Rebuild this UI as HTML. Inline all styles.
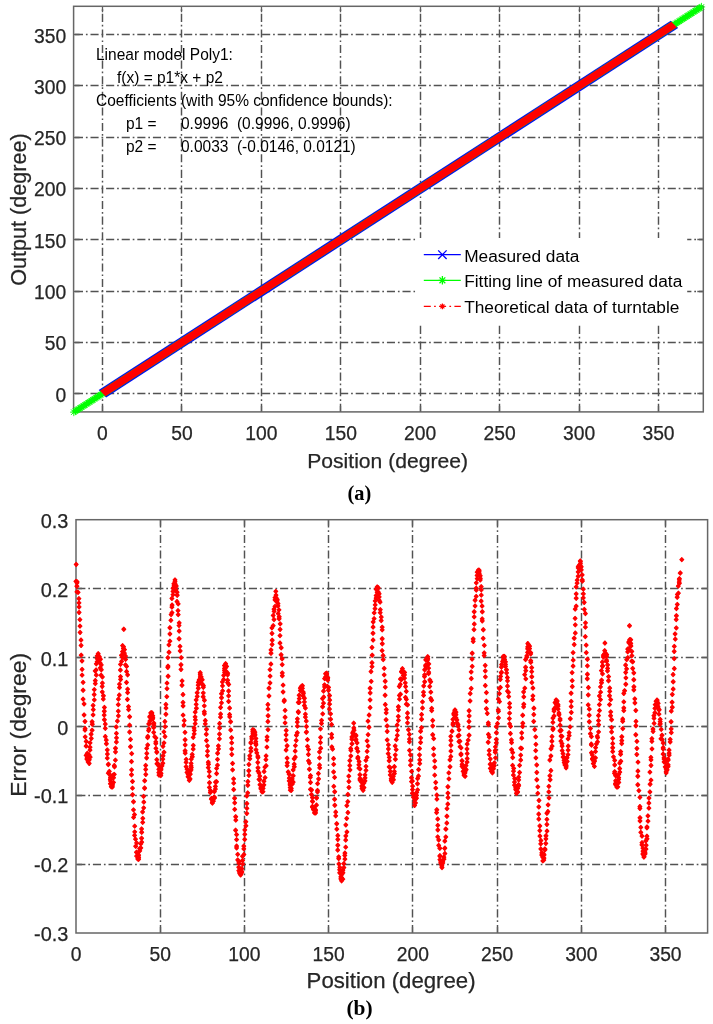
<!DOCTYPE html>
<html><head><meta charset="utf-8"><title>Figure</title>
<style>
html,body{margin:0;padding:0;background:#fff;}
body{width:713px;height:1024px;position:relative;overflow:hidden;font-family:"Liberation Sans",sans-serif;}
svg text{font-family:"Liberation Sans",sans-serif;}
svg text.cap{font-family:"Liberation Serif","DejaVu Serif",serif;}
</style></head><body>
<svg width="713" height="1024" viewBox="0 0 713 1024" style="display:block;position:absolute;left:0;top:0">
<rect width="713" height="1024" fill="#fff"/>
<g stroke="#525252" stroke-width="1.45" stroke-dasharray="8.1 2.9 1.7 2.9" fill="none">
<path d="M102.50 411.9 V6.3"/>
<path d="M181.50 411.9 V6.3"/>
<path d="M261.50 411.9 V6.3"/>
<path d="M340.50 411.9 V6.3"/>
<path d="M420.50 411.9 V6.3"/>
<path d="M499.50 411.9 V6.3"/>
<path d="M579.50 411.9 V6.3"/>
<path d="M658.50 411.9 V6.3"/>
<path d="M74.89999999999999 393.50 H703.3"/>
<path d="M74.89999999999999 342.50 H703.3"/>
<path d="M74.89999999999999 291.50 H703.3"/>
<path d="M74.89999999999999 239.50 H703.3"/>
<path d="M74.89999999999999 188.50 H703.3"/>
<path d="M74.89999999999999 137.50 H703.3"/>
<path d="M74.89999999999999 85.50 H703.3"/>
<path d="M74.89999999999999 34.50 H703.3"/>
</g>
<path d="M102.5 411.9v-6M102.5 6.3v6M73.6 393.5h6M703.3 393.5h-6M181.5 411.9v-6M181.5 6.3v6M73.6 342.5h6M703.3 342.5h-6M261.5 411.9v-6M261.5 6.3v6M73.6 291.5h6M703.3 291.5h-6M340.5 411.9v-6M340.5 6.3v6M73.6 239.5h6M703.3 239.5h-6M420.5 411.9v-6M420.5 6.3v6M73.6 188.5h6M703.3 188.5h-6M499.5 411.9v-6M499.5 6.3v6M73.6 137.5h6M703.3 137.5h-6M579.5 411.9v-6M579.5 6.3v6M73.6 85.5h6M703.3 85.5h-6M658.5 411.9v-6M658.5 6.3v6M73.6 34.5h6M703.3 34.5h-6" stroke="#5c5c5c" stroke-width="1.3" fill="none"/>
<rect x="73.6" y="6.3" width="629.6999999999999" height="405.59999999999997" fill="none" stroke="#666666" stroke-width="1.5"/>
<polygon points="98.70,390.00 106.10,397.40 678.14,28.04 670.74,20.64" fill="#0000ff"/>
<polygon points="99.35,390.65 105.45,396.75 677.49,27.39 671.39,21.29" fill="#00d000" opacity="0.45"/>
<polygon points="75.2,414.3 75.9,413.8 76.7,413.2 77.5,412.7 78.3,412.2 79.1,411.7 79.9,411.2 80.7,410.7 81.5,410.2 82.3,409.7 83.1,409.1 83.9,408.6 84.7,408.1 85.5,407.6 86.3,407.1 87.1,406.6 87.9,406.1 88.7,405.5 89.5,405.0 90.2,404.5 91.0,404.0 91.8,403.5 92.6,403.0 93.4,402.5 94.2,402.0 95.0,401.4 95.8,400.9 96.6,400.4 97.4,399.9 98.2,399.4 99.0,398.9 99.8,398.4 100.6,397.9 101.4,397.3 102.2,396.8 103.0,396.3 103.8,395.8 104.6,395.3 105.3,394.8 106.1,394.3 106.9,393.7 107.7,393.2 108.5,392.7 109.3,392.2 110.1,391.7 110.9,391.2 111.7,390.7 112.5,390.2 113.3,389.6 114.1,389.1 114.9,388.6 115.7,388.1 116.5,387.6 117.3,387.1 118.1,386.6 118.9,386.1 119.6,385.5 120.4,385.0 121.2,384.5 122.0,384.0 122.8,383.5 123.6,383.0 124.4,382.5 125.2,381.9 126.0,381.4 126.8,380.9 127.6,380.4 128.4,379.9 129.2,379.4 130.0,378.9 130.8,378.4 131.6,377.8 132.4,377.3 133.2,376.8 133.9,376.3 134.7,375.8 135.5,375.3 136.3,374.8 137.1,374.3 137.9,373.7 138.7,373.2 139.5,372.7 140.3,372.2 141.1,371.7 141.9,371.2 142.7,370.7 143.5,370.2 144.3,369.6 145.1,369.1 145.9,368.6 146.7,368.1 147.5,367.6 148.2,367.1 149.0,366.6 149.8,366.0 150.6,365.5 151.4,365.0 152.2,364.5 153.0,364.0 153.8,363.5 154.6,363.0 155.4,362.5 156.2,361.9 157.0,361.4 157.8,360.9 158.6,360.4 159.4,359.9 160.2,359.4 161.0,358.9 161.8,358.4 162.5,357.8 163.3,357.3 164.1,356.8 164.9,356.3 165.7,355.8 166.5,355.3 167.3,354.8 168.1,354.2 168.9,353.7 169.7,353.2 170.5,352.7 171.3,352.2 172.1,351.7 172.9,351.2 173.7,350.7 174.5,350.1 175.3,349.6 176.1,349.1 176.9,348.6 177.6,348.1 178.4,347.6 179.2,347.1 180.0,346.6 180.8,346.0 181.6,345.5 182.4,345.0 183.2,344.5 184.0,344.0 184.8,343.5 185.6,343.0 186.4,342.4 187.2,341.9 188.0,341.4 188.8,340.9 189.6,340.4 190.4,339.9 191.2,339.4 191.9,338.9 192.7,338.3 193.5,337.8 194.3,337.3 195.1,336.8 195.9,336.3 196.7,335.8 197.5,335.3 198.3,334.8 199.1,334.2 199.9,333.7 200.7,333.2 201.5,332.7 202.3,332.2 203.1,331.7 203.9,331.2 204.7,330.6 205.5,330.1 206.2,329.6 207.0,329.1 207.8,328.6 208.6,328.1 209.4,327.6 210.2,327.1 211.0,326.5 211.8,326.0 212.6,325.5 213.4,325.0 214.2,324.5 215.0,324.0 215.8,323.5 216.6,323.0 217.4,322.4 218.2,321.9 219.0,321.4 219.8,320.9 220.5,320.4 221.3,319.9 222.1,319.4 222.9,318.9 223.7,318.3 224.5,317.8 225.3,317.3 226.1,316.8 226.9,316.3 227.7,315.8 228.5,315.3 229.3,314.7 230.1,314.2 230.9,313.7 231.7,313.2 232.5,312.7 233.3,312.2 234.1,311.7 234.8,311.2 235.6,310.6 236.4,310.1 237.2,309.6 238.0,309.1 238.8,308.6 239.6,308.1 240.4,307.6 241.2,307.1 242.0,306.5 242.8,306.0 243.6,305.5 244.4,305.0 245.2,304.5 246.0,304.0 246.8,303.5 247.6,302.9 248.4,302.4 249.1,301.9 249.9,301.4 250.7,300.9 251.5,300.4 252.3,299.9 253.1,299.4 253.9,298.8 254.7,298.3 255.5,297.8 256.3,297.3 257.1,296.8 257.9,296.3 258.7,295.8 259.5,295.3 260.3,294.7 261.1,294.2 261.9,293.7 262.7,293.2 263.5,292.7 264.2,292.2 265.0,291.7 265.8,291.1 266.6,290.6 267.4,290.1 268.2,289.6 269.0,289.1 269.8,288.6 270.6,288.1 271.4,287.6 272.2,287.0 273.0,286.5 273.8,286.0 274.6,285.5 275.4,285.0 276.2,284.5 277.0,284.0 277.8,283.5 278.5,282.9 279.3,282.4 280.1,281.9 280.9,281.4 281.7,280.9 282.5,280.4 283.3,279.9 284.1,279.3 284.9,278.8 285.7,278.3 286.5,277.8 287.3,277.3 288.1,276.8 288.9,276.3 289.7,275.8 290.5,275.2 291.3,274.7 292.1,274.2 292.8,273.7 293.6,273.2 294.4,272.7 295.2,272.2 296.0,271.7 296.8,271.1 297.6,270.6 298.4,270.1 299.2,269.6 300.0,269.1 300.8,268.6 301.6,268.1 302.4,267.6 303.2,267.0 304.0,266.5 304.8,266.0 305.6,265.5 306.4,265.0 307.1,264.5 307.9,264.0 308.7,263.4 309.5,262.9 310.3,262.4 311.1,261.9 311.9,261.4 312.7,260.9 313.5,260.4 314.3,259.9 315.1,259.3 315.9,258.8 316.7,258.3 317.5,257.8 318.3,257.3 319.1,256.8 319.9,256.3 320.7,255.8 321.4,255.2 322.2,254.7 323.0,254.2 323.8,253.7 324.6,253.2 325.4,252.7 326.2,252.2 327.0,251.6 327.8,251.1 328.6,250.6 329.4,250.1 330.2,249.6 331.0,249.1 331.8,248.6 332.6,248.1 333.4,247.5 334.2,247.0 335.0,246.5 335.8,246.0 336.5,245.5 337.3,245.0 338.1,244.5 338.9,244.0 339.7,243.4 340.5,242.9 341.3,242.4 342.1,241.9 342.9,241.4 343.7,240.9 344.5,240.4 345.3,239.8 346.1,239.3 346.9,238.8 347.7,238.3 348.5,237.8 349.3,237.3 350.1,236.8 350.8,236.3 351.6,235.7 352.4,235.2 353.2,234.7 354.0,234.2 354.8,233.7 355.6,233.2 356.4,232.7 357.2,232.2 358.0,231.6 358.8,231.1 359.6,230.6 360.4,230.1 361.2,229.6 362.0,229.1 362.8,228.6 363.6,228.0 364.4,227.5 365.1,227.0 365.9,226.5 366.7,226.0 367.5,225.5 368.3,225.0 369.1,224.5 369.9,223.9 370.7,223.4 371.5,222.9 372.3,222.4 373.1,221.9 373.9,221.4 374.7,220.9 375.5,220.4 376.3,219.8 377.1,219.3 377.9,218.8 378.7,218.3 379.4,217.8 380.2,217.3 381.0,216.8 381.8,216.3 382.6,215.7 383.4,215.2 384.2,214.7 385.0,214.2 385.8,213.7 386.6,213.2 387.4,212.7 388.2,212.1 389.0,211.6 389.8,211.1 390.6,210.6 391.4,210.1 392.2,209.6 393.0,209.1 393.7,208.6 394.5,208.0 395.3,207.5 396.1,207.0 396.9,206.5 397.7,206.0 398.5,205.5 399.3,205.0 400.1,204.5 400.9,203.9 401.7,203.4 402.5,202.9 403.3,202.4 404.1,201.9 404.9,201.4 405.7,200.9 406.5,200.3 407.3,199.8 408.0,199.3 408.8,198.8 409.6,198.3 410.4,197.8 411.2,197.3 412.0,196.8 412.8,196.2 413.6,195.7 414.4,195.2 415.2,194.7 416.0,194.2 416.8,193.7 417.6,193.2 418.4,192.7 419.2,192.1 420.0,191.6 420.8,191.1 421.6,190.6 422.4,190.1 423.1,189.6 423.9,189.1 424.7,188.5 425.5,188.0 426.3,187.5 427.1,187.0 427.9,186.5 428.7,186.0 429.5,185.5 430.3,185.0 431.1,184.4 431.9,183.9 432.7,183.4 433.5,182.9 434.3,182.4 435.1,181.9 435.9,181.4 436.7,180.9 437.4,180.3 438.2,179.8 439.0,179.3 439.8,178.8 440.6,178.3 441.4,177.8 442.2,177.3 443.0,176.7 443.8,176.2 444.6,175.7 445.4,175.2 446.2,174.7 447.0,174.2 447.8,173.7 448.6,173.2 449.4,172.6 450.2,172.1 451.0,171.6 451.7,171.1 452.5,170.6 453.3,170.1 454.1,169.6 454.9,169.1 455.7,168.5 456.5,168.0 457.3,167.5 458.1,167.0 458.9,166.5 459.7,166.0 460.5,165.5 461.3,165.0 462.1,164.4 462.9,163.9 463.7,163.4 464.5,162.9 465.3,162.4 466.0,161.9 466.8,161.4 467.6,160.8 468.4,160.3 469.2,159.8 470.0,159.3 470.8,158.8 471.6,158.3 472.4,157.8 473.2,157.3 474.0,156.7 474.8,156.2 475.6,155.7 476.4,155.2 477.2,154.7 478.0,154.2 478.8,153.7 479.6,153.2 480.3,152.6 481.1,152.1 481.9,151.6 482.7,151.1 483.5,150.6 484.3,150.1 485.1,149.6 485.9,149.0 486.7,148.5 487.5,148.0 488.3,147.5 489.1,147.0 489.9,146.5 490.7,146.0 491.5,145.5 492.3,144.9 493.1,144.4 493.9,143.9 494.7,143.4 495.4,142.9 496.2,142.4 497.0,141.9 497.8,141.4 498.6,140.8 499.4,140.3 500.2,139.8 501.0,139.3 501.8,138.8 502.6,138.3 503.4,137.8 504.2,137.2 505.0,136.7 505.8,136.2 506.6,135.7 507.4,135.2 508.2,134.7 509.0,134.2 509.7,133.7 510.5,133.1 511.3,132.6 512.1,132.1 512.9,131.6 513.7,131.1 514.5,130.6 515.3,130.1 516.1,129.6 516.9,129.0 517.7,128.5 518.5,128.0 519.3,127.5 520.1,127.0 520.9,126.5 521.7,126.0 522.5,125.4 523.3,124.9 524.0,124.4 524.8,123.9 525.6,123.4 526.4,122.9 527.2,122.4 528.0,121.9 528.8,121.3 529.6,120.8 530.4,120.3 531.2,119.8 532.0,119.3 532.8,118.8 533.6,118.3 534.4,117.8 535.2,117.2 536.0,116.7 536.8,116.2 537.6,115.7 538.3,115.2 539.1,114.7 539.9,114.2 540.7,113.7 541.5,113.1 542.3,112.6 543.1,112.1 543.9,111.6 544.7,111.1 545.5,110.6 546.3,110.1 547.1,109.5 547.9,109.0 548.7,108.5 549.5,108.0 550.3,107.5 551.1,107.0 551.9,106.5 552.6,106.0 553.4,105.4 554.2,104.9 555.0,104.4 555.8,103.9 556.6,103.4 557.4,102.9 558.2,102.4 559.0,101.9 559.8,101.3 560.6,100.8 561.4,100.3 562.2,99.8 563.0,99.3 563.8,98.8 564.6,98.3 565.4,97.7 566.2,97.2 566.9,96.7 567.7,96.2 568.5,95.7 569.3,95.2 570.1,94.7 570.9,94.2 571.7,93.6 572.5,93.1 573.3,92.6 574.1,92.1 574.9,91.6 575.7,91.1 576.5,90.6 577.3,90.1 578.1,89.5 578.9,89.0 579.7,88.5 580.5,88.0 581.3,87.5 582.0,87.0 582.8,86.5 583.6,85.9 584.4,85.4 585.2,84.9 586.0,84.4 586.8,83.9 587.6,83.4 588.4,82.9 589.2,82.4 590.0,81.8 590.8,81.3 591.6,80.8 592.4,80.3 593.2,79.8 594.0,79.3 594.8,78.8 595.6,78.3 596.3,77.7 597.1,77.2 597.9,76.7 598.7,76.2 599.5,75.7 600.3,75.2 601.1,74.7 601.9,74.1 602.7,73.6 603.5,73.1 604.3,72.6 605.1,72.1 605.9,71.6 606.7,71.1 607.5,70.6 608.3,70.0 609.1,69.5 609.9,69.0 610.6,68.5 611.4,68.0 612.2,67.5 613.0,67.0 613.8,66.5 614.6,65.9 615.4,65.4 616.2,64.9 617.0,64.4 617.8,63.9 618.6,63.4 619.4,62.9 620.2,62.4 621.0,61.8 621.8,61.3 622.6,60.8 623.4,60.3 624.2,59.8 624.9,59.3 625.7,58.8 626.5,58.2 627.3,57.7 628.1,57.2 628.9,56.7 629.7,56.2 630.5,55.7 631.3,55.2 632.1,54.7 632.9,54.1 633.7,53.6 634.5,53.1 635.3,52.6 636.1,52.1 636.9,51.6 637.7,51.1 638.5,50.6 639.2,50.0 640.0,49.5 640.8,49.0 641.6,48.5 642.4,48.0 643.2,47.5 644.0,47.0 644.8,46.4 645.6,45.9 646.4,45.4 647.2,44.9 648.0,44.4 648.8,43.9 649.6,43.4 650.4,42.9 651.2,42.3 652.0,41.8 652.8,41.3 653.6,40.8 654.3,40.3 655.1,39.8 655.9,39.3 656.7,38.8 657.5,38.2 658.3,37.7 659.1,37.2 659.9,36.7 660.7,36.2 661.5,35.7 662.3,35.2 663.1,34.6 663.9,34.1 664.7,33.6 665.5,33.1 666.3,32.6 667.1,32.1 667.9,31.6 668.6,31.1 669.4,30.5 670.2,30.0 671.0,29.5 671.8,29.0 672.6,28.5 673.4,28.0 674.2,27.5 675.0,27.0 675.8,26.4 676.6,25.9 677.4,25.4 678.2,24.9 679.0,24.4 679.8,23.9 680.6,23.4 681.4,22.8 682.2,22.3 682.9,21.8 683.7,21.3 684.5,20.8 685.3,20.3 686.1,19.8 686.9,19.3 687.7,18.7 688.5,18.2 689.3,17.7 690.1,17.2 690.9,16.7 691.7,16.2 692.5,15.7 693.3,15.2 694.1,14.6 694.9,14.1 695.7,13.6 696.5,13.1 697.2,12.6 698.0,12.1 698.8,11.6 699.6,11.1 700.4,10.5 701.2,10.0 702.0,9.5 702.8,9.0 700.1,4.8 699.3,5.3 698.5,5.8 697.7,6.3 696.9,6.8 696.1,7.4 695.3,7.9 694.5,8.4 693.7,8.9 692.9,9.4 692.2,9.9 691.4,10.4 690.6,11.0 689.8,11.5 689.0,12.0 688.2,12.5 687.4,13.0 686.6,13.5 685.8,14.0 685.0,14.5 684.2,15.1 683.4,15.6 682.6,16.1 681.8,16.6 681.0,17.1 680.2,17.6 679.4,18.1 678.6,18.6 677.9,19.2 677.1,19.7 676.3,20.2 675.5,20.7 674.7,21.2 673.9,21.7 673.1,22.2 672.3,22.8 671.5,23.3 670.7,23.8 669.9,24.3 669.1,24.8 668.3,25.3 667.5,25.8 666.7,26.3 665.9,26.9 665.1,27.4 664.3,27.9 663.5,28.4 662.8,28.9 662.0,29.4 661.2,29.9 660.4,30.4 659.6,31.0 658.8,31.5 658.0,32.0 657.2,32.5 656.4,33.0 655.6,33.5 654.8,34.0 654.0,34.6 653.2,35.1 652.4,35.6 651.6,36.1 650.8,36.6 650.0,37.1 649.2,37.6 648.5,38.1 647.7,38.7 646.9,39.2 646.1,39.7 645.3,40.2 644.5,40.7 643.7,41.2 642.9,41.7 642.1,42.2 641.3,42.8 640.5,43.3 639.7,43.8 638.9,44.3 638.1,44.8 637.3,45.3 636.5,45.8 635.7,46.4 634.9,46.9 634.2,47.4 633.4,47.9 632.6,48.4 631.8,48.9 631.0,49.4 630.2,49.9 629.4,50.5 628.6,51.0 627.8,51.5 627.0,52.0 626.2,52.5 625.4,53.0 624.6,53.5 623.8,54.0 623.0,54.6 622.2,55.1 621.4,55.6 620.6,56.1 619.9,56.6 619.1,57.1 618.3,57.6 617.5,58.1 616.7,58.7 615.9,59.2 615.1,59.7 614.3,60.2 613.5,60.7 612.7,61.2 611.9,61.7 611.1,62.3 610.3,62.8 609.5,63.3 608.7,63.8 607.9,64.3 607.1,64.8 606.3,65.3 605.6,65.8 604.8,66.4 604.0,66.9 603.2,67.4 602.4,67.9 601.6,68.4 600.8,68.9 600.0,69.4 599.2,69.9 598.4,70.5 597.6,71.0 596.8,71.5 596.0,72.0 595.2,72.5 594.4,73.0 593.6,73.5 592.8,74.1 592.0,74.6 591.3,75.1 590.5,75.6 589.7,76.1 588.9,76.6 588.1,77.1 587.3,77.6 586.5,78.2 585.7,78.7 584.9,79.2 584.1,79.7 583.3,80.2 582.5,80.7 581.7,81.2 580.9,81.7 580.1,82.3 579.3,82.8 578.5,83.3 577.7,83.8 576.9,84.3 576.2,84.8 575.4,85.3 574.6,85.9 573.8,86.4 573.0,86.9 572.2,87.4 571.4,87.9 570.6,88.4 569.8,88.9 569.0,89.4 568.2,90.0 567.4,90.5 566.6,91.0 565.8,91.5 565.0,92.0 564.2,92.5 563.4,93.0 562.6,93.5 561.9,94.1 561.1,94.6 560.3,95.1 559.5,95.6 558.7,96.1 557.9,96.6 557.1,97.1 556.3,97.7 555.5,98.2 554.7,98.7 553.9,99.2 553.1,99.7 552.3,100.2 551.5,100.7 550.7,101.2 549.9,101.8 549.1,102.3 548.3,102.8 547.6,103.3 546.8,103.8 546.0,104.3 545.2,104.8 544.4,105.3 543.6,105.9 542.8,106.4 542.0,106.9 541.2,107.4 540.4,107.9 539.6,108.4 538.8,108.9 538.0,109.4 537.2,110.0 536.4,110.5 535.6,111.0 534.8,111.5 534.0,112.0 533.3,112.5 532.5,113.0 531.7,113.6 530.9,114.1 530.1,114.6 529.3,115.1 528.5,115.6 527.7,116.1 526.9,116.6 526.1,117.1 525.3,117.7 524.5,118.2 523.7,118.7 522.9,119.2 522.1,119.7 521.3,120.2 520.5,120.7 519.7,121.2 519.0,121.8 518.2,122.3 517.4,122.8 516.6,123.3 515.8,123.8 515.0,124.3 514.2,124.8 513.4,125.4 512.6,125.9 511.8,126.4 511.0,126.9 510.2,127.4 509.4,127.9 508.6,128.4 507.8,128.9 507.0,129.5 506.2,130.0 505.4,130.5 504.6,131.0 503.9,131.5 503.1,132.0 502.3,132.5 501.5,133.0 500.7,133.6 499.9,134.1 499.1,134.6 498.3,135.1 497.5,135.6 496.7,136.1 495.9,136.6 495.1,137.2 494.3,137.7 493.5,138.2 492.7,138.7 491.9,139.2 491.1,139.7 490.3,140.2 489.6,140.7 488.8,141.3 488.0,141.8 487.2,142.3 486.4,142.8 485.6,143.3 484.8,143.8 484.0,144.3 483.2,144.8 482.4,145.4 481.6,145.9 480.8,146.4 480.0,146.9 479.2,147.4 478.4,147.9 477.6,148.4 476.8,149.0 476.0,149.5 475.3,150.0 474.5,150.5 473.7,151.0 472.9,151.5 472.1,152.0 471.3,152.5 470.5,153.1 469.7,153.6 468.9,154.1 468.1,154.6 467.3,155.1 466.5,155.6 465.7,156.1 464.9,156.6 464.1,157.2 463.3,157.7 462.5,158.2 461.7,158.7 461.0,159.2 460.2,159.7 459.4,160.2 458.6,160.7 457.8,161.3 457.0,161.8 456.2,162.3 455.4,162.8 454.6,163.3 453.8,163.8 453.0,164.3 452.2,164.9 451.4,165.4 450.6,165.9 449.8,166.4 449.0,166.9 448.2,167.4 447.4,167.9 446.7,168.4 445.9,169.0 445.1,169.5 444.3,170.0 443.5,170.5 442.7,171.0 441.9,171.5 441.1,172.0 440.3,172.5 439.5,173.1 438.7,173.6 437.9,174.1 437.1,174.6 436.3,175.1 435.5,175.6 434.7,176.1 433.9,176.7 433.1,177.2 432.4,177.7 431.6,178.2 430.8,178.7 430.0,179.2 429.2,179.7 428.4,180.2 427.6,180.8 426.8,181.3 426.0,181.8 425.2,182.3 424.4,182.8 423.6,183.3 422.8,183.8 422.0,184.3 421.2,184.9 420.4,185.4 419.6,185.9 418.8,186.4 418.0,186.9 417.3,187.4 416.5,187.9 415.7,188.5 414.9,189.0 414.1,189.5 413.3,190.0 412.5,190.5 411.7,191.0 410.9,191.5 410.1,192.0 409.3,192.6 408.5,193.1 407.7,193.6 406.9,194.1 406.1,194.6 405.3,195.1 404.5,195.6 403.7,196.1 403.0,196.7 402.2,197.2 401.4,197.7 400.6,198.2 399.8,198.7 399.0,199.2 398.2,199.7 397.4,200.3 396.6,200.8 395.8,201.3 395.0,201.8 394.2,202.3 393.4,202.8 392.6,203.3 391.8,203.8 391.0,204.4 390.2,204.9 389.4,205.4 388.7,205.9 387.9,206.4 387.1,206.9 386.3,207.4 385.5,207.9 384.7,208.5 383.9,209.0 383.1,209.5 382.3,210.0 381.5,210.5 380.7,211.0 379.9,211.5 379.1,212.0 378.3,212.6 377.5,213.1 376.7,213.6 375.9,214.1 375.1,214.6 374.4,215.1 373.6,215.6 372.8,216.2 372.0,216.7 371.2,217.2 370.4,217.7 369.6,218.2 368.8,218.7 368.0,219.2 367.2,219.7 366.4,220.3 365.6,220.8 364.8,221.3 364.0,221.8 363.2,222.3 362.4,222.8 361.6,223.3 360.8,223.8 360.1,224.4 359.3,224.9 358.5,225.4 357.7,225.9 356.9,226.4 356.1,226.9 355.3,227.4 354.5,228.0 353.7,228.5 352.9,229.0 352.1,229.5 351.3,230.0 350.5,230.5 349.7,231.0 348.9,231.5 348.1,232.1 347.3,232.6 346.5,233.1 345.7,233.6 345.0,234.1 344.2,234.6 343.4,235.1 342.6,235.6 341.8,236.2 341.0,236.7 340.2,237.2 339.4,237.7 338.6,238.2 337.8,238.7 337.0,239.2 336.2,239.8 335.4,240.3 334.6,240.8 333.8,241.3 333.0,241.8 332.2,242.3 331.4,242.8 330.7,243.3 329.9,243.9 329.1,244.4 328.3,244.9 327.5,245.4 326.7,245.9 325.9,246.4 325.1,246.9 324.3,247.4 323.5,248.0 322.7,248.5 321.9,249.0 321.1,249.5 320.3,250.0 319.5,250.5 318.7,251.0 317.9,251.6 317.1,252.1 316.4,252.6 315.6,253.1 314.8,253.6 314.0,254.1 313.2,254.6 312.4,255.1 311.6,255.7 310.8,256.2 310.0,256.7 309.2,257.2 308.4,257.7 307.6,258.2 306.8,258.7 306.0,259.2 305.2,259.8 304.4,260.3 303.6,260.8 302.8,261.3 302.1,261.8 301.3,262.3 300.5,262.8 299.7,263.3 298.9,263.9 298.1,264.4 297.3,264.9 296.5,265.4 295.7,265.9 294.9,266.4 294.1,266.9 293.3,267.5 292.5,268.0 291.7,268.5 290.9,269.0 290.1,269.5 289.3,270.0 288.5,270.5 287.8,271.0 287.0,271.6 286.2,272.1 285.4,272.6 284.6,273.1 283.8,273.6 283.0,274.1 282.2,274.6 281.4,275.1 280.6,275.7 279.8,276.2 279.0,276.7 278.2,277.2 277.4,277.7 276.6,278.2 275.8,278.7 275.0,279.3 274.2,279.8 273.5,280.3 272.7,280.8 271.9,281.3 271.1,281.8 270.3,282.3 269.5,282.8 268.7,283.4 267.9,283.9 267.1,284.4 266.3,284.9 265.5,285.4 264.7,285.9 263.9,286.4 263.1,286.9 262.3,287.5 261.5,288.0 260.7,288.5 259.9,289.0 259.1,289.5 258.4,290.0 257.6,290.5 256.8,291.1 256.0,291.6 255.2,292.1 254.4,292.6 253.6,293.1 252.8,293.6 252.0,294.1 251.2,294.6 250.4,295.2 249.6,295.7 248.8,296.2 248.0,296.7 247.2,297.2 246.4,297.7 245.6,298.2 244.8,298.7 244.1,299.3 243.3,299.8 242.5,300.3 241.7,300.8 240.9,301.3 240.1,301.8 239.3,302.3 238.5,302.9 237.7,303.4 236.9,303.9 236.1,304.4 235.3,304.9 234.5,305.4 233.7,305.9 232.9,306.4 232.1,307.0 231.3,307.5 230.5,308.0 229.8,308.5 229.0,309.0 228.2,309.5 227.4,310.0 226.6,310.5 225.8,311.1 225.0,311.6 224.2,312.1 223.4,312.6 222.6,313.1 221.8,313.6 221.0,314.1 220.2,314.6 219.4,315.2 218.6,315.7 217.8,316.2 217.0,316.7 216.2,317.2 215.5,317.7 214.7,318.2 213.9,318.8 213.1,319.3 212.3,319.8 211.5,320.3 210.7,320.8 209.9,321.3 209.1,321.8 208.3,322.3 207.5,322.9 206.7,323.4 205.9,323.9 205.1,324.4 204.3,324.9 203.5,325.4 202.7,325.9 201.9,326.4 201.2,327.0 200.4,327.5 199.6,328.0 198.8,328.5 198.0,329.0 197.2,329.5 196.4,330.0 195.6,330.6 194.8,331.1 194.0,331.6 193.2,332.1 192.4,332.6 191.6,333.1 190.8,333.6 190.0,334.1 189.2,334.7 188.4,335.2 187.6,335.7 186.8,336.2 186.1,336.7 185.3,337.2 184.5,337.7 183.7,338.2 182.9,338.8 182.1,339.3 181.3,339.8 180.5,340.3 179.7,340.8 178.9,341.3 178.1,341.8 177.3,342.4 176.5,342.9 175.7,343.4 174.9,343.9 174.1,344.4 173.3,344.9 172.5,345.4 171.8,345.9 171.0,346.5 170.2,347.0 169.4,347.5 168.6,348.0 167.8,348.5 167.0,349.0 166.2,349.5 165.4,350.0 164.6,350.6 163.8,351.1 163.0,351.6 162.2,352.1 161.4,352.6 160.6,353.1 159.8,353.6 159.0,354.2 158.2,354.7 157.5,355.2 156.7,355.7 155.9,356.2 155.1,356.7 154.3,357.2 153.5,357.7 152.7,358.3 151.9,358.8 151.1,359.3 150.3,359.8 149.5,360.3 148.7,360.8 147.9,361.3 147.1,361.8 146.3,362.4 145.5,362.9 144.7,363.4 143.9,363.9 143.2,364.4 142.4,364.9 141.6,365.4 140.8,365.9 140.0,366.5 139.2,367.0 138.4,367.5 137.6,368.0 136.8,368.5 136.0,369.0 135.2,369.5 134.4,370.1 133.6,370.6 132.8,371.1 132.0,371.6 131.2,372.1 130.4,372.6 129.6,373.1 128.9,373.6 128.1,374.2 127.3,374.7 126.5,375.2 125.7,375.7 124.9,376.2 124.1,376.7 123.3,377.2 122.5,377.7 121.7,378.3 120.9,378.8 120.1,379.3 119.3,379.8 118.5,380.3 117.7,380.8 116.9,381.3 116.1,381.9 115.3,382.4 114.6,382.9 113.8,383.4 113.0,383.9 112.2,384.4 111.4,384.9 110.6,385.4 109.8,386.0 109.0,386.5 108.2,387.0 107.4,387.5 106.6,388.0 105.8,388.5 105.0,389.0 104.2,389.5 103.4,390.1 102.6,390.6 101.8,391.1 101.0,391.6 100.2,392.1 99.5,392.6 98.7,393.1 97.9,393.7 97.1,394.2 96.3,394.7 95.5,395.2 94.7,395.7 93.9,396.2 93.1,396.7 92.3,397.2 91.5,397.8 90.7,398.3 89.9,398.8 89.1,399.3 88.3,399.8 87.5,400.3 86.7,400.8 85.9,401.3 85.2,401.9 84.4,402.4 83.6,402.9 82.8,403.4 82.0,403.9 81.2,404.4 80.4,404.9 79.6,405.5 78.8,406.0 78.0,406.5 77.2,407.0 76.4,407.5 75.6,408.0 74.8,408.5 74.0,409.0 73.2,409.6 72.4,410.1" fill="#00ff00"/>
<path d="M71.05 409.42l5.5 5.5M71.05 414.92l5.5-5.5M70.10 412.17h7.4M73.80 408.17v8M72.64 408.39l5.5 5.5M72.64 413.89l5.5-5.5M71.69 411.14h7.4M75.39 407.14v8M74.23 407.37l5.5 5.5M74.23 412.87l5.5-5.5M73.28 410.12h7.4M76.98 406.12v8M75.81 406.34l5.5 5.5M75.81 411.84l5.5-5.5M74.86 409.09h7.4M78.56 405.09v8M77.40 405.31l5.5 5.5M77.40 410.81l5.5-5.5M76.45 408.06h7.4M80.15 404.06v8M78.99 404.29l5.5 5.5M78.99 409.79l5.5-5.5M78.04 407.04h7.4M81.74 403.04v8M80.58 403.26l5.5 5.5M80.58 408.76l5.5-5.5M79.63 406.01h7.4M83.33 402.01v8M82.17 402.24l5.5 5.5M82.17 407.74l5.5-5.5M81.22 404.99h7.4M84.92 400.99v8M83.76 401.21l5.5 5.5M83.76 406.71l5.5-5.5M82.81 403.96h7.4M86.51 399.96v8M85.35 400.18l5.5 5.5M85.35 405.68l5.5-5.5M84.40 402.93h7.4M88.10 398.93v8M86.94 399.16l5.5 5.5M86.94 404.66l5.5-5.5M85.99 401.91h7.4M89.69 397.91v8M88.53 398.13l5.5 5.5M88.53 403.63l5.5-5.5M87.58 400.88h7.4M91.28 396.88v8M90.12 397.11l5.5 5.5M90.12 402.61l5.5-5.5M89.17 399.86h7.4M92.87 395.86v8M91.71 396.08l5.5 5.5M91.71 401.58l5.5-5.5M90.76 398.83h7.4M94.46 394.83v8M93.29 395.05l5.5 5.5M93.29 400.55l5.5-5.5M92.34 397.80h7.4M96.04 393.80v8M94.88 394.03l5.5 5.5M94.88 399.53l5.5-5.5M93.93 396.78h7.4M97.63 392.78v8M96.47 393.00l5.5 5.5M96.47 398.50l5.5-5.5M95.52 395.75h7.4M99.22 391.75v8M98.06 391.98l5.5 5.5M98.06 397.48l5.5-5.5M97.11 394.73h7.4M100.81 390.73v8M99.65 390.95l5.5 5.5M99.65 396.45l5.5-5.5M98.70 393.70h7.4M102.40 389.70v8M101.24 389.92l5.5 5.5M101.24 395.42l5.5-5.5M100.29 392.67h7.4M103.99 388.67v8M102.83 388.90l5.5 5.5M102.83 394.40l5.5-5.5M101.88 391.65h7.4M105.58 387.65v8M104.42 387.87l5.5 5.5M104.42 393.37l5.5-5.5M103.47 390.62h7.4M107.17 386.62v8M106.01 386.85l5.5 5.5M106.01 392.35l5.5-5.5M105.06 389.60h7.4M108.76 385.60v8M107.59 385.82l5.5 5.5M107.59 391.32l5.5-5.5M106.64 388.57h7.4M110.34 384.57v8M109.18 384.79l5.5 5.5M109.18 390.29l5.5-5.5M108.23 387.54h7.4M111.93 383.54v8M110.77 383.77l5.5 5.5M110.77 389.27l5.5-5.5M109.82 386.52h7.4M113.52 382.52v8M112.36 382.74l5.5 5.5M112.36 388.24l5.5-5.5M111.41 385.49h7.4M115.11 381.49v8M113.95 381.72l5.5 5.5M113.95 387.22l5.5-5.5M113.00 384.47h7.4M116.70 380.47v8M115.54 380.69l5.5 5.5M115.54 386.19l5.5-5.5M114.59 383.44h7.4M118.29 379.44v8M117.13 379.66l5.5 5.5M117.13 385.16l5.5-5.5M116.18 382.41h7.4M119.88 378.41v8M118.72 378.64l5.5 5.5M118.72 384.14l5.5-5.5M117.77 381.39h7.4M121.47 377.39v8M120.31 377.61l5.5 5.5M120.31 383.11l5.5-5.5M119.36 380.36h7.4M123.06 376.36v8M121.90 376.59l5.5 5.5M121.90 382.09l5.5-5.5M120.95 379.34h7.4M124.65 375.34v8M123.49 375.56l5.5 5.5M123.49 381.06l5.5-5.5M122.54 378.31h7.4M126.24 374.31v8M125.07 374.53l5.5 5.5M125.07 380.03l5.5-5.5M124.12 377.28h7.4M127.82 373.28v8M126.66 373.51l5.5 5.5M126.66 379.01l5.5-5.5M125.71 376.26h7.4M129.41 372.26v8M128.25 372.48l5.5 5.5M128.25 377.98l5.5-5.5M127.30 375.23h7.4M131.00 371.23v8M129.84 371.46l5.5 5.5M129.84 376.96l5.5-5.5M128.89 374.21h7.4M132.59 370.21v8M131.43 370.43l5.5 5.5M131.43 375.93l5.5-5.5M130.48 373.18h7.4M134.18 369.18v8M133.02 369.40l5.5 5.5M133.02 374.90l5.5-5.5M132.07 372.15h7.4M135.77 368.15v8M134.61 368.38l5.5 5.5M134.61 373.88l5.5-5.5M133.66 371.13h7.4M137.36 367.13v8M136.20 367.35l5.5 5.5M136.20 372.85l5.5-5.5M135.25 370.10h7.4M138.95 366.10v8M137.79 366.33l5.5 5.5M137.79 371.83l5.5-5.5M136.84 369.08h7.4M140.54 365.08v8M139.38 365.30l5.5 5.5M139.38 370.80l5.5-5.5M138.43 368.05h7.4M142.12 364.05v8M140.96 364.27l5.5 5.5M140.96 369.77l5.5-5.5M140.01 367.02h7.4M143.71 363.02v8M142.55 363.25l5.5 5.5M142.55 368.75l5.5-5.5M141.60 366.00h7.4M145.30 362.00v8M144.14 362.22l5.5 5.5M144.14 367.72l5.5-5.5M143.19 364.97h7.4M146.89 360.97v8M145.73 361.20l5.5 5.5M145.73 366.70l5.5-5.5M144.78 363.95h7.4M148.48 359.95v8M147.32 360.17l5.5 5.5M147.32 365.67l5.5-5.5M146.37 362.92h7.4M150.07 358.92v8M148.91 359.14l5.5 5.5M148.91 364.64l5.5-5.5M147.96 361.89h7.4M151.66 357.89v8M150.50 358.12l5.5 5.5M150.50 363.62l5.5-5.5M149.55 360.87h7.4M153.25 356.87v8M152.09 357.09l5.5 5.5M152.09 362.59l5.5-5.5M151.14 359.84h7.4M154.84 355.84v8M153.68 356.07l5.5 5.5M153.68 361.57l5.5-5.5M152.73 358.82h7.4M156.43 354.82v8M155.27 355.04l5.5 5.5M155.27 360.54l5.5-5.5M154.32 357.79h7.4M158.02 353.79v8M156.85 354.01l5.5 5.5M156.85 359.51l5.5-5.5M155.90 356.76h7.4M159.60 352.76v8M158.44 352.99l5.5 5.5M158.44 358.49l5.5-5.5M157.49 355.74h7.4M161.19 351.74v8M160.03 351.96l5.5 5.5M160.03 357.46l5.5-5.5M159.08 354.71h7.4M162.78 350.71v8M161.62 350.94l5.5 5.5M161.62 356.44l5.5-5.5M160.67 353.69h7.4M164.37 349.69v8M163.21 349.91l5.5 5.5M163.21 355.41l5.5-5.5M162.26 352.66h7.4M165.96 348.66v8M164.80 348.88l5.5 5.5M164.80 354.38l5.5-5.5M163.85 351.63h7.4M167.55 347.63v8M166.39 347.86l5.5 5.5M166.39 353.36l5.5-5.5M165.44 350.61h7.4M169.14 346.61v8M167.98 346.83l5.5 5.5M167.98 352.33l5.5-5.5M167.03 349.58h7.4M170.73 345.58v8M169.57 345.81l5.5 5.5M169.57 351.31l5.5-5.5M168.62 348.56h7.4M172.32 344.56v8M171.16 344.78l5.5 5.5M171.16 350.28l5.5-5.5M170.21 347.53h7.4M173.91 343.53v8M172.74 343.75l5.5 5.5M172.74 349.25l5.5-5.5M171.79 346.50h7.4M175.49 342.50v8M174.33 342.73l5.5 5.5M174.33 348.23l5.5-5.5M173.38 345.48h7.4M177.08 341.48v8M175.92 341.70l5.5 5.5M175.92 347.20l5.5-5.5M174.97 344.45h7.4M178.67 340.45v8M177.51 340.68l5.5 5.5M177.51 346.18l5.5-5.5M176.56 343.43h7.4M180.26 339.43v8M179.10 339.65l5.5 5.5M179.10 345.15l5.5-5.5M178.15 342.40h7.4M181.85 338.40v8M180.69 338.62l5.5 5.5M180.69 344.12l5.5-5.5M179.74 341.37h7.4M183.44 337.37v8M182.28 337.60l5.5 5.5M182.28 343.10l5.5-5.5M181.33 340.35h7.4M185.03 336.35v8M183.87 336.57l5.5 5.5M183.87 342.07l5.5-5.5M182.92 339.32h7.4M186.62 335.32v8M185.46 335.55l5.5 5.5M185.46 341.05l5.5-5.5M184.51 338.30h7.4M188.21 334.30v8M187.05 334.52l5.5 5.5M187.05 340.02l5.5-5.5M186.10 337.27h7.4M189.80 333.27v8M188.63 333.49l5.5 5.5M188.63 338.99l5.5-5.5M187.68 336.24h7.4M191.38 332.24v8M190.22 332.47l5.5 5.5M190.22 337.97l5.5-5.5M189.27 335.22h7.4M192.97 331.22v8M191.81 331.44l5.5 5.5M191.81 336.94l5.5-5.5M190.86 334.19h7.4M194.56 330.19v8M193.40 330.42l5.5 5.5M193.40 335.92l5.5-5.5M192.45 333.17h7.4M196.15 329.17v8M194.99 329.39l5.5 5.5M194.99 334.89l5.5-5.5M194.04 332.14h7.4M197.74 328.14v8M196.58 328.36l5.5 5.5M196.58 333.86l5.5-5.5M195.63 331.11h7.4M199.33 327.11v8M198.17 327.34l5.5 5.5M198.17 332.84l5.5-5.5M197.22 330.09h7.4M200.92 326.09v8M199.76 326.31l5.5 5.5M199.76 331.81l5.5-5.5M198.81 329.06h7.4M202.51 325.06v8M201.35 325.29l5.5 5.5M201.35 330.79l5.5-5.5M200.40 328.04h7.4M204.10 324.04v8M202.94 324.26l5.5 5.5M202.94 329.76l5.5-5.5M201.99 327.01h7.4M205.69 323.01v8M204.52 323.23l5.5 5.5M204.52 328.73l5.5-5.5M203.57 325.98h7.4M207.27 321.98v8M206.11 322.21l5.5 5.5M206.11 327.71l5.5-5.5M205.16 324.96h7.4M208.86 320.96v8M207.70 321.18l5.5 5.5M207.70 326.68l5.5-5.5M206.75 323.93h7.4M210.45 319.93v8M209.29 320.16l5.5 5.5M209.29 325.66l5.5-5.5M208.34 322.91h7.4M212.04 318.91v8M210.88 319.13l5.5 5.5M210.88 324.63l5.5-5.5M209.93 321.88h7.4M213.63 317.88v8M212.47 318.10l5.5 5.5M212.47 323.60l5.5-5.5M211.52 320.85h7.4M215.22 316.85v8M214.06 317.08l5.5 5.5M214.06 322.58l5.5-5.5M213.11 319.83h7.4M216.81 315.83v8M215.65 316.05l5.5 5.5M215.65 321.55l5.5-5.5M214.70 318.80h7.4M218.40 314.80v8M217.24 315.03l5.5 5.5M217.24 320.53l5.5-5.5M216.29 317.78h7.4M219.99 313.78v8M218.82 314.00l5.5 5.5M218.82 319.50l5.5-5.5M217.88 316.75h7.4M221.57 312.75v8M220.41 312.97l5.5 5.5M220.41 318.47l5.5-5.5M219.46 315.72h7.4M223.16 311.72v8M222.00 311.95l5.5 5.5M222.00 317.45l5.5-5.5M221.05 314.70h7.4M224.75 310.70v8M223.59 310.92l5.5 5.5M223.59 316.42l5.5-5.5M222.64 313.67h7.4M226.34 309.67v8M225.18 309.90l5.5 5.5M225.18 315.40l5.5-5.5M224.23 312.65h7.4M227.93 308.65v8M226.77 308.87l5.5 5.5M226.77 314.37l5.5-5.5M225.82 311.62h7.4M229.52 307.62v8M228.36 307.84l5.5 5.5M228.36 313.34l5.5-5.5M227.41 310.59h7.4M231.11 306.59v8M229.95 306.82l5.5 5.5M229.95 312.32l5.5-5.5M229.00 309.57h7.4M232.70 305.57v8M231.54 305.79l5.5 5.5M231.54 311.29l5.5-5.5M230.59 308.54h7.4M234.29 304.54v8M233.13 304.77l5.5 5.5M233.13 310.27l5.5-5.5M232.18 307.52h7.4M235.88 303.52v8M234.72 303.74l5.5 5.5M234.72 309.24l5.5-5.5M233.77 306.49h7.4M237.47 302.49v8M236.30 302.71l5.5 5.5M236.30 308.21l5.5-5.5M235.35 305.46h7.4M239.05 301.46v8M237.89 301.69l5.5 5.5M237.89 307.19l5.5-5.5M236.94 304.44h7.4M240.64 300.44v8M239.48 300.66l5.5 5.5M239.48 306.16l5.5-5.5M238.53 303.41h7.4M242.23 299.41v8M241.07 299.64l5.5 5.5M241.07 305.14l5.5-5.5M240.12 302.39h7.4M243.82 298.39v8M242.66 298.61l5.5 5.5M242.66 304.11l5.5-5.5M241.71 301.36h7.4M245.41 297.36v8M244.25 297.58l5.5 5.5M244.25 303.08l5.5-5.5M243.30 300.33h7.4M247.00 296.33v8M245.84 296.56l5.5 5.5M245.84 302.06l5.5-5.5M244.89 299.31h7.4M248.59 295.31v8M247.43 295.53l5.5 5.5M247.43 301.03l5.5-5.5M246.48 298.28h7.4M250.18 294.28v8M249.02 294.51l5.5 5.5M249.02 300.01l5.5-5.5M248.07 297.26h7.4M251.77 293.26v8M250.60 293.48l5.5 5.5M250.60 298.98l5.5-5.5M249.66 296.23h7.4M253.35 292.23v8M252.19 292.45l5.5 5.5M252.19 297.95l5.5-5.5M251.24 295.20h7.4M254.94 291.20v8M253.78 291.43l5.5 5.5M253.78 296.93l5.5-5.5M252.83 294.18h7.4M256.53 290.18v8M255.37 290.40l5.5 5.5M255.37 295.90l5.5-5.5M254.42 293.15h7.4M258.12 289.15v8M256.96 289.38l5.5 5.5M256.96 294.88l5.5-5.5M256.01 292.13h7.4M259.71 288.13v8M258.55 288.35l5.5 5.5M258.55 293.85l5.5-5.5M257.60 291.10h7.4M261.30 287.10v8M260.14 287.32l5.5 5.5M260.14 292.82l5.5-5.5M259.19 290.07h7.4M262.89 286.07v8M261.73 286.30l5.5 5.5M261.73 291.80l5.5-5.5M260.78 289.05h7.4M264.48 285.05v8M263.32 285.27l5.5 5.5M263.32 290.77l5.5-5.5M262.37 288.02h7.4M266.07 284.02v8M264.91 284.25l5.5 5.5M264.91 289.75l5.5-5.5M263.96 287.00h7.4M267.66 283.00v8M266.50 283.22l5.5 5.5M266.50 288.72l5.5-5.5M265.55 285.97h7.4M269.25 281.97v8M268.08 282.19l5.5 5.5M268.08 287.69l5.5-5.5M267.13 284.94h7.4M270.83 280.94v8M269.67 281.17l5.5 5.5M269.67 286.67l5.5-5.5M268.72 283.92h7.4M272.42 279.92v8M271.26 280.14l5.5 5.5M271.26 285.64l5.5-5.5M270.31 282.89h7.4M274.01 278.89v8M272.85 279.12l5.5 5.5M272.85 284.62l5.5-5.5M271.90 281.87h7.4M275.60 277.87v8M274.44 278.09l5.5 5.5M274.44 283.59l5.5-5.5M273.49 280.84h7.4M277.19 276.84v8M276.03 277.06l5.5 5.5M276.03 282.56l5.5-5.5M275.08 279.81h7.4M278.78 275.81v8M277.62 276.04l5.5 5.5M277.62 281.54l5.5-5.5M276.67 278.79h7.4M280.37 274.79v8M279.21 275.01l5.5 5.5M279.21 280.51l5.5-5.5M278.26 277.76h7.4M281.96 273.76v8M280.80 273.99l5.5 5.5M280.80 279.49l5.5-5.5M279.85 276.74h7.4M283.55 272.74v8M282.38 272.96l5.5 5.5M282.38 278.46l5.5-5.5M281.44 275.71h7.4M285.13 271.71v8M283.97 271.93l5.5 5.5M283.97 277.43l5.5-5.5M283.02 274.68h7.4M286.72 270.68v8M285.56 270.91l5.5 5.5M285.56 276.41l5.5-5.5M284.61 273.66h7.4M288.31 269.66v8M287.15 269.88l5.5 5.5M287.15 275.38l5.5-5.5M286.20 272.63h7.4M289.90 268.63v8M288.74 268.86l5.5 5.5M288.74 274.36l5.5-5.5M287.79 271.61h7.4M291.49 267.61v8M290.33 267.83l5.5 5.5M290.33 273.33l5.5-5.5M289.38 270.58h7.4M293.08 266.58v8M291.92 266.80l5.5 5.5M291.92 272.30l5.5-5.5M290.97 269.55h7.4M294.67 265.55v8M293.51 265.78l5.5 5.5M293.51 271.28l5.5-5.5M292.56 268.53h7.4M296.26 264.53v8M295.10 264.75l5.5 5.5M295.10 270.25l5.5-5.5M294.15 267.50h7.4M297.85 263.50v8M296.69 263.73l5.5 5.5M296.69 269.23l5.5-5.5M295.74 266.48h7.4M299.44 262.48v8M298.27 262.70l5.5 5.5M298.27 268.20l5.5-5.5M297.32 265.45h7.4M301.02 261.45v8M299.86 261.67l5.5 5.5M299.86 267.17l5.5-5.5M298.91 264.42h7.4M302.61 260.42v8M301.45 260.65l5.5 5.5M301.45 266.15l5.5-5.5M300.50 263.40h7.4M304.20 259.40v8M303.04 259.62l5.5 5.5M303.04 265.12l5.5-5.5M302.09 262.37h7.4M305.79 258.37v8M304.63 258.60l5.5 5.5M304.63 264.10l5.5-5.5M303.68 261.35h7.4M307.38 257.35v8M306.22 257.57l5.5 5.5M306.22 263.07l5.5-5.5M305.27 260.32h7.4M308.97 256.32v8M307.81 256.54l5.5 5.5M307.81 262.04l5.5-5.5M306.86 259.29h7.4M310.56 255.29v8M309.40 255.52l5.5 5.5M309.40 261.02l5.5-5.5M308.45 258.27h7.4M312.15 254.27v8M310.99 254.49l5.5 5.5M310.99 259.99l5.5-5.5M310.04 257.24h7.4M313.74 253.24v8M312.58 253.47l5.5 5.5M312.58 258.97l5.5-5.5M311.63 256.22h7.4M315.33 252.22v8M314.16 252.44l5.5 5.5M314.16 257.94l5.5-5.5M313.21 255.19h7.4M316.91 251.19v8M315.75 251.41l5.5 5.5M315.75 256.91l5.5-5.5M314.80 254.16h7.4M318.50 250.16v8M317.34 250.39l5.5 5.5M317.34 255.89l5.5-5.5M316.39 253.14h7.4M320.09 249.14v8M318.93 249.36l5.5 5.5M318.93 254.86l5.5-5.5M317.98 252.11h7.4M321.68 248.11v8M320.52 248.34l5.5 5.5M320.52 253.84l5.5-5.5M319.57 251.09h7.4M323.27 247.09v8M322.11 247.31l5.5 5.5M322.11 252.81l5.5-5.5M321.16 250.06h7.4M324.86 246.06v8M323.70 246.28l5.5 5.5M323.70 251.78l5.5-5.5M322.75 249.03h7.4M326.45 245.03v8M325.29 245.26l5.5 5.5M325.29 250.76l5.5-5.5M324.34 248.01h7.4M328.04 244.01v8M326.88 244.23l5.5 5.5M326.88 249.73l5.5-5.5M325.93 246.98h7.4M329.63 242.98v8M328.47 243.21l5.5 5.5M328.47 248.71l5.5-5.5M327.52 245.96h7.4M331.22 241.96v8M330.06 242.18l5.5 5.5M330.06 247.68l5.5-5.5M329.11 244.93h7.4M332.81 240.93v8M331.64 241.15l5.5 5.5M331.64 246.65l5.5-5.5M330.69 243.90h7.4M334.39 239.90v8M333.23 240.13l5.5 5.5M333.23 245.63l5.5-5.5M332.28 242.88h7.4M335.98 238.88v8M334.82 239.10l5.5 5.5M334.82 244.60l5.5-5.5M333.87 241.85h7.4M337.57 237.85v8M336.41 238.08l5.5 5.5M336.41 243.58l5.5-5.5M335.46 240.83h7.4M339.16 236.83v8M338.00 237.05l5.5 5.5M338.00 242.55l5.5-5.5M337.05 239.80h7.4M340.75 235.80v8M339.59 236.02l5.5 5.5M339.59 241.52l5.5-5.5M338.64 238.77h7.4M342.34 234.77v8M341.18 235.00l5.5 5.5M341.18 240.50l5.5-5.5M340.23 237.75h7.4M343.93 233.75v8M342.77 233.97l5.5 5.5M342.77 239.47l5.5-5.5M341.82 236.72h7.4M345.52 232.72v8M344.36 232.95l5.5 5.5M344.36 238.45l5.5-5.5M343.41 235.70h7.4M347.11 231.70v8M345.94 231.92l5.5 5.5M345.94 237.42l5.5-5.5M345.00 234.67h7.4M348.69 230.67v8M347.53 230.89l5.5 5.5M347.53 236.39l5.5-5.5M346.58 233.64h7.4M350.28 229.64v8M349.12 229.87l5.5 5.5M349.12 235.37l5.5-5.5M348.17 232.62h7.4M351.87 228.62v8M350.71 228.84l5.5 5.5M350.71 234.34l5.5-5.5M349.76 231.59h7.4M353.46 227.59v8M352.30 227.82l5.5 5.5M352.30 233.32l5.5-5.5M351.35 230.57h7.4M355.05 226.57v8M353.89 226.79l5.5 5.5M353.89 232.29l5.5-5.5M352.94 229.54h7.4M356.64 225.54v8M355.48 225.76l5.5 5.5M355.48 231.26l5.5-5.5M354.53 228.51h7.4M358.23 224.51v8M357.07 224.74l5.5 5.5M357.07 230.24l5.5-5.5M356.12 227.49h7.4M359.82 223.49v8M358.66 223.71l5.5 5.5M358.66 229.21l5.5-5.5M357.71 226.46h7.4M361.41 222.46v8M360.25 222.69l5.5 5.5M360.25 228.19l5.5-5.5M359.30 225.44h7.4M363.00 221.44v8M361.84 221.66l5.5 5.5M361.84 227.16l5.5-5.5M360.89 224.41h7.4M364.59 220.41v8M363.42 220.63l5.5 5.5M363.42 226.13l5.5-5.5M362.47 223.38h7.4M366.17 219.38v8M365.01 219.61l5.5 5.5M365.01 225.11l5.5-5.5M364.06 222.36h7.4M367.76 218.36v8M366.60 218.58l5.5 5.5M366.60 224.08l5.5-5.5M365.65 221.33h7.4M369.35 217.33v8M368.19 217.56l5.5 5.5M368.19 223.06l5.5-5.5M367.24 220.31h7.4M370.94 216.31v8M369.78 216.53l5.5 5.5M369.78 222.03l5.5-5.5M368.83 219.28h7.4M372.53 215.28v8M371.37 215.50l5.5 5.5M371.37 221.00l5.5-5.5M370.42 218.25h7.4M374.12 214.25v8M372.96 214.48l5.5 5.5M372.96 219.98l5.5-5.5M372.01 217.23h7.4M375.71 213.23v8M374.55 213.45l5.5 5.5M374.55 218.95l5.5-5.5M373.60 216.20h7.4M377.30 212.20v8M376.14 212.43l5.5 5.5M376.14 217.93l5.5-5.5M375.19 215.18h7.4M378.89 211.18v8M377.73 211.40l5.5 5.5M377.73 216.90l5.5-5.5M376.78 214.15h7.4M380.48 210.15v8M379.31 210.37l5.5 5.5M379.31 215.87l5.5-5.5M378.36 213.12h7.4M382.06 209.12v8M380.90 209.35l5.5 5.5M380.90 214.85l5.5-5.5M379.95 212.10h7.4M383.65 208.10v8M382.49 208.32l5.5 5.5M382.49 213.82l5.5-5.5M381.54 211.07h7.4M385.24 207.07v8M384.08 207.30l5.5 5.5M384.08 212.80l5.5-5.5M383.13 210.05h7.4M386.83 206.05v8M385.67 206.27l5.5 5.5M385.67 211.77l5.5-5.5M384.72 209.02h7.4M388.42 205.02v8M387.26 205.24l5.5 5.5M387.26 210.74l5.5-5.5M386.31 207.99h7.4M390.01 203.99v8M388.85 204.22l5.5 5.5M388.85 209.72l5.5-5.5M387.90 206.97h7.4M391.60 202.97v8M390.44 203.19l5.5 5.5M390.44 208.69l5.5-5.5M389.49 205.94h7.4M393.19 201.94v8M392.03 202.17l5.5 5.5M392.03 207.67l5.5-5.5M391.08 204.92h7.4M394.78 200.92v8M393.62 201.14l5.5 5.5M393.62 206.64l5.5-5.5M392.67 203.89h7.4M396.37 199.89v8M395.20 200.11l5.5 5.5M395.20 205.61l5.5-5.5M394.25 202.86h7.4M397.95 198.86v8M396.79 199.09l5.5 5.5M396.79 204.59l5.5-5.5M395.84 201.84h7.4M399.54 197.84v8M398.38 198.06l5.5 5.5M398.38 203.56l5.5-5.5M397.43 200.81h7.4M401.13 196.81v8M399.97 197.04l5.5 5.5M399.97 202.54l5.5-5.5M399.02 199.79h7.4M402.72 195.79v8M401.56 196.01l5.5 5.5M401.56 201.51l5.5-5.5M400.61 198.76h7.4M404.31 194.76v8M403.15 194.98l5.5 5.5M403.15 200.48l5.5-5.5M402.20 197.73h7.4M405.90 193.73v8M404.74 193.96l5.5 5.5M404.74 199.46l5.5-5.5M403.79 196.71h7.4M407.49 192.71v8M406.33 192.93l5.5 5.5M406.33 198.43l5.5-5.5M405.38 195.68h7.4M409.08 191.68v8M407.92 191.91l5.5 5.5M407.92 197.41l5.5-5.5M406.97 194.66h7.4M410.67 190.66v8M409.50 190.88l5.5 5.5M409.50 196.38l5.5-5.5M408.56 193.63h7.4M412.25 189.63v8M411.09 189.85l5.5 5.5M411.09 195.35l5.5-5.5M410.14 192.60h7.4M413.84 188.60v8M412.68 188.83l5.5 5.5M412.68 194.33l5.5-5.5M411.73 191.58h7.4M415.43 187.58v8M414.27 187.80l5.5 5.5M414.27 193.30l5.5-5.5M413.32 190.55h7.4M417.02 186.55v8M415.86 186.78l5.5 5.5M415.86 192.28l5.5-5.5M414.91 189.53h7.4M418.61 185.53v8M417.45 185.75l5.5 5.5M417.45 191.25l5.5-5.5M416.50 188.50h7.4M420.20 184.50v8M419.04 184.72l5.5 5.5M419.04 190.22l5.5-5.5M418.09 187.47h7.4M421.79 183.47v8M420.63 183.70l5.5 5.5M420.63 189.20l5.5-5.5M419.68 186.45h7.4M423.38 182.45v8M422.22 182.67l5.5 5.5M422.22 188.17l5.5-5.5M421.27 185.42h7.4M424.97 181.42v8M423.81 181.65l5.5 5.5M423.81 187.15l5.5-5.5M422.86 184.40h7.4M426.56 180.40v8M425.39 180.62l5.5 5.5M425.39 186.12l5.5-5.5M424.44 183.37h7.4M428.14 179.37v8M426.98 179.59l5.5 5.5M426.98 185.09l5.5-5.5M426.03 182.34h7.4M429.73 178.34v8M428.57 178.57l5.5 5.5M428.57 184.07l5.5-5.5M427.62 181.32h7.4M431.32 177.32v8M430.16 177.54l5.5 5.5M430.16 183.04l5.5-5.5M429.21 180.29h7.4M432.91 176.29v8M431.75 176.52l5.5 5.5M431.75 182.02l5.5-5.5M430.80 179.27h7.4M434.50 175.27v8M433.34 175.49l5.5 5.5M433.34 180.99l5.5-5.5M432.39 178.24h7.4M436.09 174.24v8M434.93 174.46l5.5 5.5M434.93 179.96l5.5-5.5M433.98 177.21h7.4M437.68 173.21v8M436.52 173.44l5.5 5.5M436.52 178.94l5.5-5.5M435.57 176.19h7.4M439.27 172.19v8M438.11 172.41l5.5 5.5M438.11 177.91l5.5-5.5M437.16 175.16h7.4M440.86 171.16v8M439.70 171.39l5.5 5.5M439.70 176.89l5.5-5.5M438.75 174.14h7.4M442.45 170.14v8M441.28 170.36l5.5 5.5M441.28 175.86l5.5-5.5M440.33 173.11h7.4M444.03 169.11v8M442.87 169.33l5.5 5.5M442.87 174.83l5.5-5.5M441.92 172.08h7.4M445.62 168.08v8M444.46 168.31l5.5 5.5M444.46 173.81l5.5-5.5M443.51 171.06h7.4M447.21 167.06v8M446.05 167.28l5.5 5.5M446.05 172.78l5.5-5.5M445.10 170.03h7.4M448.80 166.03v8M447.64 166.26l5.5 5.5M447.64 171.76l5.5-5.5M446.69 169.01h7.4M450.39 165.01v8M449.23 165.23l5.5 5.5M449.23 170.73l5.5-5.5M448.28 167.98h7.4M451.98 163.98v8M450.82 164.20l5.5 5.5M450.82 169.70l5.5-5.5M449.87 166.95h7.4M453.57 162.95v8M452.41 163.18l5.5 5.5M452.41 168.68l5.5-5.5M451.46 165.93h7.4M455.16 161.93v8M454.00 162.15l5.5 5.5M454.00 167.65l5.5-5.5M453.05 164.90h7.4M456.75 160.90v8M455.59 161.13l5.5 5.5M455.59 166.63l5.5-5.5M454.64 163.88h7.4M458.34 159.88v8M457.17 160.10l5.5 5.5M457.17 165.60l5.5-5.5M456.22 162.85h7.4M459.92 158.85v8M458.76 159.07l5.5 5.5M458.76 164.57l5.5-5.5M457.81 161.82h7.4M461.51 157.82v8M460.35 158.05l5.5 5.5M460.35 163.55l5.5-5.5M459.40 160.80h7.4M463.10 156.80v8M461.94 157.02l5.5 5.5M461.94 162.52l5.5-5.5M460.99 159.77h7.4M464.69 155.77v8M463.53 156.00l5.5 5.5M463.53 161.50l5.5-5.5M462.58 158.75h7.4M466.28 154.75v8M465.12 154.97l5.5 5.5M465.12 160.47l5.5-5.5M464.17 157.72h7.4M467.87 153.72v8M466.71 153.94l5.5 5.5M466.71 159.44l5.5-5.5M465.76 156.69h7.4M469.46 152.69v8M468.30 152.92l5.5 5.5M468.30 158.42l5.5-5.5M467.35 155.67h7.4M471.05 151.67v8M469.89 151.89l5.5 5.5M469.89 157.39l5.5-5.5M468.94 154.64h7.4M472.64 150.64v8M471.48 150.87l5.5 5.5M471.48 156.37l5.5-5.5M470.53 153.62h7.4M474.23 149.62v8M473.07 149.84l5.5 5.5M473.07 155.34l5.5-5.5M472.12 152.59h7.4M475.82 148.59v8M474.65 148.81l5.5 5.5M474.65 154.31l5.5-5.5M473.70 151.56h7.4M477.40 147.56v8M476.24 147.79l5.5 5.5M476.24 153.29l5.5-5.5M475.29 150.54h7.4M478.99 146.54v8M477.83 146.76l5.5 5.5M477.83 152.26l5.5-5.5M476.88 149.51h7.4M480.58 145.51v8M479.42 145.74l5.5 5.5M479.42 151.24l5.5-5.5M478.47 148.49h7.4M482.17 144.49v8M481.01 144.71l5.5 5.5M481.01 150.21l5.5-5.5M480.06 147.46h7.4M483.76 143.46v8M482.60 143.68l5.5 5.5M482.60 149.18l5.5-5.5M481.65 146.43h7.4M485.35 142.43v8M484.19 142.66l5.5 5.5M484.19 148.16l5.5-5.5M483.24 145.41h7.4M486.94 141.41v8M485.78 141.63l5.5 5.5M485.78 147.13l5.5-5.5M484.83 144.38h7.4M488.53 140.38v8M487.37 140.61l5.5 5.5M487.37 146.11l5.5-5.5M486.42 143.36h7.4M490.12 139.36v8M488.96 139.58l5.5 5.5M488.96 145.08l5.5-5.5M488.01 142.33h7.4M491.71 138.33v8M490.54 138.55l5.5 5.5M490.54 144.05l5.5-5.5M489.59 141.30h7.4M493.29 137.30v8M492.13 137.53l5.5 5.5M492.13 143.03l5.5-5.5M491.18 140.28h7.4M494.88 136.28v8M493.72 136.50l5.5 5.5M493.72 142.00l5.5-5.5M492.77 139.25h7.4M496.47 135.25v8M495.31 135.48l5.5 5.5M495.31 140.98l5.5-5.5M494.36 138.23h7.4M498.06 134.23v8M496.90 134.45l5.5 5.5M496.90 139.95l5.5-5.5M495.95 137.20h7.4M499.65 133.20v8M498.49 133.42l5.5 5.5M498.49 138.92l5.5-5.5M497.54 136.17h7.4M501.24 132.17v8M500.08 132.40l5.5 5.5M500.08 137.90l5.5-5.5M499.13 135.15h7.4M502.83 131.15v8M501.67 131.37l5.5 5.5M501.67 136.87l5.5-5.5M500.72 134.12h7.4M504.42 130.12v8M503.26 130.35l5.5 5.5M503.26 135.85l5.5-5.5M502.31 133.10h7.4M506.01 129.10v8M504.85 129.32l5.5 5.5M504.85 134.82l5.5-5.5M503.90 132.07h7.4M507.60 128.07v8M506.43 128.29l5.5 5.5M506.43 133.79l5.5-5.5M505.48 131.04h7.4M509.18 127.04v8M508.02 127.27l5.5 5.5M508.02 132.77l5.5-5.5M507.07 130.02h7.4M510.77 126.02v8M509.61 126.24l5.5 5.5M509.61 131.74l5.5-5.5M508.66 128.99h7.4M512.36 124.99v8M511.20 125.22l5.5 5.5M511.20 130.72l5.5-5.5M510.25 127.97h7.4M513.95 123.97v8M512.79 124.19l5.5 5.5M512.79 129.69l5.5-5.5M511.84 126.94h7.4M515.54 122.94v8M514.38 123.16l5.5 5.5M514.38 128.66l5.5-5.5M513.43 125.91h7.4M517.13 121.91v8M515.97 122.14l5.5 5.5M515.97 127.64l5.5-5.5M515.02 124.89h7.4M518.72 120.89v8M517.56 121.11l5.5 5.5M517.56 126.61l5.5-5.5M516.61 123.86h7.4M520.31 119.86v8M519.15 120.09l5.5 5.5M519.15 125.59l5.5-5.5M518.20 122.84h7.4M521.90 118.84v8M520.74 119.06l5.5 5.5M520.74 124.56l5.5-5.5M519.78 121.81h7.4M523.49 117.81v8M522.32 118.03l5.5 5.5M522.32 123.53l5.5-5.5M521.37 120.78h7.4M525.07 116.78v8M523.91 117.01l5.5 5.5M523.91 122.51l5.5-5.5M522.96 119.76h7.4M526.66 115.76v8M525.50 115.98l5.5 5.5M525.50 121.48l5.5-5.5M524.55 118.73h7.4M528.25 114.73v8M527.09 114.96l5.5 5.5M527.09 120.46l5.5-5.5M526.14 117.71h7.4M529.84 113.71v8M528.68 113.93l5.5 5.5M528.68 119.43l5.5-5.5M527.73 116.68h7.4M531.43 112.68v8M530.27 112.90l5.5 5.5M530.27 118.40l5.5-5.5M529.32 115.65h7.4M533.02 111.65v8M531.86 111.88l5.5 5.5M531.86 117.38l5.5-5.5M530.91 114.63h7.4M534.61 110.63v8M533.45 110.85l5.5 5.5M533.45 116.35l5.5-5.5M532.50 113.60h7.4M536.20 109.60v8M535.04 109.83l5.5 5.5M535.04 115.33l5.5-5.5M534.09 112.58h7.4M537.79 108.58v8M536.62 108.80l5.5 5.5M536.62 114.30l5.5-5.5M535.67 111.55h7.4M539.38 107.55v8M538.21 107.77l5.5 5.5M538.21 113.27l5.5-5.5M537.26 110.52h7.4M540.96 106.52v8M539.80 106.75l5.5 5.5M539.80 112.25l5.5-5.5M538.85 109.50h7.4M542.55 105.50v8M541.39 105.72l5.5 5.5M541.39 111.22l5.5-5.5M540.44 108.47h7.4M544.14 104.47v8M542.98 104.70l5.5 5.5M542.98 110.20l5.5-5.5M542.03 107.45h7.4M545.73 103.45v8M544.57 103.67l5.5 5.5M544.57 109.17l5.5-5.5M543.62 106.42h7.4M547.32 102.42v8M546.16 102.64l5.5 5.5M546.16 108.14l5.5-5.5M545.21 105.39h7.4M548.91 101.39v8M547.75 101.62l5.5 5.5M547.75 107.12l5.5-5.5M546.80 104.37h7.4M550.50 100.37v8M549.34 100.59l5.5 5.5M549.34 106.09l5.5-5.5M548.39 103.34h7.4M552.09 99.34v8M550.93 99.57l5.5 5.5M550.93 105.07l5.5-5.5M549.98 102.32h7.4M553.68 98.32v8M552.51 98.54l5.5 5.5M552.51 104.04l5.5-5.5M551.56 101.29h7.4M555.26 97.29v8M554.10 97.51l5.5 5.5M554.10 103.01l5.5-5.5M553.15 100.26h7.4M556.85 96.26v8M555.69 96.49l5.5 5.5M555.69 101.99l5.5-5.5M554.74 99.24h7.4M558.44 95.24v8M557.28 95.46l5.5 5.5M557.28 100.96l5.5-5.5M556.33 98.21h7.4M560.03 94.21v8M558.87 94.44l5.5 5.5M558.87 99.94l5.5-5.5M557.92 97.19h7.4M561.62 93.19v8M560.46 93.41l5.5 5.5M560.46 98.91l5.5-5.5M559.51 96.16h7.4M563.21 92.16v8M562.05 92.38l5.5 5.5M562.05 97.88l5.5-5.5M561.10 95.13h7.4M564.80 91.13v8M563.64 91.36l5.5 5.5M563.64 96.86l5.5-5.5M562.69 94.11h7.4M566.39 90.11v8M565.23 90.33l5.5 5.5M565.23 95.83l5.5-5.5M564.28 93.08h7.4M567.98 89.08v8M566.82 89.31l5.5 5.5M566.82 94.81l5.5-5.5M565.87 92.06h7.4M569.57 88.06v8M568.40 88.28l5.5 5.5M568.40 93.78l5.5-5.5M567.45 91.03h7.4M571.15 87.03v8M569.99 87.25l5.5 5.5M569.99 92.75l5.5-5.5M569.04 90.00h7.4M572.74 86.00v8M571.58 86.23l5.5 5.5M571.58 91.73l5.5-5.5M570.63 88.98h7.4M574.33 84.98v8M573.17 85.20l5.5 5.5M573.17 90.70l5.5-5.5M572.22 87.95h7.4M575.92 83.95v8M574.76 84.18l5.5 5.5M574.76 89.68l5.5-5.5M573.81 86.93h7.4M577.51 82.93v8M576.35 83.15l5.5 5.5M576.35 88.65l5.5-5.5M575.40 85.90h7.4M579.10 81.90v8M577.94 82.12l5.5 5.5M577.94 87.62l5.5-5.5M576.99 84.87h7.4M580.69 80.87v8M579.53 81.10l5.5 5.5M579.53 86.60l5.5-5.5M578.58 83.85h7.4M582.28 79.85v8M581.12 80.07l5.5 5.5M581.12 85.57l5.5-5.5M580.17 82.82h7.4M583.87 78.82v8M582.71 79.05l5.5 5.5M582.71 84.55l5.5-5.5M581.76 81.80h7.4M585.46 77.80v8M584.29 78.02l5.5 5.5M584.29 83.52l5.5-5.5M583.34 80.77h7.4M587.04 76.77v8M585.88 76.99l5.5 5.5M585.88 82.49l5.5-5.5M584.93 79.74h7.4M588.63 75.74v8M587.47 75.97l5.5 5.5M587.47 81.47l5.5-5.5M586.52 78.72h7.4M590.22 74.72v8M589.06 74.94l5.5 5.5M589.06 80.44l5.5-5.5M588.11 77.69h7.4M591.81 73.69v8M590.65 73.92l5.5 5.5M590.65 79.42l5.5-5.5M589.70 76.67h7.4M593.40 72.67v8M592.24 72.89l5.5 5.5M592.24 78.39l5.5-5.5M591.29 75.64h7.4M594.99 71.64v8M593.83 71.86l5.5 5.5M593.83 77.36l5.5-5.5M592.88 74.61h7.4M596.58 70.61v8M595.42 70.84l5.5 5.5M595.42 76.34l5.5-5.5M594.47 73.59h7.4M598.17 69.59v8M597.01 69.81l5.5 5.5M597.01 75.31l5.5-5.5M596.06 72.56h7.4M599.76 68.56v8M598.60 68.79l5.5 5.5M598.60 74.29l5.5-5.5M597.65 71.54h7.4M601.35 67.54v8M600.18 67.76l5.5 5.5M600.18 73.26l5.5-5.5M599.23 70.51h7.4M602.93 66.51v8M601.77 66.73l5.5 5.5M601.77 72.23l5.5-5.5M600.82 69.48h7.4M604.52 65.48v8M603.36 65.71l5.5 5.5M603.36 71.21l5.5-5.5M602.41 68.46h7.4M606.11 64.46v8M604.95 64.68l5.5 5.5M604.95 70.18l5.5-5.5M604.00 67.43h7.4M607.70 63.43v8M606.54 63.66l5.5 5.5M606.54 69.16l5.5-5.5M605.59 66.41h7.4M609.29 62.41v8M608.13 62.63l5.5 5.5M608.13 68.13l5.5-5.5M607.18 65.38h7.4M610.88 61.38v8M609.72 61.60l5.5 5.5M609.72 67.10l5.5-5.5M608.77 64.35h7.4M612.47 60.35v8M611.31 60.58l5.5 5.5M611.31 66.08l5.5-5.5M610.36 63.33h7.4M614.06 59.33v8M612.90 59.55l5.5 5.5M612.90 65.05l5.5-5.5M611.95 62.30h7.4M615.65 58.30v8M614.49 58.53l5.5 5.5M614.49 64.03l5.5-5.5M613.54 61.28h7.4M617.24 57.28v8M616.07 57.50l5.5 5.5M616.07 63.00l5.5-5.5M615.12 60.25h7.4M618.82 56.25v8M617.66 56.47l5.5 5.5M617.66 61.97l5.5-5.5M616.71 59.22h7.4M620.41 55.22v8M619.25 55.45l5.5 5.5M619.25 60.95l5.5-5.5M618.30 58.20h7.4M622.00 54.20v8M620.84 54.42l5.5 5.5M620.84 59.92l5.5-5.5M619.89 57.17h7.4M623.59 53.17v8M622.43 53.40l5.5 5.5M622.43 58.90l5.5-5.5M621.48 56.15h7.4M625.18 52.15v8M624.02 52.37l5.5 5.5M624.02 57.87l5.5-5.5M623.07 55.12h7.4M626.77 51.12v8M625.61 51.34l5.5 5.5M625.61 56.84l5.5-5.5M624.66 54.09h7.4M628.36 50.09v8M627.20 50.32l5.5 5.5M627.20 55.82l5.5-5.5M626.25 53.07h7.4M629.95 49.07v8M628.79 49.29l5.5 5.5M628.79 54.79l5.5-5.5M627.84 52.04h7.4M631.54 48.04v8M630.38 48.27l5.5 5.5M630.38 53.77l5.5-5.5M629.43 51.02h7.4M633.13 47.02v8M631.96 47.24l5.5 5.5M631.96 52.74l5.5-5.5M631.01 49.99h7.4M634.71 45.99v8M633.55 46.21l5.5 5.5M633.55 51.71l5.5-5.5M632.60 48.96h7.4M636.30 44.96v8M635.14 45.19l5.5 5.5M635.14 50.69l5.5-5.5M634.19 47.94h7.4M637.89 43.94v8M636.73 44.16l5.5 5.5M636.73 49.66l5.5-5.5M635.78 46.91h7.4M639.48 42.91v8M638.32 43.14l5.5 5.5M638.32 48.64l5.5-5.5M637.37 45.89h7.4M641.07 41.89v8M639.91 42.11l5.5 5.5M639.91 47.61l5.5-5.5M638.96 44.86h7.4M642.66 40.86v8M641.50 41.08l5.5 5.5M641.50 46.58l5.5-5.5M640.55 43.83h7.4M644.25 39.83v8M643.09 40.06l5.5 5.5M643.09 45.56l5.5-5.5M642.14 42.81h7.4M645.84 38.81v8M644.68 39.03l5.5 5.5M644.68 44.53l5.5-5.5M643.73 41.78h7.4M647.43 37.78v8M646.27 38.01l5.5 5.5M646.27 43.51l5.5-5.5M645.32 40.76h7.4M649.02 36.76v8M647.86 36.98l5.5 5.5M647.86 42.48l5.5-5.5M646.90 39.73h7.4M650.61 35.73v8M649.44 35.95l5.5 5.5M649.44 41.45l5.5-5.5M648.49 38.70h7.4M652.19 34.70v8M651.03 34.93l5.5 5.5M651.03 40.43l5.5-5.5M650.08 37.68h7.4M653.78 33.68v8M652.62 33.90l5.5 5.5M652.62 39.40l5.5-5.5M651.67 36.65h7.4M655.37 32.65v8M654.21 32.88l5.5 5.5M654.21 38.38l5.5-5.5M653.26 35.63h7.4M656.96 31.63v8M655.80 31.85l5.5 5.5M655.80 37.35l5.5-5.5M654.85 34.60h7.4M658.55 30.60v8M657.39 30.82l5.5 5.5M657.39 36.32l5.5-5.5M656.44 33.57h7.4M660.14 29.57v8M658.98 29.80l5.5 5.5M658.98 35.30l5.5-5.5M658.03 32.55h7.4M661.73 28.55v8M660.57 28.77l5.5 5.5M660.57 34.27l5.5-5.5M659.62 31.52h7.4M663.32 27.52v8M662.16 27.75l5.5 5.5M662.16 33.25l5.5-5.5M661.21 30.50h7.4M664.91 26.50v8M663.75 26.72l5.5 5.5M663.75 32.22l5.5-5.5M662.79 29.47h7.4M666.50 25.47v8M665.33 25.69l5.5 5.5M665.33 31.19l5.5-5.5M664.38 28.44h7.4M668.08 24.44v8M666.92 24.67l5.5 5.5M666.92 30.17l5.5-5.5M665.97 27.42h7.4M669.67 23.42v8M668.51 23.64l5.5 5.5M668.51 29.14l5.5-5.5M667.56 26.39h7.4M671.26 22.39v8M670.10 22.62l5.5 5.5M670.10 28.12l5.5-5.5M669.15 25.37h7.4M672.85 21.37v8M671.69 21.59l5.5 5.5M671.69 27.09l5.5-5.5M670.74 24.34h7.4M674.44 20.34v8M673.28 20.56l5.5 5.5M673.28 26.06l5.5-5.5M672.33 23.31h7.4M676.03 19.31v8M674.87 19.54l5.5 5.5M674.87 25.04l5.5-5.5M673.92 22.29h7.4M677.62 18.29v8M676.46 18.51l5.5 5.5M676.46 24.01l5.5-5.5M675.51 21.26h7.4M679.21 17.26v8M678.05 17.49l5.5 5.5M678.05 22.99l5.5-5.5M677.10 20.24h7.4M680.80 16.24v8M679.63 16.46l5.5 5.5M679.63 21.96l5.5-5.5M678.68 19.21h7.4M682.38 15.21v8M681.22 15.43l5.5 5.5M681.22 20.93l5.5-5.5M680.27 18.18h7.4M683.97 14.18v8M682.81 14.41l5.5 5.5M682.81 19.91l5.5-5.5M681.86 17.16h7.4M685.56 13.16v8M684.40 13.38l5.5 5.5M684.40 18.88l5.5-5.5M683.45 16.13h7.4M687.15 12.13v8M685.99 12.36l5.5 5.5M685.99 17.86l5.5-5.5M685.04 15.11h7.4M688.74 11.11v8M687.58 11.33l5.5 5.5M687.58 16.83l5.5-5.5M686.63 14.08h7.4M690.33 10.08v8M689.17 10.30l5.5 5.5M689.17 15.80l5.5-5.5M688.22 13.05h7.4M691.92 9.05v8M690.76 9.28l5.5 5.5M690.76 14.78l5.5-5.5M689.81 12.03h7.4M693.51 8.03v8M692.35 8.25l5.5 5.5M692.35 13.75l5.5-5.5M691.40 11.00h7.4M695.10 7.00v8M693.94 7.23l5.5 5.5M693.94 12.73l5.5-5.5M692.99 9.98h7.4M696.69 5.98v8M695.52 6.20l5.5 5.5M695.52 11.70l5.5-5.5M694.57 8.95h7.4M698.27 4.95v8M697.11 5.17l5.5 5.5M697.11 10.67l5.5-5.5M696.16 7.92h7.4M699.86 3.92v8M698.70 4.15l5.5 5.5M698.70 9.65l5.5-5.5M697.75 6.90h7.4M701.45 2.90v8" stroke="#00ff00" stroke-width="0.9" fill="none"/>
<polygon points="100.02,390.79 105.42,396.19 676.82,27.25 671.42,21.85" fill="#ff0000"/>
<rect x="415.2" y="238" width="272" height="86" fill="#fff"/>
<path d="M423.8 254.7 H460.8" stroke="#0000ff" stroke-width="1.2"/>
<path d="M438.2 250.39999999999998 l8.4 8.6 M438.2 259.0 l8.4 -8.6" stroke="#0000ff" stroke-width="1.3" fill="none"/>
<text x="464.2" y="261.5" font-size="17.3" fill="#000">Measured data</text>
<path d="M423.8 280.3 H460.8" stroke="#00ff00" stroke-width="1.2"/>
<path d="M439.5 277.40000000000003 l5.8 5.8 M439.5 283.2 l5.8 -5.8 M438.59999999999997 280.3 h7.6 M442.4 276.1 v8.4" stroke="#00ff00" stroke-width="1.3" fill="none"/>
<text x="464.2" y="287.1" font-size="17.3" fill="#000">Fitting line of measured data</text>
<path d="M423.8 306.4 H460.8" stroke="#ff0000" stroke-width="1.2" stroke-dasharray="7 3.3 1.7 3.3"/>
<path d="M440.4 304.4 l4 4 M440.4 308.4 l4 -4 M439.59999999999997 306.4 h5.6 M442.4 303.59999999999997 v5.6" stroke="#ff0000" stroke-width="1.2" fill="none"/>
<text x="464.2" y="313.2" font-size="17.3" fill="#000">Theoretical data of turntable</text>
<text transform="translate(96,60.1) scale(1,1.04)" font-size="15.5" fill="#000" xml:space="preserve">Linear model Poly1:</text>
<text transform="translate(117,82.6) scale(1,1.04)" font-size="15.5" fill="#000" xml:space="preserve">f(x) = p1*x + p2</text>
<text transform="translate(96,105.6) scale(1,1.04)" font-size="15.5" fill="#000" xml:space="preserve">Coefficients (with 95% confidence bounds):</text>
<text transform="translate(126,128.6) scale(1,1.04)" font-size="15.5" fill="#000" xml:space="preserve">p1 =</text>
<text transform="translate(181,128.6) scale(1,1.04)" font-size="15.5" fill="#000" xml:space="preserve">0.9996  (0.9996, 0.9996)</text>
<text transform="translate(126,151.6) scale(1,1.04)" font-size="15.5" fill="#000" xml:space="preserve">p2 =</text>
<text transform="translate(181,151.6) scale(1,1.04)" font-size="15.5" fill="#000" xml:space="preserve">0.0033  (-0.0146, 0.0121)</text>
<text x="102.4" y="439.8" font-size="19.3" text-anchor="middle" fill="#262626" stroke="#262626" stroke-width="0.25">0</text>
<text x="66.2" y="401.6" font-size="19.3" text-anchor="end" fill="#262626" stroke="#262626" stroke-width="0.25">0</text>
<text x="181.9" y="439.8" font-size="19.3" text-anchor="middle" fill="#262626" stroke="#262626" stroke-width="0.25">50</text>
<text x="66.2" y="350.3" font-size="19.3" text-anchor="end" fill="#262626" stroke="#262626" stroke-width="0.25">50</text>
<text x="261.3" y="439.8" font-size="19.3" text-anchor="middle" fill="#262626" stroke="#262626" stroke-width="0.25">100</text>
<text x="66.2" y="299.0" font-size="19.3" text-anchor="end" fill="#262626" stroke="#262626" stroke-width="0.25">100</text>
<text x="340.8" y="439.8" font-size="19.3" text-anchor="middle" fill="#262626" stroke="#262626" stroke-width="0.25">150</text>
<text x="66.2" y="247.7" font-size="19.3" text-anchor="end" fill="#262626" stroke="#262626" stroke-width="0.25">150</text>
<text x="420.2" y="439.8" font-size="19.3" text-anchor="middle" fill="#262626" stroke="#262626" stroke-width="0.25">200</text>
<text x="66.2" y="196.4" font-size="19.3" text-anchor="end" fill="#262626" stroke="#262626" stroke-width="0.25">200</text>
<text x="499.6" y="439.8" font-size="19.3" text-anchor="middle" fill="#262626" stroke="#262626" stroke-width="0.25">250</text>
<text x="66.2" y="145.1" font-size="19.3" text-anchor="end" fill="#262626" stroke="#262626" stroke-width="0.25">250</text>
<text x="579.1" y="439.8" font-size="19.3" text-anchor="middle" fill="#262626" stroke="#262626" stroke-width="0.25">300</text>
<text x="66.2" y="93.8" font-size="19.3" text-anchor="end" fill="#262626" stroke="#262626" stroke-width="0.25">300</text>
<text x="658.5" y="439.8" font-size="19.3" text-anchor="middle" fill="#262626" stroke="#262626" stroke-width="0.25">350</text>
<text x="66.2" y="42.5" font-size="19.3" text-anchor="end" fill="#262626" stroke="#262626" stroke-width="0.25">350</text>
<text x="387.6" y="467.8" font-size="21.1" text-anchor="middle" fill="#262626" stroke="#262626" stroke-width="0.25">Position (degree)</text>
<text transform="translate(26.2,209.6) rotate(-90)" font-size="21.6" text-anchor="middle" fill="#262626" stroke="#262626" stroke-width="0.25">Output (degree)</text>
<text x="359.4" y="499.6" textLength="23.8" lengthAdjust="spacingAndGlyphs" font-size="20.5" font-weight="bold" class="cap" text-anchor="middle" fill="#000">(a)</text>
<g stroke="#525252" stroke-width="1.45" stroke-dasharray="8.1 2.9 1.7 2.9" fill="none">
<path d="M160.50 933.0 V519.7"/>
<path d="M244.50 933.0 V519.7"/>
<path d="M328.50 933.0 V519.7"/>
<path d="M412.50 933.0 V519.7"/>
<path d="M497.50 933.0 V519.7"/>
<path d="M581.50 933.0 V519.7"/>
<path d="M665.50 933.0 V519.7"/>
<path d="M77.3 864.50 H707.6"/>
<path d="M77.3 795.50 H707.6"/>
<path d="M77.3 726.50 H707.6"/>
<path d="M77.3 657.50 H707.6"/>
<path d="M77.3 588.50 H707.6"/>
</g>
<path d="M160.5 933.0v-6M160.5 519.7v6M244.5 933.0v-6M244.5 519.7v6M328.5 933.0v-6M328.5 519.7v6M412.5 933.0v-6M412.5 519.7v6M497.5 933.0v-6M497.5 519.7v6M581.5 933.0v-6M581.5 519.7v6M665.5 933.0v-6M665.5 519.7v6M76.0 864.5h6M707.6 864.5h-6M76.0 795.5h6M707.6 795.5h-6M76.0 726.5h6M707.6 726.5h-6M76.0 657.5h6M707.6 657.5h-6M76.0 588.5h6M707.6 588.5h-6" stroke="#5c5c5c" stroke-width="1.3" fill="none"/>
<rect x="76.0" y="519.7" width="631.6" height="413.3" fill="none" stroke="#666666" stroke-width="1.5"/>
<path d="M75.9 579.3l1.9 2.05-1.9 2.05-1.9-2.05zM77.0 579.7l1.9 2.05-1.9 2.05-1.9-2.05zM77.0 580.8l1.9 2.05-1.9 2.05-1.9-2.05zM76.9 584.2l1.9 2.05-1.9 2.05-1.9-2.05zM76.9 589.8l1.9 2.05-1.9 2.05-1.9-2.05zM78.1 590.3l1.9 2.05-1.9 2.05-1.9-2.05zM78.9 596.6l1.9 2.05-1.9 2.05-1.9-2.05zM79.0 600.8l1.9 2.05-1.9 2.05-1.9-2.05zM79.1 604.9l1.9 2.05-1.9 2.05-1.9-2.05zM79.1 610.4l1.9 2.05-1.9 2.05-1.9-2.05zM79.9 617.6l1.9 2.05-1.9 2.05-1.9-2.05zM80.0 624.1l1.9 2.05-1.9 2.05-1.9-2.05zM80.1 630.4l1.9 2.05-1.9 2.05-1.9-2.05zM81.0 638.0l1.9 2.05-1.9 2.05-1.9-2.05zM81.1 643.4l1.9 2.05-1.9 2.05-1.9-2.05zM81.2 653.1l1.9 2.05-1.9 2.05-1.9-2.05zM82.0 658.9l1.9 2.05-1.9 2.05-1.9-2.05zM82.1 667.3l1.9 2.05-1.9 2.05-1.9-2.05zM82.1 673.1l1.9 2.05-1.9 2.05-1.9-2.05zM83.1 680.3l1.9 2.05-1.9 2.05-1.9-2.05zM83.1 688.2l1.9 2.05-1.9 2.05-1.9-2.05zM83.1 697.1l1.9 2.05-1.9 2.05-1.9-2.05zM84.1 701.9l1.9 2.05-1.9 2.05-1.9-2.05zM84.1 712.9l1.9 2.05-1.9 2.05-1.9-2.05zM85.0 719.4l1.9 2.05-1.9 2.05-1.9-2.05zM85.1 726.5l1.9 2.05-1.9 2.05-1.9-2.05zM85.0 728.0l1.9 2.05-1.9 2.05-1.9-2.05zM85.2 734.8l1.9 2.05-1.9 2.05-1.9-2.05zM86.2 739.4l1.9 2.05-1.9 2.05-1.9-2.05zM86.1 744.0l1.9 2.05-1.9 2.05-1.9-2.05zM87.2 751.3l1.9 2.05-1.9 2.05-1.9-2.05zM86.1 753.3l1.9 2.05-1.9 2.05-1.9-2.05zM87.0 757.2l1.9 2.05-1.9 2.05-1.9-2.05zM87.0 756.0l1.9 2.05-1.9 2.05-1.9-2.05zM88.1 759.8l1.9 2.05-1.9 2.05-1.9-2.05zM88.1 759.9l1.9 2.05-1.9 2.05-1.9-2.05zM89.2 761.4l1.9 2.05-1.9 2.05-1.9-2.05zM89.2 757.8l1.9 2.05-1.9 2.05-1.9-2.05zM89.2 757.3l1.9 2.05-1.9 2.05-1.9-2.05zM90.2 755.1l1.9 2.05-1.9 2.05-1.9-2.05zM89.2 753.0l1.9 2.05-1.9 2.05-1.9-2.05zM90.0 748.1l1.9 2.05-1.9 2.05-1.9-2.05zM90.0 745.2l1.9 2.05-1.9 2.05-1.9-2.05zM90.1 740.8l1.9 2.05-1.9 2.05-1.9-2.05zM91.3 736.4l1.9 2.05-1.9 2.05-1.9-2.05zM91.1 732.2l1.9 2.05-1.9 2.05-1.9-2.05zM92.1 728.2l1.9 2.05-1.9 2.05-1.9-2.05zM92.3 722.2l1.9 2.05-1.9 2.05-1.9-2.05zM92.1 719.7l1.9 2.05-1.9 2.05-1.9-2.05zM93.1 712.8l1.9 2.05-1.9 2.05-1.9-2.05zM93.3 707.6l1.9 2.05-1.9 2.05-1.9-2.05zM93.1 703.4l1.9 2.05-1.9 2.05-1.9-2.05zM94.3 697.8l1.9 2.05-1.9 2.05-1.9-2.05zM94.2 692.5l1.9 2.05-1.9 2.05-1.9-2.05zM94.3 687.6l1.9 2.05-1.9 2.05-1.9-2.05zM95.3 681.5l1.9 2.05-1.9 2.05-1.9-2.05zM95.3 678.5l1.9 2.05-1.9 2.05-1.9-2.05zM96.3 673.0l1.9 2.05-1.9 2.05-1.9-2.05zM95.2 668.9l1.9 2.05-1.9 2.05-1.9-2.05zM96.1 667.9l1.9 2.05-1.9 2.05-1.9-2.05zM96.3 661.8l1.9 2.05-1.9 2.05-1.9-2.05zM97.2 659.6l1.9 2.05-1.9 2.05-1.9-2.05zM97.2 653.9l1.9 2.05-1.9 2.05-1.9-2.05zM97.1 656.6l1.9 2.05-1.9 2.05-1.9-2.05zM98.3 653.3l1.9 2.05-1.9 2.05-1.9-2.05zM98.2 651.6l1.9 2.05-1.9 2.05-1.9-2.05zM98.3 653.6l1.9 2.05-1.9 2.05-1.9-2.05zM99.3 655.2l1.9 2.05-1.9 2.05-1.9-2.05zM99.3 654.7l1.9 2.05-1.9 2.05-1.9-2.05zM99.3 657.8l1.9 2.05-1.9 2.05-1.9-2.05zM100.4 657.2l1.9 2.05-1.9 2.05-1.9-2.05zM100.2 661.0l1.9 2.05-1.9 2.05-1.9-2.05zM101.3 662.9l1.9 2.05-1.9 2.05-1.9-2.05zM100.3 665.8l1.9 2.05-1.9 2.05-1.9-2.05zM101.3 667.7l1.9 2.05-1.9 2.05-1.9-2.05zM101.1 673.2l1.9 2.05-1.9 2.05-1.9-2.05zM102.4 674.9l1.9 2.05-1.9 2.05-1.9-2.05zM102.4 681.0l1.9 2.05-1.9 2.05-1.9-2.05zM102.2 684.4l1.9 2.05-1.9 2.05-1.9-2.05zM102.3 689.9l1.9 2.05-1.9 2.05-1.9-2.05zM103.4 693.7l1.9 2.05-1.9 2.05-1.9-2.05zM103.3 697.0l1.9 2.05-1.9 2.05-1.9-2.05zM104.4 705.4l1.9 2.05-1.9 2.05-1.9-2.05zM104.3 709.2l1.9 2.05-1.9 2.05-1.9-2.05zM104.2 713.0l1.9 2.05-1.9 2.05-1.9-2.05zM104.4 717.7l1.9 2.05-1.9 2.05-1.9-2.05zM105.3 722.0l1.9 2.05-1.9 2.05-1.9-2.05zM105.3 726.3l1.9 2.05-1.9 2.05-1.9-2.05zM105.3 734.5l1.9 2.05-1.9 2.05-1.9-2.05zM106.3 738.0l1.9 2.05-1.9 2.05-1.9-2.05zM106.4 741.7l1.9 2.05-1.9 2.05-1.9-2.05zM107.3 747.9l1.9 2.05-1.9 2.05-1.9-2.05zM107.4 752.0l1.9 2.05-1.9 2.05-1.9-2.05zM107.3 756.1l1.9 2.05-1.9 2.05-1.9-2.05zM108.4 762.1l1.9 2.05-1.9 2.05-1.9-2.05zM108.3 762.6l1.9 2.05-1.9 2.05-1.9-2.05zM109.3 769.4l1.9 2.05-1.9 2.05-1.9-2.05zM108.3 771.1l1.9 2.05-1.9 2.05-1.9-2.05zM109.4 772.2l1.9 2.05-1.9 2.05-1.9-2.05zM110.5 775.4l1.9 2.05-1.9 2.05-1.9-2.05zM110.3 777.2l1.9 2.05-1.9 2.05-1.9-2.05zM110.5 778.9l1.9 2.05-1.9 2.05-1.9-2.05zM110.4 781.7l1.9 2.05-1.9 2.05-1.9-2.05zM111.5 780.8l1.9 2.05-1.9 2.05-1.9-2.05zM111.3 784.3l1.9 2.05-1.9 2.05-1.9-2.05zM111.3 784.8l1.9 2.05-1.9 2.05-1.9-2.05zM112.4 784.9l1.9 2.05-1.9 2.05-1.9-2.05zM112.3 783.7l1.9 2.05-1.9 2.05-1.9-2.05zM112.5 782.6l1.9 2.05-1.9 2.05-1.9-2.05zM113.5 780.3l1.9 2.05-1.9 2.05-1.9-2.05zM113.5 775.7l1.9 2.05-1.9 2.05-1.9-2.05zM113.3 772.8l1.9 2.05-1.9 2.05-1.9-2.05zM114.3 772.3l1.9 2.05-1.9 2.05-1.9-2.05zM114.5 764.7l1.9 2.05-1.9 2.05-1.9-2.05zM114.3 763.5l1.9 2.05-1.9 2.05-1.9-2.05zM115.4 758.1l1.9 2.05-1.9 2.05-1.9-2.05zM115.5 749.9l1.9 2.05-1.9 2.05-1.9-2.05zM115.5 746.2l1.9 2.05-1.9 2.05-1.9-2.05zM116.4 740.0l1.9 2.05-1.9 2.05-1.9-2.05zM116.5 735.8l1.9 2.05-1.9 2.05-1.9-2.05zM116.4 731.3l1.9 2.05-1.9 2.05-1.9-2.05zM116.3 724.9l1.9 2.05-1.9 2.05-1.9-2.05zM117.4 719.0l1.9 2.05-1.9 2.05-1.9-2.05zM118.4 713.8l1.9 2.05-1.9 2.05-1.9-2.05zM118.3 709.1l1.9 2.05-1.9 2.05-1.9-2.05zM118.3 702.6l1.9 2.05-1.9 2.05-1.9-2.05zM118.4 697.1l1.9 2.05-1.9 2.05-1.9-2.05zM119.3 693.0l1.9 2.05-1.9 2.05-1.9-2.05zM119.5 685.5l1.9 2.05-1.9 2.05-1.9-2.05zM119.5 682.1l1.9 2.05-1.9 2.05-1.9-2.05zM120.6 677.4l1.9 2.05-1.9 2.05-1.9-2.05zM120.5 674.6l1.9 2.05-1.9 2.05-1.9-2.05zM120.4 668.0l1.9 2.05-1.9 2.05-1.9-2.05zM120.5 662.3l1.9 2.05-1.9 2.05-1.9-2.05zM121.6 659.3l1.9 2.05-1.9 2.05-1.9-2.05zM122.5 655.2l1.9 2.05-1.9 2.05-1.9-2.05zM121.5 653.2l1.9 2.05-1.9 2.05-1.9-2.05zM122.5 649.6l1.9 2.05-1.9 2.05-1.9-2.05zM123.5 648.7l1.9 2.05-1.9 2.05-1.9-2.05zM122.6 643.6l1.9 2.05-1.9 2.05-1.9-2.05zM123.5 646.0l1.9 2.05-1.9 2.05-1.9-2.05zM123.5 644.6l1.9 2.05-1.9 2.05-1.9-2.05zM123.4 646.6l1.9 2.05-1.9 2.05-1.9-2.05zM124.5 647.6l1.9 2.05-1.9 2.05-1.9-2.05zM124.4 651.1l1.9 2.05-1.9 2.05-1.9-2.05zM125.5 654.0l1.9 2.05-1.9 2.05-1.9-2.05zM125.6 657.3l1.9 2.05-1.9 2.05-1.9-2.05zM125.5 662.8l1.9 2.05-1.9 2.05-1.9-2.05zM126.6 664.3l1.9 2.05-1.9 2.05-1.9-2.05zM126.6 669.5l1.9 2.05-1.9 2.05-1.9-2.05zM127.6 672.8l1.9 2.05-1.9 2.05-1.9-2.05zM126.5 680.4l1.9 2.05-1.9 2.05-1.9-2.05zM127.6 687.1l1.9 2.05-1.9 2.05-1.9-2.05zM127.6 690.6l1.9 2.05-1.9 2.05-1.9-2.05zM127.4 697.4l1.9 2.05-1.9 2.05-1.9-2.05zM128.5 704.6l1.9 2.05-1.9 2.05-1.9-2.05zM128.6 707.6l1.9 2.05-1.9 2.05-1.9-2.05zM129.6 714.7l1.9 2.05-1.9 2.05-1.9-2.05zM129.6 723.1l1.9 2.05-1.9 2.05-1.9-2.05zM129.6 730.0l1.9 2.05-1.9 2.05-1.9-2.05zM130.5 737.4l1.9 2.05-1.9 2.05-1.9-2.05zM130.5 744.7l1.9 2.05-1.9 2.05-1.9-2.05zM131.7 751.6l1.9 2.05-1.9 2.05-1.9-2.05zM131.5 759.5l1.9 2.05-1.9 2.05-1.9-2.05zM131.6 767.8l1.9 2.05-1.9 2.05-1.9-2.05zM131.5 772.7l1.9 2.05-1.9 2.05-1.9-2.05zM132.5 779.4l1.9 2.05-1.9 2.05-1.9-2.05zM132.5 786.1l1.9 2.05-1.9 2.05-1.9-2.05zM132.6 792.7l1.9 2.05-1.9 2.05-1.9-2.05zM133.5 799.7l1.9 2.05-1.9 2.05-1.9-2.05zM133.5 807.8l1.9 2.05-1.9 2.05-1.9-2.05zM134.5 812.6l1.9 2.05-1.9 2.05-1.9-2.05zM133.6 815.3l1.9 2.05-1.9 2.05-1.9-2.05zM134.7 824.1l1.9 2.05-1.9 2.05-1.9-2.05zM134.7 829.8l1.9 2.05-1.9 2.05-1.9-2.05zM134.6 833.3l1.9 2.05-1.9 2.05-1.9-2.05zM135.5 837.1l1.9 2.05-1.9 2.05-1.9-2.05zM136.6 840.9l1.9 2.05-1.9 2.05-1.9-2.05zM135.7 844.2l1.9 2.05-1.9 2.05-1.9-2.05zM136.5 850.2l1.9 2.05-1.9 2.05-1.9-2.05zM136.6 850.3l1.9 2.05-1.9 2.05-1.9-2.05zM136.6 854.0l1.9 2.05-1.9 2.05-1.9-2.05zM137.7 856.9l1.9 2.05-1.9 2.05-1.9-2.05zM138.6 855.2l1.9 2.05-1.9 2.05-1.9-2.05zM138.6 855.8l1.9 2.05-1.9 2.05-1.9-2.05zM138.6 857.2l1.9 2.05-1.9 2.05-1.9-2.05zM138.6 853.2l1.9 2.05-1.9 2.05-1.9-2.05zM138.5 852.9l1.9 2.05-1.9 2.05-1.9-2.05zM139.8 848.8l1.9 2.05-1.9 2.05-1.9-2.05zM139.6 846.6l1.9 2.05-1.9 2.05-1.9-2.05zM140.8 845.9l1.9 2.05-1.9 2.05-1.9-2.05zM140.8 841.8l1.9 2.05-1.9 2.05-1.9-2.05zM141.7 840.0l1.9 2.05-1.9 2.05-1.9-2.05zM141.6 836.2l1.9 2.05-1.9 2.05-1.9-2.05zM141.7 830.2l1.9 2.05-1.9 2.05-1.9-2.05zM141.6 826.9l1.9 2.05-1.9 2.05-1.9-2.05zM142.7 820.3l1.9 2.05-1.9 2.05-1.9-2.05zM142.8 816.3l1.9 2.05-1.9 2.05-1.9-2.05zM142.6 809.9l1.9 2.05-1.9 2.05-1.9-2.05zM143.7 805.8l1.9 2.05-1.9 2.05-1.9-2.05zM143.8 800.0l1.9 2.05-1.9 2.05-1.9-2.05zM143.6 794.3l1.9 2.05-1.9 2.05-1.9-2.05zM144.6 785.9l1.9 2.05-1.9 2.05-1.9-2.05zM144.6 786.2l1.9 2.05-1.9 2.05-1.9-2.05zM144.7 778.7l1.9 2.05-1.9 2.05-1.9-2.05zM145.8 772.4l1.9 2.05-1.9 2.05-1.9-2.05zM145.7 767.4l1.9 2.05-1.9 2.05-1.9-2.05zM145.7 763.4l1.9 2.05-1.9 2.05-1.9-2.05zM146.6 755.9l1.9 2.05-1.9 2.05-1.9-2.05zM146.8 751.4l1.9 2.05-1.9 2.05-1.9-2.05zM146.7 746.3l1.9 2.05-1.9 2.05-1.9-2.05zM147.7 742.9l1.9 2.05-1.9 2.05-1.9-2.05zM147.6 735.5l1.9 2.05-1.9 2.05-1.9-2.05zM147.8 734.3l1.9 2.05-1.9 2.05-1.9-2.05zM148.6 728.5l1.9 2.05-1.9 2.05-1.9-2.05zM148.9 726.9l1.9 2.05-1.9 2.05-1.9-2.05zM149.7 721.6l1.9 2.05-1.9 2.05-1.9-2.05zM148.7 721.9l1.9 2.05-1.9 2.05-1.9-2.05zM149.8 719.0l1.9 2.05-1.9 2.05-1.9-2.05zM149.8 715.1l1.9 2.05-1.9 2.05-1.9-2.05zM149.8 714.4l1.9 2.05-1.9 2.05-1.9-2.05zM150.9 711.0l1.9 2.05-1.9 2.05-1.9-2.05zM150.7 710.9l1.9 2.05-1.9 2.05-1.9-2.05zM151.8 711.0l1.9 2.05-1.9 2.05-1.9-2.05zM151.8 710.6l1.9 2.05-1.9 2.05-1.9-2.05zM151.7 711.8l1.9 2.05-1.9 2.05-1.9-2.05zM152.8 713.8l1.9 2.05-1.9 2.05-1.9-2.05zM152.8 715.6l1.9 2.05-1.9 2.05-1.9-2.05zM152.7 716.7l1.9 2.05-1.9 2.05-1.9-2.05zM153.9 721.1l1.9 2.05-1.9 2.05-1.9-2.05zM153.9 723.0l1.9 2.05-1.9 2.05-1.9-2.05zM153.7 725.6l1.9 2.05-1.9 2.05-1.9-2.05zM153.7 730.3l1.9 2.05-1.9 2.05-1.9-2.05zM154.8 734.7l1.9 2.05-1.9 2.05-1.9-2.05zM155.9 735.9l1.9 2.05-1.9 2.05-1.9-2.05zM155.8 739.8l1.9 2.05-1.9 2.05-1.9-2.05zM155.8 741.5l1.9 2.05-1.9 2.05-1.9-2.05zM155.9 746.3l1.9 2.05-1.9 2.05-1.9-2.05zM156.8 750.3l1.9 2.05-1.9 2.05-1.9-2.05zM156.8 749.9l1.9 2.05-1.9 2.05-1.9-2.05zM156.8 757.6l1.9 2.05-1.9 2.05-1.9-2.05zM157.0 761.7l1.9 2.05-1.9 2.05-1.9-2.05zM157.8 761.6l1.9 2.05-1.9 2.05-1.9-2.05zM159.0 764.2l1.9 2.05-1.9 2.05-1.9-2.05zM158.8 767.3l1.9 2.05-1.9 2.05-1.9-2.05zM159.0 773.1l1.9 2.05-1.9 2.05-1.9-2.05zM158.8 770.5l1.9 2.05-1.9 2.05-1.9-2.05zM159.8 772.2l1.9 2.05-1.9 2.05-1.9-2.05zM159.8 772.8l1.9 2.05-1.9 2.05-1.9-2.05zM160.8 773.5l1.9 2.05-1.9 2.05-1.9-2.05zM161.0 771.6l1.9 2.05-1.9 2.05-1.9-2.05zM160.9 771.1l1.9 2.05-1.9 2.05-1.9-2.05zM161.0 767.7l1.9 2.05-1.9 2.05-1.9-2.05zM160.9 766.3l1.9 2.05-1.9 2.05-1.9-2.05zM162.0 763.8l1.9 2.05-1.9 2.05-1.9-2.05zM162.8 761.2l1.9 2.05-1.9 2.05-1.9-2.05zM162.8 757.1l1.9 2.05-1.9 2.05-1.9-2.05zM163.0 753.7l1.9 2.05-1.9 2.05-1.9-2.05zM164.0 750.2l1.9 2.05-1.9 2.05-1.9-2.05zM163.0 744.3l1.9 2.05-1.9 2.05-1.9-2.05zM164.0 740.8l1.9 2.05-1.9 2.05-1.9-2.05zM165.0 734.5l1.9 2.05-1.9 2.05-1.9-2.05zM163.9 729.8l1.9 2.05-1.9 2.05-1.9-2.05zM165.1 724.6l1.9 2.05-1.9 2.05-1.9-2.05zM164.9 719.5l1.9 2.05-1.9 2.05-1.9-2.05zM165.9 712.2l1.9 2.05-1.9 2.05-1.9-2.05zM166.0 706.0l1.9 2.05-1.9 2.05-1.9-2.05zM165.9 702.4l1.9 2.05-1.9 2.05-1.9-2.05zM166.8 694.6l1.9 2.05-1.9 2.05-1.9-2.05zM167.0 686.6l1.9 2.05-1.9 2.05-1.9-2.05zM167.0 681.1l1.9 2.05-1.9 2.05-1.9-2.05zM168.1 674.2l1.9 2.05-1.9 2.05-1.9-2.05zM167.8 665.4l1.9 2.05-1.9 2.05-1.9-2.05zM168.0 664.1l1.9 2.05-1.9 2.05-1.9-2.05zM167.9 655.6l1.9 2.05-1.9 2.05-1.9-2.05zM169.0 650.2l1.9 2.05-1.9 2.05-1.9-2.05zM168.9 642.8l1.9 2.05-1.9 2.05-1.9-2.05zM169.9 639.1l1.9 2.05-1.9 2.05-1.9-2.05zM169.9 631.9l1.9 2.05-1.9 2.05-1.9-2.05zM169.9 625.7l1.9 2.05-1.9 2.05-1.9-2.05zM170.9 618.3l1.9 2.05-1.9 2.05-1.9-2.05zM171.1 612.5l1.9 2.05-1.9 2.05-1.9-2.05zM172.0 610.6l1.9 2.05-1.9 2.05-1.9-2.05zM171.9 605.1l1.9 2.05-1.9 2.05-1.9-2.05zM172.1 603.0l1.9 2.05-1.9 2.05-1.9-2.05zM171.9 596.4l1.9 2.05-1.9 2.05-1.9-2.05zM173.0 592.6l1.9 2.05-1.9 2.05-1.9-2.05zM173.0 589.4l1.9 2.05-1.9 2.05-1.9-2.05zM173.1 586.2l1.9 2.05-1.9 2.05-1.9-2.05zM173.9 585.6l1.9 2.05-1.9 2.05-1.9-2.05zM174.0 583.9l1.9 2.05-1.9 2.05-1.9-2.05zM173.9 581.7l1.9 2.05-1.9 2.05-1.9-2.05zM175.0 579.5l1.9 2.05-1.9 2.05-1.9-2.05zM175.0 577.8l1.9 2.05-1.9 2.05-1.9-2.05zM175.0 581.3l1.9 2.05-1.9 2.05-1.9-2.05zM176.1 583.5l1.9 2.05-1.9 2.05-1.9-2.05zM176.1 584.6l1.9 2.05-1.9 2.05-1.9-2.05zM175.9 587.7l1.9 2.05-1.9 2.05-1.9-2.05zM177.0 590.2l1.9 2.05-1.9 2.05-1.9-2.05zM177.2 593.2l1.9 2.05-1.9 2.05-1.9-2.05zM177.0 599.5l1.9 2.05-1.9 2.05-1.9-2.05zM178.2 601.8l1.9 2.05-1.9 2.05-1.9-2.05zM178.0 608.6l1.9 2.05-1.9 2.05-1.9-2.05zM178.2 612.6l1.9 2.05-1.9 2.05-1.9-2.05zM179.2 620.8l1.9 2.05-1.9 2.05-1.9-2.05zM179.0 623.4l1.9 2.05-1.9 2.05-1.9-2.05zM179.2 629.0l1.9 2.05-1.9 2.05-1.9-2.05zM179.1 636.7l1.9 2.05-1.9 2.05-1.9-2.05zM180.0 644.3l1.9 2.05-1.9 2.05-1.9-2.05zM180.2 648.9l1.9 2.05-1.9 2.05-1.9-2.05zM181.2 655.6l1.9 2.05-1.9 2.05-1.9-2.05zM181.0 662.7l1.9 2.05-1.9 2.05-1.9-2.05zM181.0 667.4l1.9 2.05-1.9 2.05-1.9-2.05zM182.1 678.8l1.9 2.05-1.9 2.05-1.9-2.05zM182.0 683.2l1.9 2.05-1.9 2.05-1.9-2.05zM183.0 692.5l1.9 2.05-1.9 2.05-1.9-2.05zM183.0 700.4l1.9 2.05-1.9 2.05-1.9-2.05zM183.1 703.9l1.9 2.05-1.9 2.05-1.9-2.05zM183.1 713.1l1.9 2.05-1.9 2.05-1.9-2.05zM184.2 718.5l1.9 2.05-1.9 2.05-1.9-2.05zM184.0 723.1l1.9 2.05-1.9 2.05-1.9-2.05zM185.0 730.3l1.9 2.05-1.9 2.05-1.9-2.05zM185.1 737.7l1.9 2.05-1.9 2.05-1.9-2.05zM185.2 742.9l1.9 2.05-1.9 2.05-1.9-2.05zM185.1 748.7l1.9 2.05-1.9 2.05-1.9-2.05zM185.2 751.1l1.9 2.05-1.9 2.05-1.9-2.05zM186.2 757.3l1.9 2.05-1.9 2.05-1.9-2.05zM186.1 760.3l1.9 2.05-1.9 2.05-1.9-2.05zM186.1 764.6l1.9 2.05-1.9 2.05-1.9-2.05zM187.1 767.2l1.9 2.05-1.9 2.05-1.9-2.05zM187.0 770.4l1.9 2.05-1.9 2.05-1.9-2.05zM188.2 772.4l1.9 2.05-1.9 2.05-1.9-2.05zM188.1 774.7l1.9 2.05-1.9 2.05-1.9-2.05zM189.1 775.7l1.9 2.05-1.9 2.05-1.9-2.05zM189.3 773.3l1.9 2.05-1.9 2.05-1.9-2.05zM189.3 778.2l1.9 2.05-1.9 2.05-1.9-2.05zM190.1 776.9l1.9 2.05-1.9 2.05-1.9-2.05zM190.3 772.1l1.9 2.05-1.9 2.05-1.9-2.05zM190.1 769.4l1.9 2.05-1.9 2.05-1.9-2.05zM191.1 767.8l1.9 2.05-1.9 2.05-1.9-2.05zM191.3 765.6l1.9 2.05-1.9 2.05-1.9-2.05zM191.1 763.8l1.9 2.05-1.9 2.05-1.9-2.05zM191.1 761.3l1.9 2.05-1.9 2.05-1.9-2.05zM191.3 757.1l1.9 2.05-1.9 2.05-1.9-2.05zM192.3 754.7l1.9 2.05-1.9 2.05-1.9-2.05zM192.2 752.4l1.9 2.05-1.9 2.05-1.9-2.05zM193.2 747.0l1.9 2.05-1.9 2.05-1.9-2.05zM193.3 743.3l1.9 2.05-1.9 2.05-1.9-2.05zM193.2 735.3l1.9 2.05-1.9 2.05-1.9-2.05zM194.2 731.8l1.9 2.05-1.9 2.05-1.9-2.05zM194.3 728.4l1.9 2.05-1.9 2.05-1.9-2.05zM194.1 725.9l1.9 2.05-1.9 2.05-1.9-2.05zM195.2 721.6l1.9 2.05-1.9 2.05-1.9-2.05zM195.4 717.8l1.9 2.05-1.9 2.05-1.9-2.05zM195.1 714.8l1.9 2.05-1.9 2.05-1.9-2.05zM195.2 710.1l1.9 2.05-1.9 2.05-1.9-2.05zM196.4 706.2l1.9 2.05-1.9 2.05-1.9-2.05zM196.2 702.3l1.9 2.05-1.9 2.05-1.9-2.05zM196.2 697.9l1.9 2.05-1.9 2.05-1.9-2.05zM197.2 694.4l1.9 2.05-1.9 2.05-1.9-2.05zM197.2 690.7l1.9 2.05-1.9 2.05-1.9-2.05zM198.3 686.2l1.9 2.05-1.9 2.05-1.9-2.05zM198.2 683.1l1.9 2.05-1.9 2.05-1.9-2.05zM198.3 680.3l1.9 2.05-1.9 2.05-1.9-2.05zM199.2 678.7l1.9 2.05-1.9 2.05-1.9-2.05zM199.3 679.8l1.9 2.05-1.9 2.05-1.9-2.05zM199.3 677.6l1.9 2.05-1.9 2.05-1.9-2.05zM200.4 675.6l1.9 2.05-1.9 2.05-1.9-2.05zM200.3 674.0l1.9 2.05-1.9 2.05-1.9-2.05zM200.2 670.6l1.9 2.05-1.9 2.05-1.9-2.05zM200.3 672.2l1.9 2.05-1.9 2.05-1.9-2.05zM201.2 674.8l1.9 2.05-1.9 2.05-1.9-2.05zM201.3 676.7l1.9 2.05-1.9 2.05-1.9-2.05zM202.2 677.7l1.9 2.05-1.9 2.05-1.9-2.05zM202.4 682.1l1.9 2.05-1.9 2.05-1.9-2.05zM203.4 683.5l1.9 2.05-1.9 2.05-1.9-2.05zM203.3 685.2l1.9 2.05-1.9 2.05-1.9-2.05zM203.3 690.9l1.9 2.05-1.9 2.05-1.9-2.05zM203.2 694.7l1.9 2.05-1.9 2.05-1.9-2.05zM204.4 698.2l1.9 2.05-1.9 2.05-1.9-2.05zM204.3 703.8l1.9 2.05-1.9 2.05-1.9-2.05zM204.3 709.7l1.9 2.05-1.9 2.05-1.9-2.05zM204.4 711.8l1.9 2.05-1.9 2.05-1.9-2.05zM205.3 718.5l1.9 2.05-1.9 2.05-1.9-2.05zM205.3 721.8l1.9 2.05-1.9 2.05-1.9-2.05zM206.5 727.2l1.9 2.05-1.9 2.05-1.9-2.05zM206.3 732.2l1.9 2.05-1.9 2.05-1.9-2.05zM206.5 738.5l1.9 2.05-1.9 2.05-1.9-2.05zM207.5 743.9l1.9 2.05-1.9 2.05-1.9-2.05zM207.5 749.1l1.9 2.05-1.9 2.05-1.9-2.05zM207.4 753.6l1.9 2.05-1.9 2.05-1.9-2.05zM208.3 760.1l1.9 2.05-1.9 2.05-1.9-2.05zM208.5 762.2l1.9 2.05-1.9 2.05-1.9-2.05zM208.3 765.6l1.9 2.05-1.9 2.05-1.9-2.05zM209.3 769.5l1.9 2.05-1.9 2.05-1.9-2.05zM209.3 774.3l1.9 2.05-1.9 2.05-1.9-2.05zM209.5 780.7l1.9 2.05-1.9 2.05-1.9-2.05zM209.4 785.4l1.9 2.05-1.9 2.05-1.9-2.05zM210.5 788.7l1.9 2.05-1.9 2.05-1.9-2.05zM210.5 788.6l1.9 2.05-1.9 2.05-1.9-2.05zM210.3 790.5l1.9 2.05-1.9 2.05-1.9-2.05zM211.3 797.0l1.9 2.05-1.9 2.05-1.9-2.05zM211.5 796.3l1.9 2.05-1.9 2.05-1.9-2.05zM212.4 801.1l1.9 2.05-1.9 2.05-1.9-2.05zM212.3 800.1l1.9 2.05-1.9 2.05-1.9-2.05zM212.4 801.1l1.9 2.05-1.9 2.05-1.9-2.05zM212.5 799.6l1.9 2.05-1.9 2.05-1.9-2.05zM213.4 799.1l1.9 2.05-1.9 2.05-1.9-2.05zM214.5 796.1l1.9 2.05-1.9 2.05-1.9-2.05zM213.4 795.9l1.9 2.05-1.9 2.05-1.9-2.05zM214.5 795.1l1.9 2.05-1.9 2.05-1.9-2.05zM214.4 789.6l1.9 2.05-1.9 2.05-1.9-2.05zM215.4 787.0l1.9 2.05-1.9 2.05-1.9-2.05zM215.4 784.4l1.9 2.05-1.9 2.05-1.9-2.05zM215.5 780.0l1.9 2.05-1.9 2.05-1.9-2.05zM216.5 779.7l1.9 2.05-1.9 2.05-1.9-2.05zM216.6 771.5l1.9 2.05-1.9 2.05-1.9-2.05zM216.6 766.3l1.9 2.05-1.9 2.05-1.9-2.05zM217.5 763.1l1.9 2.05-1.9 2.05-1.9-2.05zM217.5 757.3l1.9 2.05-1.9 2.05-1.9-2.05zM217.6 751.2l1.9 2.05-1.9 2.05-1.9-2.05zM218.5 746.9l1.9 2.05-1.9 2.05-1.9-2.05zM218.4 743.8l1.9 2.05-1.9 2.05-1.9-2.05zM219.4 736.8l1.9 2.05-1.9 2.05-1.9-2.05zM219.5 732.0l1.9 2.05-1.9 2.05-1.9-2.05zM219.6 726.0l1.9 2.05-1.9 2.05-1.9-2.05zM219.6 721.5l1.9 2.05-1.9 2.05-1.9-2.05zM220.5 715.1l1.9 2.05-1.9 2.05-1.9-2.05zM220.6 712.0l1.9 2.05-1.9 2.05-1.9-2.05zM220.6 705.4l1.9 2.05-1.9 2.05-1.9-2.05zM221.5 700.8l1.9 2.05-1.9 2.05-1.9-2.05zM221.5 695.7l1.9 2.05-1.9 2.05-1.9-2.05zM221.5 691.7l1.9 2.05-1.9 2.05-1.9-2.05zM222.6 688.8l1.9 2.05-1.9 2.05-1.9-2.05zM222.5 683.8l1.9 2.05-1.9 2.05-1.9-2.05zM222.4 679.9l1.9 2.05-1.9 2.05-1.9-2.05zM223.6 677.5l1.9 2.05-1.9 2.05-1.9-2.05zM223.7 673.3l1.9 2.05-1.9 2.05-1.9-2.05zM224.6 670.3l1.9 2.05-1.9 2.05-1.9-2.05zM224.5 668.2l1.9 2.05-1.9 2.05-1.9-2.05zM224.5 666.3l1.9 2.05-1.9 2.05-1.9-2.05zM224.4 663.5l1.9 2.05-1.9 2.05-1.9-2.05zM225.6 665.7l1.9 2.05-1.9 2.05-1.9-2.05zM225.6 661.7l1.9 2.05-1.9 2.05-1.9-2.05zM225.6 663.1l1.9 2.05-1.9 2.05-1.9-2.05zM226.6 664.4l1.9 2.05-1.9 2.05-1.9-2.05zM226.5 669.6l1.9 2.05-1.9 2.05-1.9-2.05zM227.7 671.1l1.9 2.05-1.9 2.05-1.9-2.05zM227.6 672.8l1.9 2.05-1.9 2.05-1.9-2.05zM227.6 678.2l1.9 2.05-1.9 2.05-1.9-2.05zM227.6 680.6l1.9 2.05-1.9 2.05-1.9-2.05zM228.7 682.4l1.9 2.05-1.9 2.05-1.9-2.05zM228.6 689.0l1.9 2.05-1.9 2.05-1.9-2.05zM228.6 693.8l1.9 2.05-1.9 2.05-1.9-2.05zM228.6 699.4l1.9 2.05-1.9 2.05-1.9-2.05zM229.6 706.0l1.9 2.05-1.9 2.05-1.9-2.05zM229.6 712.5l1.9 2.05-1.9 2.05-1.9-2.05zM229.7 714.8l1.9 2.05-1.9 2.05-1.9-2.05zM230.6 719.7l1.9 2.05-1.9 2.05-1.9-2.05zM230.7 728.0l1.9 2.05-1.9 2.05-1.9-2.05zM231.6 735.7l1.9 2.05-1.9 2.05-1.9-2.05zM231.7 740.8l1.9 2.05-1.9 2.05-1.9-2.05zM231.7 746.9l1.9 2.05-1.9 2.05-1.9-2.05zM231.8 752.4l1.9 2.05-1.9 2.05-1.9-2.05zM232.6 761.4l1.9 2.05-1.9 2.05-1.9-2.05zM232.6 767.8l1.9 2.05-1.9 2.05-1.9-2.05zM233.6 776.8l1.9 2.05-1.9 2.05-1.9-2.05zM233.7 781.1l1.9 2.05-1.9 2.05-1.9-2.05zM233.7 787.5l1.9 2.05-1.9 2.05-1.9-2.05zM234.6 796.2l1.9 2.05-1.9 2.05-1.9-2.05zM234.7 800.8l1.9 2.05-1.9 2.05-1.9-2.05zM234.7 807.3l1.9 2.05-1.9 2.05-1.9-2.05zM235.7 814.7l1.9 2.05-1.9 2.05-1.9-2.05zM235.8 818.1l1.9 2.05-1.9 2.05-1.9-2.05zM235.6 828.2l1.9 2.05-1.9 2.05-1.9-2.05zM236.6 832.6l1.9 2.05-1.9 2.05-1.9-2.05zM236.6 837.6l1.9 2.05-1.9 2.05-1.9-2.05zM236.6 844.0l1.9 2.05-1.9 2.05-1.9-2.05zM236.6 845.9l1.9 2.05-1.9 2.05-1.9-2.05zM237.7 852.3l1.9 2.05-1.9 2.05-1.9-2.05zM237.7 857.9l1.9 2.05-1.9 2.05-1.9-2.05zM238.8 859.2l1.9 2.05-1.9 2.05-1.9-2.05zM238.8 861.0l1.9 2.05-1.9 2.05-1.9-2.05zM238.8 865.2l1.9 2.05-1.9 2.05-1.9-2.05zM238.8 868.6l1.9 2.05-1.9 2.05-1.9-2.05zM239.6 870.7l1.9 2.05-1.9 2.05-1.9-2.05zM239.8 871.6l1.9 2.05-1.9 2.05-1.9-2.05zM240.6 872.9l1.9 2.05-1.9 2.05-1.9-2.05zM240.8 870.5l1.9 2.05-1.9 2.05-1.9-2.05zM240.8 872.2l1.9 2.05-1.9 2.05-1.9-2.05zM241.8 870.5l1.9 2.05-1.9 2.05-1.9-2.05zM241.8 869.4l1.9 2.05-1.9 2.05-1.9-2.05zM241.8 866.6l1.9 2.05-1.9 2.05-1.9-2.05zM242.7 862.1l1.9 2.05-1.9 2.05-1.9-2.05zM242.6 858.4l1.9 2.05-1.9 2.05-1.9-2.05zM242.6 854.2l1.9 2.05-1.9 2.05-1.9-2.05zM243.9 852.5l1.9 2.05-1.9 2.05-1.9-2.05zM243.8 846.8l1.9 2.05-1.9 2.05-1.9-2.05zM243.8 844.0l1.9 2.05-1.9 2.05-1.9-2.05zM244.7 837.4l1.9 2.05-1.9 2.05-1.9-2.05zM244.8 832.3l1.9 2.05-1.9 2.05-1.9-2.05zM244.8 827.9l1.9 2.05-1.9 2.05-1.9-2.05zM245.9 823.7l1.9 2.05-1.9 2.05-1.9-2.05zM245.8 819.7l1.9 2.05-1.9 2.05-1.9-2.05zM246.8 811.4l1.9 2.05-1.9 2.05-1.9-2.05zM246.9 806.3l1.9 2.05-1.9 2.05-1.9-2.05zM246.9 801.5l1.9 2.05-1.9 2.05-1.9-2.05zM246.8 793.9l1.9 2.05-1.9 2.05-1.9-2.05zM247.7 790.8l1.9 2.05-1.9 2.05-1.9-2.05zM247.8 783.2l1.9 2.05-1.9 2.05-1.9-2.05zM247.9 779.5l1.9 2.05-1.9 2.05-1.9-2.05zM248.9 773.3l1.9 2.05-1.9 2.05-1.9-2.05zM248.8 768.7l1.9 2.05-1.9 2.05-1.9-2.05zM248.9 762.4l1.9 2.05-1.9 2.05-1.9-2.05zM249.8 756.7l1.9 2.05-1.9 2.05-1.9-2.05zM249.8 753.7l1.9 2.05-1.9 2.05-1.9-2.05zM250.9 749.2l1.9 2.05-1.9 2.05-1.9-2.05zM250.9 746.1l1.9 2.05-1.9 2.05-1.9-2.05zM250.9 741.1l1.9 2.05-1.9 2.05-1.9-2.05zM250.9 740.3l1.9 2.05-1.9 2.05-1.9-2.05zM251.8 736.8l1.9 2.05-1.9 2.05-1.9-2.05zM251.7 734.7l1.9 2.05-1.9 2.05-1.9-2.05zM253.0 731.7l1.9 2.05-1.9 2.05-1.9-2.05zM252.8 729.8l1.9 2.05-1.9 2.05-1.9-2.05zM252.8 727.7l1.9 2.05-1.9 2.05-1.9-2.05zM252.8 729.7l1.9 2.05-1.9 2.05-1.9-2.05zM254.0 728.9l1.9 2.05-1.9 2.05-1.9-2.05zM253.9 728.2l1.9 2.05-1.9 2.05-1.9-2.05zM254.9 730.1l1.9 2.05-1.9 2.05-1.9-2.05zM254.9 732.2l1.9 2.05-1.9 2.05-1.9-2.05zM255.0 733.0l1.9 2.05-1.9 2.05-1.9-2.05zM255.9 736.4l1.9 2.05-1.9 2.05-1.9-2.05zM255.8 739.5l1.9 2.05-1.9 2.05-1.9-2.05zM255.7 741.4l1.9 2.05-1.9 2.05-1.9-2.05zM256.0 742.8l1.9 2.05-1.9 2.05-1.9-2.05zM256.0 747.7l1.9 2.05-1.9 2.05-1.9-2.05zM256.8 750.8l1.9 2.05-1.9 2.05-1.9-2.05zM257.8 754.1l1.9 2.05-1.9 2.05-1.9-2.05zM258.0 755.6l1.9 2.05-1.9 2.05-1.9-2.05zM257.8 760.4l1.9 2.05-1.9 2.05-1.9-2.05zM258.0 765.7l1.9 2.05-1.9 2.05-1.9-2.05zM258.0 769.1l1.9 2.05-1.9 2.05-1.9-2.05zM259.0 770.9l1.9 2.05-1.9 2.05-1.9-2.05zM259.8 774.0l1.9 2.05-1.9 2.05-1.9-2.05zM259.0 777.4l1.9 2.05-1.9 2.05-1.9-2.05zM259.8 777.4l1.9 2.05-1.9 2.05-1.9-2.05zM260.0 782.7l1.9 2.05-1.9 2.05-1.9-2.05zM260.0 782.5l1.9 2.05-1.9 2.05-1.9-2.05zM260.9 786.7l1.9 2.05-1.9 2.05-1.9-2.05zM261.0 785.7l1.9 2.05-1.9 2.05-1.9-2.05zM261.9 786.1l1.9 2.05-1.9 2.05-1.9-2.05zM262.1 789.7l1.9 2.05-1.9 2.05-1.9-2.05zM262.0 789.4l1.9 2.05-1.9 2.05-1.9-2.05zM263.0 789.6l1.9 2.05-1.9 2.05-1.9-2.05zM263.1 786.4l1.9 2.05-1.9 2.05-1.9-2.05zM263.0 784.0l1.9 2.05-1.9 2.05-1.9-2.05zM263.9 782.8l1.9 2.05-1.9 2.05-1.9-2.05zM263.9 779.2l1.9 2.05-1.9 2.05-1.9-2.05zM265.1 775.6l1.9 2.05-1.9 2.05-1.9-2.05zM264.1 769.5l1.9 2.05-1.9 2.05-1.9-2.05zM264.9 765.1l1.9 2.05-1.9 2.05-1.9-2.05zM266.1 763.7l1.9 2.05-1.9 2.05-1.9-2.05zM265.9 757.6l1.9 2.05-1.9 2.05-1.9-2.05zM266.1 753.8l1.9 2.05-1.9 2.05-1.9-2.05zM266.9 745.1l1.9 2.05-1.9 2.05-1.9-2.05zM267.0 738.0l1.9 2.05-1.9 2.05-1.9-2.05zM267.1 734.8l1.9 2.05-1.9 2.05-1.9-2.05zM268.0 727.6l1.9 2.05-1.9 2.05-1.9-2.05zM267.9 719.5l1.9 2.05-1.9 2.05-1.9-2.05zM268.1 713.7l1.9 2.05-1.9 2.05-1.9-2.05zM268.0 707.1l1.9 2.05-1.9 2.05-1.9-2.05zM267.9 702.5l1.9 2.05-1.9 2.05-1.9-2.05zM269.0 693.9l1.9 2.05-1.9 2.05-1.9-2.05zM269.0 686.2l1.9 2.05-1.9 2.05-1.9-2.05zM270.0 680.9l1.9 2.05-1.9 2.05-1.9-2.05zM270.1 674.1l1.9 2.05-1.9 2.05-1.9-2.05zM270.0 667.6l1.9 2.05-1.9 2.05-1.9-2.05zM270.9 662.0l1.9 2.05-1.9 2.05-1.9-2.05zM271.0 651.2l1.9 2.05-1.9 2.05-1.9-2.05zM271.0 647.9l1.9 2.05-1.9 2.05-1.9-2.05zM272.1 642.4l1.9 2.05-1.9 2.05-1.9-2.05zM272.2 638.2l1.9 2.05-1.9 2.05-1.9-2.05zM272.0 631.4l1.9 2.05-1.9 2.05-1.9-2.05zM271.9 625.8l1.9 2.05-1.9 2.05-1.9-2.05zM273.2 623.6l1.9 2.05-1.9 2.05-1.9-2.05zM274.0 617.5l1.9 2.05-1.9 2.05-1.9-2.05zM273.2 613.4l1.9 2.05-1.9 2.05-1.9-2.05zM274.1 609.3l1.9 2.05-1.9 2.05-1.9-2.05zM274.0 607.1l1.9 2.05-1.9 2.05-1.9-2.05zM275.0 604.4l1.9 2.05-1.9 2.05-1.9-2.05zM275.0 595.6l1.9 2.05-1.9 2.05-1.9-2.05zM275.0 597.9l1.9 2.05-1.9 2.05-1.9-2.05zM276.0 593.1l1.9 2.05-1.9 2.05-1.9-2.05zM276.1 595.5l1.9 2.05-1.9 2.05-1.9-2.05zM276.0 596.1l1.9 2.05-1.9 2.05-1.9-2.05zM277.2 598.1l1.9 2.05-1.9 2.05-1.9-2.05zM277.2 597.4l1.9 2.05-1.9 2.05-1.9-2.05zM277.1 600.0l1.9 2.05-1.9 2.05-1.9-2.05zM278.0 601.6l1.9 2.05-1.9 2.05-1.9-2.05zM278.0 603.8l1.9 2.05-1.9 2.05-1.9-2.05zM279.0 607.8l1.9 2.05-1.9 2.05-1.9-2.05zM278.2 611.5l1.9 2.05-1.9 2.05-1.9-2.05zM279.2 614.7l1.9 2.05-1.9 2.05-1.9-2.05zM279.1 616.7l1.9 2.05-1.9 2.05-1.9-2.05zM280.2 621.8l1.9 2.05-1.9 2.05-1.9-2.05zM280.1 627.4l1.9 2.05-1.9 2.05-1.9-2.05zM280.0 633.6l1.9 2.05-1.9 2.05-1.9-2.05zM280.0 641.0l1.9 2.05-1.9 2.05-1.9-2.05zM281.2 645.7l1.9 2.05-1.9 2.05-1.9-2.05zM281.1 652.7l1.9 2.05-1.9 2.05-1.9-2.05zM282.1 656.7l1.9 2.05-1.9 2.05-1.9-2.05zM282.2 662.6l1.9 2.05-1.9 2.05-1.9-2.05zM282.3 670.9l1.9 2.05-1.9 2.05-1.9-2.05zM282.3 673.7l1.9 2.05-1.9 2.05-1.9-2.05zM283.1 683.1l1.9 2.05-1.9 2.05-1.9-2.05zM283.1 689.9l1.9 2.05-1.9 2.05-1.9-2.05zM284.3 698.2l1.9 2.05-1.9 2.05-1.9-2.05zM284.1 699.3l1.9 2.05-1.9 2.05-1.9-2.05zM285.1 708.3l1.9 2.05-1.9 2.05-1.9-2.05zM285.1 715.2l1.9 2.05-1.9 2.05-1.9-2.05zM285.1 720.8l1.9 2.05-1.9 2.05-1.9-2.05zM286.2 728.4l1.9 2.05-1.9 2.05-1.9-2.05zM286.1 732.8l1.9 2.05-1.9 2.05-1.9-2.05zM286.1 737.9l1.9 2.05-1.9 2.05-1.9-2.05zM287.1 743.7l1.9 2.05-1.9 2.05-1.9-2.05zM286.1 748.0l1.9 2.05-1.9 2.05-1.9-2.05zM287.1 756.1l1.9 2.05-1.9 2.05-1.9-2.05zM287.3 760.7l1.9 2.05-1.9 2.05-1.9-2.05zM287.1 763.6l1.9 2.05-1.9 2.05-1.9-2.05zM288.2 769.9l1.9 2.05-1.9 2.05-1.9-2.05zM289.2 772.2l1.9 2.05-1.9 2.05-1.9-2.05zM289.3 776.0l1.9 2.05-1.9 2.05-1.9-2.05zM289.2 778.9l1.9 2.05-1.9 2.05-1.9-2.05zM290.2 781.3l1.9 2.05-1.9 2.05-1.9-2.05zM290.1 782.7l1.9 2.05-1.9 2.05-1.9-2.05zM290.3 783.4l1.9 2.05-1.9 2.05-1.9-2.05zM290.2 785.6l1.9 2.05-1.9 2.05-1.9-2.05zM290.3 788.1l1.9 2.05-1.9 2.05-1.9-2.05zM291.3 786.3l1.9 2.05-1.9 2.05-1.9-2.05zM291.3 788.3l1.9 2.05-1.9 2.05-1.9-2.05zM292.3 782.0l1.9 2.05-1.9 2.05-1.9-2.05zM292.3 781.3l1.9 2.05-1.9 2.05-1.9-2.05zM293.2 780.0l1.9 2.05-1.9 2.05-1.9-2.05zM292.2 776.9l1.9 2.05-1.9 2.05-1.9-2.05zM293.2 773.7l1.9 2.05-1.9 2.05-1.9-2.05zM293.2 767.9l1.9 2.05-1.9 2.05-1.9-2.05zM294.3 764.7l1.9 2.05-1.9 2.05-1.9-2.05zM294.2 762.1l1.9 2.05-1.9 2.05-1.9-2.05zM294.2 756.7l1.9 2.05-1.9 2.05-1.9-2.05zM295.3 755.0l1.9 2.05-1.9 2.05-1.9-2.05zM295.2 749.0l1.9 2.05-1.9 2.05-1.9-2.05zM295.4 743.6l1.9 2.05-1.9 2.05-1.9-2.05zM296.2 738.4l1.9 2.05-1.9 2.05-1.9-2.05zM296.4 733.2l1.9 2.05-1.9 2.05-1.9-2.05zM297.3 730.7l1.9 2.05-1.9 2.05-1.9-2.05zM297.4 724.1l1.9 2.05-1.9 2.05-1.9-2.05zM297.3 720.0l1.9 2.05-1.9 2.05-1.9-2.05zM297.4 716.8l1.9 2.05-1.9 2.05-1.9-2.05zM298.4 710.4l1.9 2.05-1.9 2.05-1.9-2.05zM298.3 709.7l1.9 2.05-1.9 2.05-1.9-2.05zM298.3 700.4l1.9 2.05-1.9 2.05-1.9-2.05zM299.3 700.3l1.9 2.05-1.9 2.05-1.9-2.05zM299.3 696.6l1.9 2.05-1.9 2.05-1.9-2.05zM299.2 693.2l1.9 2.05-1.9 2.05-1.9-2.05zM300.4 688.4l1.9 2.05-1.9 2.05-1.9-2.05zM300.4 688.6l1.9 2.05-1.9 2.05-1.9-2.05zM300.3 686.0l1.9 2.05-1.9 2.05-1.9-2.05zM301.3 685.0l1.9 2.05-1.9 2.05-1.9-2.05zM301.3 686.4l1.9 2.05-1.9 2.05-1.9-2.05zM301.3 684.4l1.9 2.05-1.9 2.05-1.9-2.05zM302.4 683.7l1.9 2.05-1.9 2.05-1.9-2.05zM302.4 686.3l1.9 2.05-1.9 2.05-1.9-2.05zM302.4 686.3l1.9 2.05-1.9 2.05-1.9-2.05zM303.3 690.1l1.9 2.05-1.9 2.05-1.9-2.05zM303.4 691.5l1.9 2.05-1.9 2.05-1.9-2.05zM303.3 694.1l1.9 2.05-1.9 2.05-1.9-2.05zM304.4 696.2l1.9 2.05-1.9 2.05-1.9-2.05zM304.4 699.9l1.9 2.05-1.9 2.05-1.9-2.05zM304.4 703.5l1.9 2.05-1.9 2.05-1.9-2.05zM305.4 706.0l1.9 2.05-1.9 2.05-1.9-2.05zM305.4 712.1l1.9 2.05-1.9 2.05-1.9-2.05zM305.4 715.0l1.9 2.05-1.9 2.05-1.9-2.05zM306.3 719.0l1.9 2.05-1.9 2.05-1.9-2.05zM306.4 724.5l1.9 2.05-1.9 2.05-1.9-2.05zM306.5 729.9l1.9 2.05-1.9 2.05-1.9-2.05zM306.3 730.2l1.9 2.05-1.9 2.05-1.9-2.05zM307.4 737.6l1.9 2.05-1.9 2.05-1.9-2.05zM307.5 744.3l1.9 2.05-1.9 2.05-1.9-2.05zM308.5 747.4l1.9 2.05-1.9 2.05-1.9-2.05zM308.4 752.4l1.9 2.05-1.9 2.05-1.9-2.05zM308.5 758.8l1.9 2.05-1.9 2.05-1.9-2.05zM309.4 760.9l1.9 2.05-1.9 2.05-1.9-2.05zM309.4 767.2l1.9 2.05-1.9 2.05-1.9-2.05zM310.5 773.6l1.9 2.05-1.9 2.05-1.9-2.05zM310.3 775.3l1.9 2.05-1.9 2.05-1.9-2.05zM310.5 780.4l1.9 2.05-1.9 2.05-1.9-2.05zM310.4 787.3l1.9 2.05-1.9 2.05-1.9-2.05zM311.6 787.9l1.9 2.05-1.9 2.05-1.9-2.05zM311.4 792.4l1.9 2.05-1.9 2.05-1.9-2.05zM312.4 795.5l1.9 2.05-1.9 2.05-1.9-2.05zM312.4 799.1l1.9 2.05-1.9 2.05-1.9-2.05zM312.6 799.6l1.9 2.05-1.9 2.05-1.9-2.05zM312.4 804.4l1.9 2.05-1.9 2.05-1.9-2.05zM312.5 805.2l1.9 2.05-1.9 2.05-1.9-2.05zM313.4 807.5l1.9 2.05-1.9 2.05-1.9-2.05zM314.6 808.8l1.9 2.05-1.9 2.05-1.9-2.05zM314.6 808.9l1.9 2.05-1.9 2.05-1.9-2.05zM314.4 810.8l1.9 2.05-1.9 2.05-1.9-2.05zM315.6 810.9l1.9 2.05-1.9 2.05-1.9-2.05zM315.6 808.7l1.9 2.05-1.9 2.05-1.9-2.05zM315.5 807.7l1.9 2.05-1.9 2.05-1.9-2.05zM315.5 804.1l1.9 2.05-1.9 2.05-1.9-2.05zM316.5 803.0l1.9 2.05-1.9 2.05-1.9-2.05zM316.5 795.7l1.9 2.05-1.9 2.05-1.9-2.05zM316.6 796.0l1.9 2.05-1.9 2.05-1.9-2.05zM317.5 789.9l1.9 2.05-1.9 2.05-1.9-2.05zM317.5 788.3l1.9 2.05-1.9 2.05-1.9-2.05zM317.6 781.6l1.9 2.05-1.9 2.05-1.9-2.05zM318.6 776.9l1.9 2.05-1.9 2.05-1.9-2.05zM318.4 771.5l1.9 2.05-1.9 2.05-1.9-2.05zM319.7 765.8l1.9 2.05-1.9 2.05-1.9-2.05zM319.5 763.0l1.9 2.05-1.9 2.05-1.9-2.05zM319.5 755.8l1.9 2.05-1.9 2.05-1.9-2.05zM319.5 749.9l1.9 2.05-1.9 2.05-1.9-2.05zM320.7 746.2l1.9 2.05-1.9 2.05-1.9-2.05zM320.4 740.5l1.9 2.05-1.9 2.05-1.9-2.05zM320.6 735.4l1.9 2.05-1.9 2.05-1.9-2.05zM320.5 726.8l1.9 2.05-1.9 2.05-1.9-2.05zM321.5 721.4l1.9 2.05-1.9 2.05-1.9-2.05zM321.6 718.3l1.9 2.05-1.9 2.05-1.9-2.05zM322.7 711.8l1.9 2.05-1.9 2.05-1.9-2.05zM322.6 704.7l1.9 2.05-1.9 2.05-1.9-2.05zM323.5 701.1l1.9 2.05-1.9 2.05-1.9-2.05zM322.5 696.5l1.9 2.05-1.9 2.05-1.9-2.05zM323.7 695.0l1.9 2.05-1.9 2.05-1.9-2.05zM323.5 689.0l1.9 2.05-1.9 2.05-1.9-2.05zM324.6 684.9l1.9 2.05-1.9 2.05-1.9-2.05zM324.5 682.8l1.9 2.05-1.9 2.05-1.9-2.05zM324.6 676.6l1.9 2.05-1.9 2.05-1.9-2.05zM325.6 674.8l1.9 2.05-1.9 2.05-1.9-2.05zM325.7 671.8l1.9 2.05-1.9 2.05-1.9-2.05zM325.6 671.7l1.9 2.05-1.9 2.05-1.9-2.05zM326.7 671.4l1.9 2.05-1.9 2.05-1.9-2.05zM326.7 671.1l1.9 2.05-1.9 2.05-1.9-2.05zM326.7 672.3l1.9 2.05-1.9 2.05-1.9-2.05zM327.8 675.5l1.9 2.05-1.9 2.05-1.9-2.05zM327.6 676.6l1.9 2.05-1.9 2.05-1.9-2.05zM327.7 678.0l1.9 2.05-1.9 2.05-1.9-2.05zM327.5 684.4l1.9 2.05-1.9 2.05-1.9-2.05zM328.6 685.3l1.9 2.05-1.9 2.05-1.9-2.05zM328.5 688.2l1.9 2.05-1.9 2.05-1.9-2.05zM329.6 693.5l1.9 2.05-1.9 2.05-1.9-2.05zM329.7 698.0l1.9 2.05-1.9 2.05-1.9-2.05zM329.6 702.1l1.9 2.05-1.9 2.05-1.9-2.05zM329.5 707.0l1.9 2.05-1.9 2.05-1.9-2.05zM330.6 711.8l1.9 2.05-1.9 2.05-1.9-2.05zM330.6 717.2l1.9 2.05-1.9 2.05-1.9-2.05zM331.6 722.5l1.9 2.05-1.9 2.05-1.9-2.05zM331.6 732.3l1.9 2.05-1.9 2.05-1.9-2.05zM331.7 735.5l1.9 2.05-1.9 2.05-1.9-2.05zM331.8 744.9l1.9 2.05-1.9 2.05-1.9-2.05zM332.6 747.0l1.9 2.05-1.9 2.05-1.9-2.05zM333.6 756.5l1.9 2.05-1.9 2.05-1.9-2.05zM333.7 762.3l1.9 2.05-1.9 2.05-1.9-2.05zM333.6 769.9l1.9 2.05-1.9 2.05-1.9-2.05zM334.6 775.3l1.9 2.05-1.9 2.05-1.9-2.05zM333.8 784.3l1.9 2.05-1.9 2.05-1.9-2.05zM334.7 789.7l1.9 2.05-1.9 2.05-1.9-2.05zM334.6 797.2l1.9 2.05-1.9 2.05-1.9-2.05zM334.8 803.2l1.9 2.05-1.9 2.05-1.9-2.05zM335.7 810.0l1.9 2.05-1.9 2.05-1.9-2.05zM335.7 813.8l1.9 2.05-1.9 2.05-1.9-2.05zM336.7 821.7l1.9 2.05-1.9 2.05-1.9-2.05zM336.8 827.1l1.9 2.05-1.9 2.05-1.9-2.05zM337.8 833.5l1.9 2.05-1.9 2.05-1.9-2.05zM337.8 837.4l1.9 2.05-1.9 2.05-1.9-2.05zM337.8 843.2l1.9 2.05-1.9 2.05-1.9-2.05zM337.7 848.0l1.9 2.05-1.9 2.05-1.9-2.05zM338.7 854.8l1.9 2.05-1.9 2.05-1.9-2.05zM338.7 856.5l1.9 2.05-1.9 2.05-1.9-2.05zM338.9 861.9l1.9 2.05-1.9 2.05-1.9-2.05zM339.8 865.4l1.9 2.05-1.9 2.05-1.9-2.05zM339.7 867.7l1.9 2.05-1.9 2.05-1.9-2.05zM339.7 870.7l1.9 2.05-1.9 2.05-1.9-2.05zM340.7 872.1l1.9 2.05-1.9 2.05-1.9-2.05zM340.8 874.8l1.9 2.05-1.9 2.05-1.9-2.05zM340.8 876.8l1.9 2.05-1.9 2.05-1.9-2.05zM341.6 878.7l1.9 2.05-1.9 2.05-1.9-2.05zM341.7 875.6l1.9 2.05-1.9 2.05-1.9-2.05zM342.8 877.1l1.9 2.05-1.9 2.05-1.9-2.05zM341.9 872.4l1.9 2.05-1.9 2.05-1.9-2.05zM342.9 870.7l1.9 2.05-1.9 2.05-1.9-2.05zM342.8 868.2l1.9 2.05-1.9 2.05-1.9-2.05zM343.9 865.5l1.9 2.05-1.9 2.05-1.9-2.05zM343.8 861.6l1.9 2.05-1.9 2.05-1.9-2.05zM344.9 857.0l1.9 2.05-1.9 2.05-1.9-2.05zM344.8 853.4l1.9 2.05-1.9 2.05-1.9-2.05zM344.9 851.0l1.9 2.05-1.9 2.05-1.9-2.05zM345.7 845.1l1.9 2.05-1.9 2.05-1.9-2.05zM345.7 838.0l1.9 2.05-1.9 2.05-1.9-2.05zM345.8 833.9l1.9 2.05-1.9 2.05-1.9-2.05zM346.9 829.9l1.9 2.05-1.9 2.05-1.9-2.05zM345.8 822.9l1.9 2.05-1.9 2.05-1.9-2.05zM346.7 816.4l1.9 2.05-1.9 2.05-1.9-2.05zM347.9 810.5l1.9 2.05-1.9 2.05-1.9-2.05zM346.8 803.6l1.9 2.05-1.9 2.05-1.9-2.05zM347.8 799.6l1.9 2.05-1.9 2.05-1.9-2.05zM347.9 792.4l1.9 2.05-1.9 2.05-1.9-2.05zM348.9 785.4l1.9 2.05-1.9 2.05-1.9-2.05zM348.9 779.4l1.9 2.05-1.9 2.05-1.9-2.05zM348.8 774.1l1.9 2.05-1.9 2.05-1.9-2.05zM350.0 767.9l1.9 2.05-1.9 2.05-1.9-2.05zM349.8 763.5l1.9 2.05-1.9 2.05-1.9-2.05zM349.8 758.6l1.9 2.05-1.9 2.05-1.9-2.05zM350.8 753.9l1.9 2.05-1.9 2.05-1.9-2.05zM350.9 748.3l1.9 2.05-1.9 2.05-1.9-2.05zM350.7 746.5l1.9 2.05-1.9 2.05-1.9-2.05zM352.0 741.7l1.9 2.05-1.9 2.05-1.9-2.05zM351.9 737.2l1.9 2.05-1.9 2.05-1.9-2.05zM351.9 734.9l1.9 2.05-1.9 2.05-1.9-2.05zM352.8 734.1l1.9 2.05-1.9 2.05-1.9-2.05zM352.9 730.9l1.9 2.05-1.9 2.05-1.9-2.05zM352.8 731.5l1.9 2.05-1.9 2.05-1.9-2.05zM352.8 730.3l1.9 2.05-1.9 2.05-1.9-2.05zM353.8 725.9l1.9 2.05-1.9 2.05-1.9-2.05zM353.9 728.4l1.9 2.05-1.9 2.05-1.9-2.05zM354.0 728.2l1.9 2.05-1.9 2.05-1.9-2.05zM355.0 733.4l1.9 2.05-1.9 2.05-1.9-2.05zM355.9 733.1l1.9 2.05-1.9 2.05-1.9-2.05zM355.9 733.9l1.9 2.05-1.9 2.05-1.9-2.05zM355.8 738.3l1.9 2.05-1.9 2.05-1.9-2.05zM356.0 737.3l1.9 2.05-1.9 2.05-1.9-2.05zM357.1 740.8l1.9 2.05-1.9 2.05-1.9-2.05zM356.9 746.1l1.9 2.05-1.9 2.05-1.9-2.05zM356.8 746.6l1.9 2.05-1.9 2.05-1.9-2.05zM357.9 749.3l1.9 2.05-1.9 2.05-1.9-2.05zM357.8 756.3l1.9 2.05-1.9 2.05-1.9-2.05zM357.9 755.2l1.9 2.05-1.9 2.05-1.9-2.05zM359.1 759.5l1.9 2.05-1.9 2.05-1.9-2.05zM358.9 762.7l1.9 2.05-1.9 2.05-1.9-2.05zM358.9 766.1l1.9 2.05-1.9 2.05-1.9-2.05zM360.0 766.9l1.9 2.05-1.9 2.05-1.9-2.05zM359.9 772.7l1.9 2.05-1.9 2.05-1.9-2.05zM360.0 776.3l1.9 2.05-1.9 2.05-1.9-2.05zM359.9 777.9l1.9 2.05-1.9 2.05-1.9-2.05zM361.0 779.6l1.9 2.05-1.9 2.05-1.9-2.05zM362.1 778.7l1.9 2.05-1.9 2.05-1.9-2.05zM362.0 783.7l1.9 2.05-1.9 2.05-1.9-2.05zM362.0 784.6l1.9 2.05-1.9 2.05-1.9-2.05zM362.0 786.5l1.9 2.05-1.9 2.05-1.9-2.05zM362.9 785.8l1.9 2.05-1.9 2.05-1.9-2.05zM363.1 788.3l1.9 2.05-1.9 2.05-1.9-2.05zM363.0 786.8l1.9 2.05-1.9 2.05-1.9-2.05zM363.0 786.1l1.9 2.05-1.9 2.05-1.9-2.05zM364.0 785.5l1.9 2.05-1.9 2.05-1.9-2.05zM364.0 780.9l1.9 2.05-1.9 2.05-1.9-2.05zM365.0 778.8l1.9 2.05-1.9 2.05-1.9-2.05zM365.1 775.8l1.9 2.05-1.9 2.05-1.9-2.05zM365.0 772.8l1.9 2.05-1.9 2.05-1.9-2.05zM366.0 768.3l1.9 2.05-1.9 2.05-1.9-2.05zM366.0 764.3l1.9 2.05-1.9 2.05-1.9-2.05zM365.9 758.3l1.9 2.05-1.9 2.05-1.9-2.05zM367.1 755.3l1.9 2.05-1.9 2.05-1.9-2.05zM367.1 749.3l1.9 2.05-1.9 2.05-1.9-2.05zM368.1 744.0l1.9 2.05-1.9 2.05-1.9-2.05zM367.1 738.8l1.9 2.05-1.9 2.05-1.9-2.05zM368.1 732.6l1.9 2.05-1.9 2.05-1.9-2.05zM369.0 725.2l1.9 2.05-1.9 2.05-1.9-2.05zM368.0 719.1l1.9 2.05-1.9 2.05-1.9-2.05zM369.1 713.0l1.9 2.05-1.9 2.05-1.9-2.05zM370.1 705.5l1.9 2.05-1.9 2.05-1.9-2.05zM370.1 697.9l1.9 2.05-1.9 2.05-1.9-2.05zM370.2 690.9l1.9 2.05-1.9 2.05-1.9-2.05zM370.1 686.2l1.9 2.05-1.9 2.05-1.9-2.05zM371.2 679.3l1.9 2.05-1.9 2.05-1.9-2.05zM371.0 669.5l1.9 2.05-1.9 2.05-1.9-2.05zM372.0 664.6l1.9 2.05-1.9 2.05-1.9-2.05zM372.0 660.7l1.9 2.05-1.9 2.05-1.9-2.05zM372.2 653.2l1.9 2.05-1.9 2.05-1.9-2.05zM372.0 645.4l1.9 2.05-1.9 2.05-1.9-2.05zM373.1 638.0l1.9 2.05-1.9 2.05-1.9-2.05zM373.0 631.2l1.9 2.05-1.9 2.05-1.9-2.05zM373.1 625.0l1.9 2.05-1.9 2.05-1.9-2.05zM373.2 619.9l1.9 2.05-1.9 2.05-1.9-2.05zM374.1 616.6l1.9 2.05-1.9 2.05-1.9-2.05zM374.2 610.8l1.9 2.05-1.9 2.05-1.9-2.05zM375.0 606.6l1.9 2.05-1.9 2.05-1.9-2.05zM375.2 602.8l1.9 2.05-1.9 2.05-1.9-2.05zM375.2 598.9l1.9 2.05-1.9 2.05-1.9-2.05zM376.1 596.0l1.9 2.05-1.9 2.05-1.9-2.05zM376.1 593.5l1.9 2.05-1.9 2.05-1.9-2.05zM377.2 590.2l1.9 2.05-1.9 2.05-1.9-2.05zM376.2 587.2l1.9 2.05-1.9 2.05-1.9-2.05zM377.0 586.1l1.9 2.05-1.9 2.05-1.9-2.05zM377.2 584.9l1.9 2.05-1.9 2.05-1.9-2.05zM378.1 585.5l1.9 2.05-1.9 2.05-1.9-2.05zM378.0 586.4l1.9 2.05-1.9 2.05-1.9-2.05zM378.3 590.0l1.9 2.05-1.9 2.05-1.9-2.05zM379.1 591.7l1.9 2.05-1.9 2.05-1.9-2.05zM379.2 594.9l1.9 2.05-1.9 2.05-1.9-2.05zM379.3 598.4l1.9 2.05-1.9 2.05-1.9-2.05zM380.1 600.1l1.9 2.05-1.9 2.05-1.9-2.05zM380.3 607.6l1.9 2.05-1.9 2.05-1.9-2.05zM380.2 610.6l1.9 2.05-1.9 2.05-1.9-2.05zM381.3 615.0l1.9 2.05-1.9 2.05-1.9-2.05zM381.2 618.5l1.9 2.05-1.9 2.05-1.9-2.05zM382.2 625.1l1.9 2.05-1.9 2.05-1.9-2.05zM382.2 627.8l1.9 2.05-1.9 2.05-1.9-2.05zM382.2 636.7l1.9 2.05-1.9 2.05-1.9-2.05zM382.3 641.7l1.9 2.05-1.9 2.05-1.9-2.05zM382.1 648.6l1.9 2.05-1.9 2.05-1.9-2.05zM383.1 653.5l1.9 2.05-1.9 2.05-1.9-2.05zM383.2 657.5l1.9 2.05-1.9 2.05-1.9-2.05zM384.2 666.3l1.9 2.05-1.9 2.05-1.9-2.05zM384.2 672.8l1.9 2.05-1.9 2.05-1.9-2.05zM385.2 679.2l1.9 2.05-1.9 2.05-1.9-2.05zM385.3 685.1l1.9 2.05-1.9 2.05-1.9-2.05zM385.1 693.2l1.9 2.05-1.9 2.05-1.9-2.05zM385.3 702.5l1.9 2.05-1.9 2.05-1.9-2.05zM386.3 707.5l1.9 2.05-1.9 2.05-1.9-2.05zM386.2 710.8l1.9 2.05-1.9 2.05-1.9-2.05zM386.1 717.7l1.9 2.05-1.9 2.05-1.9-2.05zM387.2 723.9l1.9 2.05-1.9 2.05-1.9-2.05zM387.2 729.4l1.9 2.05-1.9 2.05-1.9-2.05zM387.2 737.9l1.9 2.05-1.9 2.05-1.9-2.05zM388.4 742.8l1.9 2.05-1.9 2.05-1.9-2.05zM388.4 746.9l1.9 2.05-1.9 2.05-1.9-2.05zM388.2 751.6l1.9 2.05-1.9 2.05-1.9-2.05zM389.3 755.3l1.9 2.05-1.9 2.05-1.9-2.05zM389.2 758.7l1.9 2.05-1.9 2.05-1.9-2.05zM389.2 764.9l1.9 2.05-1.9 2.05-1.9-2.05zM390.2 765.7l1.9 2.05-1.9 2.05-1.9-2.05zM390.3 769.4l1.9 2.05-1.9 2.05-1.9-2.05zM390.3 772.9l1.9 2.05-1.9 2.05-1.9-2.05zM391.2 776.5l1.9 2.05-1.9 2.05-1.9-2.05zM391.3 778.2l1.9 2.05-1.9 2.05-1.9-2.05zM391.4 778.8l1.9 2.05-1.9 2.05-1.9-2.05zM392.2 780.3l1.9 2.05-1.9 2.05-1.9-2.05zM392.2 779.0l1.9 2.05-1.9 2.05-1.9-2.05zM393.3 777.4l1.9 2.05-1.9 2.05-1.9-2.05zM393.4 777.8l1.9 2.05-1.9 2.05-1.9-2.05zM393.3 774.4l1.9 2.05-1.9 2.05-1.9-2.05zM394.4 771.5l1.9 2.05-1.9 2.05-1.9-2.05zM394.3 769.4l1.9 2.05-1.9 2.05-1.9-2.05zM394.3 764.6l1.9 2.05-1.9 2.05-1.9-2.05zM394.4 764.7l1.9 2.05-1.9 2.05-1.9-2.05zM395.4 757.2l1.9 2.05-1.9 2.05-1.9-2.05zM395.3 752.9l1.9 2.05-1.9 2.05-1.9-2.05zM396.2 747.6l1.9 2.05-1.9 2.05-1.9-2.05zM395.2 743.9l1.9 2.05-1.9 2.05-1.9-2.05zM396.3 737.5l1.9 2.05-1.9 2.05-1.9-2.05zM397.3 733.3l1.9 2.05-1.9 2.05-1.9-2.05zM397.5 728.3l1.9 2.05-1.9 2.05-1.9-2.05zM397.2 723.0l1.9 2.05-1.9 2.05-1.9-2.05zM398.4 718.3l1.9 2.05-1.9 2.05-1.9-2.05zM398.3 714.3l1.9 2.05-1.9 2.05-1.9-2.05zM398.5 707.9l1.9 2.05-1.9 2.05-1.9-2.05zM398.4 704.7l1.9 2.05-1.9 2.05-1.9-2.05zM399.5 697.1l1.9 2.05-1.9 2.05-1.9-2.05zM399.4 693.4l1.9 2.05-1.9 2.05-1.9-2.05zM400.4 692.2l1.9 2.05-1.9 2.05-1.9-2.05zM399.3 684.4l1.9 2.05-1.9 2.05-1.9-2.05zM400.3 682.3l1.9 2.05-1.9 2.05-1.9-2.05zM401.4 677.5l1.9 2.05-1.9 2.05-1.9-2.05zM400.4 677.0l1.9 2.05-1.9 2.05-1.9-2.05zM401.5 669.4l1.9 2.05-1.9 2.05-1.9-2.05zM402.5 670.3l1.9 2.05-1.9 2.05-1.9-2.05zM401.4 669.9l1.9 2.05-1.9 2.05-1.9-2.05zM402.5 670.4l1.9 2.05-1.9 2.05-1.9-2.05zM402.4 666.7l1.9 2.05-1.9 2.05-1.9-2.05zM402.5 670.1l1.9 2.05-1.9 2.05-1.9-2.05zM403.5 670.4l1.9 2.05-1.9 2.05-1.9-2.05zM404.6 670.4l1.9 2.05-1.9 2.05-1.9-2.05zM403.3 673.6l1.9 2.05-1.9 2.05-1.9-2.05zM404.5 672.9l1.9 2.05-1.9 2.05-1.9-2.05zM404.5 676.1l1.9 2.05-1.9 2.05-1.9-2.05zM405.3 680.8l1.9 2.05-1.9 2.05-1.9-2.05zM405.6 684.5l1.9 2.05-1.9 2.05-1.9-2.05zM406.3 689.3l1.9 2.05-1.9 2.05-1.9-2.05zM405.5 695.3l1.9 2.05-1.9 2.05-1.9-2.05zM406.4 697.3l1.9 2.05-1.9 2.05-1.9-2.05zM406.3 702.1l1.9 2.05-1.9 2.05-1.9-2.05zM407.6 702.8l1.9 2.05-1.9 2.05-1.9-2.05zM407.5 711.0l1.9 2.05-1.9 2.05-1.9-2.05zM407.5 715.7l1.9 2.05-1.9 2.05-1.9-2.05zM407.5 720.8l1.9 2.05-1.9 2.05-1.9-2.05zM408.5 727.7l1.9 2.05-1.9 2.05-1.9-2.05zM409.4 732.4l1.9 2.05-1.9 2.05-1.9-2.05zM409.5 737.0l1.9 2.05-1.9 2.05-1.9-2.05zM409.4 739.8l1.9 2.05-1.9 2.05-1.9-2.05zM409.5 748.3l1.9 2.05-1.9 2.05-1.9-2.05zM410.5 752.9l1.9 2.05-1.9 2.05-1.9-2.05zM410.5 758.5l1.9 2.05-1.9 2.05-1.9-2.05zM410.5 763.1l1.9 2.05-1.9 2.05-1.9-2.05zM411.6 769.3l1.9 2.05-1.9 2.05-1.9-2.05zM411.5 775.7l1.9 2.05-1.9 2.05-1.9-2.05zM411.5 779.6l1.9 2.05-1.9 2.05-1.9-2.05zM412.4 779.0l1.9 2.05-1.9 2.05-1.9-2.05zM412.6 784.1l1.9 2.05-1.9 2.05-1.9-2.05zM412.5 787.6l1.9 2.05-1.9 2.05-1.9-2.05zM412.4 791.2l1.9 2.05-1.9 2.05-1.9-2.05zM413.6 792.6l1.9 2.05-1.9 2.05-1.9-2.05zM413.5 795.2l1.9 2.05-1.9 2.05-1.9-2.05zM414.6 797.6l1.9 2.05-1.9 2.05-1.9-2.05zM414.6 800.3l1.9 2.05-1.9 2.05-1.9-2.05zM415.6 797.0l1.9 2.05-1.9 2.05-1.9-2.05zM414.6 803.4l1.9 2.05-1.9 2.05-1.9-2.05zM415.5 800.9l1.9 2.05-1.9 2.05-1.9-2.05zM415.6 797.3l1.9 2.05-1.9 2.05-1.9-2.05zM416.5 796.1l1.9 2.05-1.9 2.05-1.9-2.05zM416.6 793.3l1.9 2.05-1.9 2.05-1.9-2.05zM416.7 790.4l1.9 2.05-1.9 2.05-1.9-2.05zM417.6 787.8l1.9 2.05-1.9 2.05-1.9-2.05zM417.5 781.7l1.9 2.05-1.9 2.05-1.9-2.05zM417.6 776.5l1.9 2.05-1.9 2.05-1.9-2.05zM418.5 774.0l1.9 2.05-1.9 2.05-1.9-2.05zM418.6 767.5l1.9 2.05-1.9 2.05-1.9-2.05zM419.7 761.5l1.9 2.05-1.9 2.05-1.9-2.05zM419.7 757.9l1.9 2.05-1.9 2.05-1.9-2.05zM419.5 752.9l1.9 2.05-1.9 2.05-1.9-2.05zM419.6 746.5l1.9 2.05-1.9 2.05-1.9-2.05zM420.6 740.4l1.9 2.05-1.9 2.05-1.9-2.05zM420.7 735.8l1.9 2.05-1.9 2.05-1.9-2.05zM420.6 729.2l1.9 2.05-1.9 2.05-1.9-2.05zM421.5 725.6l1.9 2.05-1.9 2.05-1.9-2.05zM421.6 717.2l1.9 2.05-1.9 2.05-1.9-2.05zM421.6 712.5l1.9 2.05-1.9 2.05-1.9-2.05zM422.5 706.0l1.9 2.05-1.9 2.05-1.9-2.05zM422.5 699.8l1.9 2.05-1.9 2.05-1.9-2.05zM423.6 693.3l1.9 2.05-1.9 2.05-1.9-2.05zM423.5 690.1l1.9 2.05-1.9 2.05-1.9-2.05zM423.7 683.9l1.9 2.05-1.9 2.05-1.9-2.05zM424.7 679.7l1.9 2.05-1.9 2.05-1.9-2.05zM424.5 674.5l1.9 2.05-1.9 2.05-1.9-2.05zM424.6 672.8l1.9 2.05-1.9 2.05-1.9-2.05zM424.7 667.7l1.9 2.05-1.9 2.05-1.9-2.05zM425.7 664.5l1.9 2.05-1.9 2.05-1.9-2.05zM425.6 663.2l1.9 2.05-1.9 2.05-1.9-2.05zM425.7 657.8l1.9 2.05-1.9 2.05-1.9-2.05zM426.5 658.1l1.9 2.05-1.9 2.05-1.9-2.05zM426.7 656.2l1.9 2.05-1.9 2.05-1.9-2.05zM427.7 656.4l1.9 2.05-1.9 2.05-1.9-2.05zM427.7 654.7l1.9 2.05-1.9 2.05-1.9-2.05zM427.7 657.7l1.9 2.05-1.9 2.05-1.9-2.05zM427.7 662.5l1.9 2.05-1.9 2.05-1.9-2.05zM428.8 661.9l1.9 2.05-1.9 2.05-1.9-2.05zM428.6 666.1l1.9 2.05-1.9 2.05-1.9-2.05zM428.7 670.1l1.9 2.05-1.9 2.05-1.9-2.05zM428.6 671.6l1.9 2.05-1.9 2.05-1.9-2.05zM429.8 677.9l1.9 2.05-1.9 2.05-1.9-2.05zM430.7 679.7l1.9 2.05-1.9 2.05-1.9-2.05zM429.7 684.4l1.9 2.05-1.9 2.05-1.9-2.05zM430.8 690.1l1.9 2.05-1.9 2.05-1.9-2.05zM430.7 696.3l1.9 2.05-1.9 2.05-1.9-2.05zM431.6 698.2l1.9 2.05-1.9 2.05-1.9-2.05zM431.7 706.3l1.9 2.05-1.9 2.05-1.9-2.05zM431.7 708.6l1.9 2.05-1.9 2.05-1.9-2.05zM432.7 718.4l1.9 2.05-1.9 2.05-1.9-2.05zM432.7 723.9l1.9 2.05-1.9 2.05-1.9-2.05zM432.7 732.7l1.9 2.05-1.9 2.05-1.9-2.05zM433.7 736.6l1.9 2.05-1.9 2.05-1.9-2.05zM433.6 746.6l1.9 2.05-1.9 2.05-1.9-2.05zM433.7 752.9l1.9 2.05-1.9 2.05-1.9-2.05zM434.7 758.9l1.9 2.05-1.9 2.05-1.9-2.05zM434.8 765.2l1.9 2.05-1.9 2.05-1.9-2.05zM434.7 773.1l1.9 2.05-1.9 2.05-1.9-2.05zM435.7 780.4l1.9 2.05-1.9 2.05-1.9-2.05zM435.8 786.1l1.9 2.05-1.9 2.05-1.9-2.05zM436.8 793.0l1.9 2.05-1.9 2.05-1.9-2.05zM436.9 797.1l1.9 2.05-1.9 2.05-1.9-2.05zM436.8 807.7l1.9 2.05-1.9 2.05-1.9-2.05zM436.6 810.5l1.9 2.05-1.9 2.05-1.9-2.05zM437.7 817.0l1.9 2.05-1.9 2.05-1.9-2.05zM437.8 823.3l1.9 2.05-1.9 2.05-1.9-2.05zM437.8 827.9l1.9 2.05-1.9 2.05-1.9-2.05zM437.7 834.8l1.9 2.05-1.9 2.05-1.9-2.05zM438.7 837.9l1.9 2.05-1.9 2.05-1.9-2.05zM438.7 843.3l1.9 2.05-1.9 2.05-1.9-2.05zM439.8 846.2l1.9 2.05-1.9 2.05-1.9-2.05zM439.9 853.6l1.9 2.05-1.9 2.05-1.9-2.05zM439.9 854.3l1.9 2.05-1.9 2.05-1.9-2.05zM439.9 857.6l1.9 2.05-1.9 2.05-1.9-2.05zM440.8 859.8l1.9 2.05-1.9 2.05-1.9-2.05zM440.7 860.9l1.9 2.05-1.9 2.05-1.9-2.05zM441.7 862.6l1.9 2.05-1.9 2.05-1.9-2.05zM442.0 865.5l1.9 2.05-1.9 2.05-1.9-2.05zM441.9 865.2l1.9 2.05-1.9 2.05-1.9-2.05zM441.8 863.5l1.9 2.05-1.9 2.05-1.9-2.05zM442.8 860.9l1.9 2.05-1.9 2.05-1.9-2.05zM442.7 859.2l1.9 2.05-1.9 2.05-1.9-2.05zM444.0 857.1l1.9 2.05-1.9 2.05-1.9-2.05zM443.9 855.1l1.9 2.05-1.9 2.05-1.9-2.05zM444.9 851.5l1.9 2.05-1.9 2.05-1.9-2.05zM444.7 846.4l1.9 2.05-1.9 2.05-1.9-2.05zM444.9 846.0l1.9 2.05-1.9 2.05-1.9-2.05zM444.8 839.0l1.9 2.05-1.9 2.05-1.9-2.05zM445.8 834.9l1.9 2.05-1.9 2.05-1.9-2.05zM445.7 827.0l1.9 2.05-1.9 2.05-1.9-2.05zM446.0 827.1l1.9 2.05-1.9 2.05-1.9-2.05zM446.8 821.0l1.9 2.05-1.9 2.05-1.9-2.05zM446.9 814.2l1.9 2.05-1.9 2.05-1.9-2.05zM447.0 806.6l1.9 2.05-1.9 2.05-1.9-2.05zM447.8 802.0l1.9 2.05-1.9 2.05-1.9-2.05zM448.0 795.5l1.9 2.05-1.9 2.05-1.9-2.05zM447.9 791.1l1.9 2.05-1.9 2.05-1.9-2.05zM447.9 784.7l1.9 2.05-1.9 2.05-1.9-2.05zM448.9 776.8l1.9 2.05-1.9 2.05-1.9-2.05zM448.8 770.8l1.9 2.05-1.9 2.05-1.9-2.05zM450.0 764.7l1.9 2.05-1.9 2.05-1.9-2.05zM449.9 757.8l1.9 2.05-1.9 2.05-1.9-2.05zM450.8 754.5l1.9 2.05-1.9 2.05-1.9-2.05zM450.9 749.0l1.9 2.05-1.9 2.05-1.9-2.05zM450.9 743.2l1.9 2.05-1.9 2.05-1.9-2.05zM450.9 738.4l1.9 2.05-1.9 2.05-1.9-2.05zM450.8 734.3l1.9 2.05-1.9 2.05-1.9-2.05zM452.0 729.2l1.9 2.05-1.9 2.05-1.9-2.05zM452.0 729.0l1.9 2.05-1.9 2.05-1.9-2.05zM453.0 722.7l1.9 2.05-1.9 2.05-1.9-2.05zM453.0 721.1l1.9 2.05-1.9 2.05-1.9-2.05zM452.9 717.3l1.9 2.05-1.9 2.05-1.9-2.05zM453.9 712.7l1.9 2.05-1.9 2.05-1.9-2.05zM453.8 711.6l1.9 2.05-1.9 2.05-1.9-2.05zM454.0 711.0l1.9 2.05-1.9 2.05-1.9-2.05zM454.8 709.4l1.9 2.05-1.9 2.05-1.9-2.05zM454.8 708.7l1.9 2.05-1.9 2.05-1.9-2.05zM455.0 707.8l1.9 2.05-1.9 2.05-1.9-2.05zM456.0 710.1l1.9 2.05-1.9 2.05-1.9-2.05zM455.8 712.9l1.9 2.05-1.9 2.05-1.9-2.05zM455.9 712.3l1.9 2.05-1.9 2.05-1.9-2.05zM456.0 715.9l1.9 2.05-1.9 2.05-1.9-2.05zM456.9 717.9l1.9 2.05-1.9 2.05-1.9-2.05zM456.9 720.6l1.9 2.05-1.9 2.05-1.9-2.05zM458.1 724.2l1.9 2.05-1.9 2.05-1.9-2.05zM458.0 722.4l1.9 2.05-1.9 2.05-1.9-2.05zM459.0 727.8l1.9 2.05-1.9 2.05-1.9-2.05zM458.0 734.0l1.9 2.05-1.9 2.05-1.9-2.05zM459.1 733.3l1.9 2.05-1.9 2.05-1.9-2.05zM458.9 739.5l1.9 2.05-1.9 2.05-1.9-2.05zM459.9 739.2l1.9 2.05-1.9 2.05-1.9-2.05zM460.1 744.7l1.9 2.05-1.9 2.05-1.9-2.05zM461.1 745.8l1.9 2.05-1.9 2.05-1.9-2.05zM461.0 751.8l1.9 2.05-1.9 2.05-1.9-2.05zM461.0 752.7l1.9 2.05-1.9 2.05-1.9-2.05zM462.0 758.6l1.9 2.05-1.9 2.05-1.9-2.05zM462.1 758.9l1.9 2.05-1.9 2.05-1.9-2.05zM462.1 762.3l1.9 2.05-1.9 2.05-1.9-2.05zM462.0 764.3l1.9 2.05-1.9 2.05-1.9-2.05zM463.2 765.8l1.9 2.05-1.9 2.05-1.9-2.05zM463.1 769.3l1.9 2.05-1.9 2.05-1.9-2.05zM464.1 771.9l1.9 2.05-1.9 2.05-1.9-2.05zM463.9 769.3l1.9 2.05-1.9 2.05-1.9-2.05zM464.1 773.4l1.9 2.05-1.9 2.05-1.9-2.05zM465.1 774.2l1.9 2.05-1.9 2.05-1.9-2.05zM464.1 771.6l1.9 2.05-1.9 2.05-1.9-2.05zM465.0 770.9l1.9 2.05-1.9 2.05-1.9-2.05zM465.1 769.5l1.9 2.05-1.9 2.05-1.9-2.05zM466.2 767.5l1.9 2.05-1.9 2.05-1.9-2.05zM466.0 763.5l1.9 2.05-1.9 2.05-1.9-2.05zM467.1 760.0l1.9 2.05-1.9 2.05-1.9-2.05zM467.2 756.5l1.9 2.05-1.9 2.05-1.9-2.05zM467.2 751.5l1.9 2.05-1.9 2.05-1.9-2.05zM467.0 746.9l1.9 2.05-1.9 2.05-1.9-2.05zM467.2 742.0l1.9 2.05-1.9 2.05-1.9-2.05zM468.2 738.1l1.9 2.05-1.9 2.05-1.9-2.05zM469.1 733.2l1.9 2.05-1.9 2.05-1.9-2.05zM469.0 725.2l1.9 2.05-1.9 2.05-1.9-2.05zM469.0 719.4l1.9 2.05-1.9 2.05-1.9-2.05zM469.2 713.9l1.9 2.05-1.9 2.05-1.9-2.05zM469.1 708.7l1.9 2.05-1.9 2.05-1.9-2.05zM470.1 698.9l1.9 2.05-1.9 2.05-1.9-2.05zM470.2 691.5l1.9 2.05-1.9 2.05-1.9-2.05zM471.2 686.4l1.9 2.05-1.9 2.05-1.9-2.05zM471.3 676.5l1.9 2.05-1.9 2.05-1.9-2.05zM471.2 669.9l1.9 2.05-1.9 2.05-1.9-2.05zM472.2 664.3l1.9 2.05-1.9 2.05-1.9-2.05zM472.1 657.1l1.9 2.05-1.9 2.05-1.9-2.05zM472.2 651.2l1.9 2.05-1.9 2.05-1.9-2.05zM473.2 639.4l1.9 2.05-1.9 2.05-1.9-2.05zM473.2 636.9l1.9 2.05-1.9 2.05-1.9-2.05zM474.0 627.6l1.9 2.05-1.9 2.05-1.9-2.05zM474.3 622.0l1.9 2.05-1.9 2.05-1.9-2.05zM474.2 614.8l1.9 2.05-1.9 2.05-1.9-2.05zM474.2 609.7l1.9 2.05-1.9 2.05-1.9-2.05zM475.1 603.9l1.9 2.05-1.9 2.05-1.9-2.05zM475.1 598.2l1.9 2.05-1.9 2.05-1.9-2.05zM476.2 594.3l1.9 2.05-1.9 2.05-1.9-2.05zM476.3 588.0l1.9 2.05-1.9 2.05-1.9-2.05zM476.2 586.2l1.9 2.05-1.9 2.05-1.9-2.05zM476.3 580.8l1.9 2.05-1.9 2.05-1.9-2.05zM477.2 576.6l1.9 2.05-1.9 2.05-1.9-2.05zM477.1 573.4l1.9 2.05-1.9 2.05-1.9-2.05zM478.1 570.8l1.9 2.05-1.9 2.05-1.9-2.05zM477.2 570.1l1.9 2.05-1.9 2.05-1.9-2.05zM478.3 568.1l1.9 2.05-1.9 2.05-1.9-2.05zM479.1 568.1l1.9 2.05-1.9 2.05-1.9-2.05zM479.2 569.0l1.9 2.05-1.9 2.05-1.9-2.05zM479.2 571.2l1.9 2.05-1.9 2.05-1.9-2.05zM480.2 573.7l1.9 2.05-1.9 2.05-1.9-2.05zM480.3 576.4l1.9 2.05-1.9 2.05-1.9-2.05zM480.3 577.9l1.9 2.05-1.9 2.05-1.9-2.05zM481.2 584.6l1.9 2.05-1.9 2.05-1.9-2.05zM481.3 587.8l1.9 2.05-1.9 2.05-1.9-2.05zM481.3 593.1l1.9 2.05-1.9 2.05-1.9-2.05zM481.2 599.0l1.9 2.05-1.9 2.05-1.9-2.05zM482.1 604.0l1.9 2.05-1.9 2.05-1.9-2.05zM482.3 609.7l1.9 2.05-1.9 2.05-1.9-2.05zM482.2 616.8l1.9 2.05-1.9 2.05-1.9-2.05zM482.3 618.9l1.9 2.05-1.9 2.05-1.9-2.05zM483.3 627.7l1.9 2.05-1.9 2.05-1.9-2.05zM483.2 636.3l1.9 2.05-1.9 2.05-1.9-2.05zM484.3 643.3l1.9 2.05-1.9 2.05-1.9-2.05zM484.2 650.8l1.9 2.05-1.9 2.05-1.9-2.05zM484.2 653.5l1.9 2.05-1.9 2.05-1.9-2.05zM485.2 663.4l1.9 2.05-1.9 2.05-1.9-2.05zM485.3 668.9l1.9 2.05-1.9 2.05-1.9-2.05zM485.4 674.8l1.9 2.05-1.9 2.05-1.9-2.05zM485.3 683.5l1.9 2.05-1.9 2.05-1.9-2.05zM486.4 690.6l1.9 2.05-1.9 2.05-1.9-2.05zM486.3 699.2l1.9 2.05-1.9 2.05-1.9-2.05zM486.4 706.7l1.9 2.05-1.9 2.05-1.9-2.05zM487.3 711.4l1.9 2.05-1.9 2.05-1.9-2.05zM488.3 720.8l1.9 2.05-1.9 2.05-1.9-2.05zM488.4 722.6l1.9 2.05-1.9 2.05-1.9-2.05zM488.4 732.3l1.9 2.05-1.9 2.05-1.9-2.05zM489.3 735.0l1.9 2.05-1.9 2.05-1.9-2.05zM488.2 740.2l1.9 2.05-1.9 2.05-1.9-2.05zM489.2 748.5l1.9 2.05-1.9 2.05-1.9-2.05zM489.2 752.6l1.9 2.05-1.9 2.05-1.9-2.05zM490.3 756.9l1.9 2.05-1.9 2.05-1.9-2.05zM490.2 762.2l1.9 2.05-1.9 2.05-1.9-2.05zM490.4 761.9l1.9 2.05-1.9 2.05-1.9-2.05zM490.3 766.3l1.9 2.05-1.9 2.05-1.9-2.05zM491.4 766.5l1.9 2.05-1.9 2.05-1.9-2.05zM491.4 769.2l1.9 2.05-1.9 2.05-1.9-2.05zM492.3 770.5l1.9 2.05-1.9 2.05-1.9-2.05zM492.4 770.8l1.9 2.05-1.9 2.05-1.9-2.05zM492.4 769.9l1.9 2.05-1.9 2.05-1.9-2.05zM493.4 766.7l1.9 2.05-1.9 2.05-1.9-2.05zM493.4 764.9l1.9 2.05-1.9 2.05-1.9-2.05zM493.2 764.4l1.9 2.05-1.9 2.05-1.9-2.05zM494.3 763.6l1.9 2.05-1.9 2.05-1.9-2.05zM494.4 760.8l1.9 2.05-1.9 2.05-1.9-2.05zM495.5 755.8l1.9 2.05-1.9 2.05-1.9-2.05zM495.3 750.2l1.9 2.05-1.9 2.05-1.9-2.05zM495.3 748.3l1.9 2.05-1.9 2.05-1.9-2.05zM495.4 744.8l1.9 2.05-1.9 2.05-1.9-2.05zM496.3 740.8l1.9 2.05-1.9 2.05-1.9-2.05zM496.3 737.3l1.9 2.05-1.9 2.05-1.9-2.05zM496.4 730.7l1.9 2.05-1.9 2.05-1.9-2.05zM496.4 724.7l1.9 2.05-1.9 2.05-1.9-2.05zM497.5 721.5l1.9 2.05-1.9 2.05-1.9-2.05zM498.5 715.9l1.9 2.05-1.9 2.05-1.9-2.05zM498.5 709.3l1.9 2.05-1.9 2.05-1.9-2.05zM498.3 707.9l1.9 2.05-1.9 2.05-1.9-2.05zM499.5 699.6l1.9 2.05-1.9 2.05-1.9-2.05zM498.4 697.1l1.9 2.05-1.9 2.05-1.9-2.05zM499.4 691.6l1.9 2.05-1.9 2.05-1.9-2.05zM499.3 686.5l1.9 2.05-1.9 2.05-1.9-2.05zM500.4 685.3l1.9 2.05-1.9 2.05-1.9-2.05zM500.3 677.4l1.9 2.05-1.9 2.05-1.9-2.05zM500.6 674.3l1.9 2.05-1.9 2.05-1.9-2.05zM501.5 670.1l1.9 2.05-1.9 2.05-1.9-2.05zM501.3 670.8l1.9 2.05-1.9 2.05-1.9-2.05zM501.4 665.1l1.9 2.05-1.9 2.05-1.9-2.05zM501.6 662.5l1.9 2.05-1.9 2.05-1.9-2.05zM502.6 659.4l1.9 2.05-1.9 2.05-1.9-2.05zM503.4 657.0l1.9 2.05-1.9 2.05-1.9-2.05zM503.6 656.8l1.9 2.05-1.9 2.05-1.9-2.05zM503.5 655.3l1.9 2.05-1.9 2.05-1.9-2.05zM503.3 654.4l1.9 2.05-1.9 2.05-1.9-2.05zM504.4 654.4l1.9 2.05-1.9 2.05-1.9-2.05zM504.5 658.6l1.9 2.05-1.9 2.05-1.9-2.05zM504.6 657.3l1.9 2.05-1.9 2.05-1.9-2.05zM505.5 659.8l1.9 2.05-1.9 2.05-1.9-2.05zM505.5 662.3l1.9 2.05-1.9 2.05-1.9-2.05zM505.5 664.4l1.9 2.05-1.9 2.05-1.9-2.05zM506.5 667.7l1.9 2.05-1.9 2.05-1.9-2.05zM506.6 670.9l1.9 2.05-1.9 2.05-1.9-2.05zM507.4 675.5l1.9 2.05-1.9 2.05-1.9-2.05zM507.5 678.8l1.9 2.05-1.9 2.05-1.9-2.05zM507.5 684.0l1.9 2.05-1.9 2.05-1.9-2.05zM507.5 689.1l1.9 2.05-1.9 2.05-1.9-2.05zM508.4 690.2l1.9 2.05-1.9 2.05-1.9-2.05zM508.7 694.5l1.9 2.05-1.9 2.05-1.9-2.05zM509.6 701.3l1.9 2.05-1.9 2.05-1.9-2.05zM509.6 705.3l1.9 2.05-1.9 2.05-1.9-2.05zM509.6 711.1l1.9 2.05-1.9 2.05-1.9-2.05zM509.4 716.6l1.9 2.05-1.9 2.05-1.9-2.05zM509.6 721.8l1.9 2.05-1.9 2.05-1.9-2.05zM510.6 724.3l1.9 2.05-1.9 2.05-1.9-2.05zM510.4 731.5l1.9 2.05-1.9 2.05-1.9-2.05zM511.4 737.9l1.9 2.05-1.9 2.05-1.9-2.05zM511.6 740.5l1.9 2.05-1.9 2.05-1.9-2.05zM511.6 747.7l1.9 2.05-1.9 2.05-1.9-2.05zM512.7 750.5l1.9 2.05-1.9 2.05-1.9-2.05zM512.7 755.5l1.9 2.05-1.9 2.05-1.9-2.05zM512.6 763.4l1.9 2.05-1.9 2.05-1.9-2.05zM513.7 766.3l1.9 2.05-1.9 2.05-1.9-2.05zM513.5 769.1l1.9 2.05-1.9 2.05-1.9-2.05zM513.4 773.0l1.9 2.05-1.9 2.05-1.9-2.05zM514.7 776.6l1.9 2.05-1.9 2.05-1.9-2.05zM514.5 780.0l1.9 2.05-1.9 2.05-1.9-2.05zM514.5 783.1l1.9 2.05-1.9 2.05-1.9-2.05zM515.6 785.8l1.9 2.05-1.9 2.05-1.9-2.05zM515.7 787.5l1.9 2.05-1.9 2.05-1.9-2.05zM516.5 788.6l1.9 2.05-1.9 2.05-1.9-2.05zM516.5 791.2l1.9 2.05-1.9 2.05-1.9-2.05zM516.7 790.8l1.9 2.05-1.9 2.05-1.9-2.05zM516.5 791.4l1.9 2.05-1.9 2.05-1.9-2.05zM517.6 790.3l1.9 2.05-1.9 2.05-1.9-2.05zM517.6 789.7l1.9 2.05-1.9 2.05-1.9-2.05zM517.7 786.3l1.9 2.05-1.9 2.05-1.9-2.05zM518.7 783.7l1.9 2.05-1.9 2.05-1.9-2.05zM518.5 782.6l1.9 2.05-1.9 2.05-1.9-2.05zM518.7 777.9l1.9 2.05-1.9 2.05-1.9-2.05zM518.7 775.1l1.9 2.05-1.9 2.05-1.9-2.05zM519.6 770.4l1.9 2.05-1.9 2.05-1.9-2.05zM519.6 763.3l1.9 2.05-1.9 2.05-1.9-2.05zM520.7 758.0l1.9 2.05-1.9 2.05-1.9-2.05zM520.7 753.1l1.9 2.05-1.9 2.05-1.9-2.05zM521.6 746.3l1.9 2.05-1.9 2.05-1.9-2.05zM520.6 746.1l1.9 2.05-1.9 2.05-1.9-2.05zM521.8 736.0l1.9 2.05-1.9 2.05-1.9-2.05zM521.7 730.8l1.9 2.05-1.9 2.05-1.9-2.05zM522.7 724.4l1.9 2.05-1.9 2.05-1.9-2.05zM522.8 721.2l1.9 2.05-1.9 2.05-1.9-2.05zM522.7 713.2l1.9 2.05-1.9 2.05-1.9-2.05zM523.6 704.8l1.9 2.05-1.9 2.05-1.9-2.05zM523.8 702.2l1.9 2.05-1.9 2.05-1.9-2.05zM523.8 694.8l1.9 2.05-1.9 2.05-1.9-2.05zM523.6 689.9l1.9 2.05-1.9 2.05-1.9-2.05zM524.8 686.1l1.9 2.05-1.9 2.05-1.9-2.05zM525.8 676.8l1.9 2.05-1.9 2.05-1.9-2.05zM524.7 672.6l1.9 2.05-1.9 2.05-1.9-2.05zM525.8 668.6l1.9 2.05-1.9 2.05-1.9-2.05zM525.6 665.2l1.9 2.05-1.9 2.05-1.9-2.05zM525.6 657.5l1.9 2.05-1.9 2.05-1.9-2.05zM526.7 655.3l1.9 2.05-1.9 2.05-1.9-2.05zM526.8 653.8l1.9 2.05-1.9 2.05-1.9-2.05zM527.6 650.4l1.9 2.05-1.9 2.05-1.9-2.05zM527.6 646.8l1.9 2.05-1.9 2.05-1.9-2.05zM527.7 644.9l1.9 2.05-1.9 2.05-1.9-2.05zM527.8 641.5l1.9 2.05-1.9 2.05-1.9-2.05zM528.6 642.7l1.9 2.05-1.9 2.05-1.9-2.05zM528.7 644.0l1.9 2.05-1.9 2.05-1.9-2.05zM529.6 644.1l1.9 2.05-1.9 2.05-1.9-2.05zM529.6 646.5l1.9 2.05-1.9 2.05-1.9-2.05zM530.7 650.6l1.9 2.05-1.9 2.05-1.9-2.05zM530.7 651.9l1.9 2.05-1.9 2.05-1.9-2.05zM530.7 658.6l1.9 2.05-1.9 2.05-1.9-2.05zM530.8 660.2l1.9 2.05-1.9 2.05-1.9-2.05zM531.7 665.6l1.9 2.05-1.9 2.05-1.9-2.05zM531.7 669.6l1.9 2.05-1.9 2.05-1.9-2.05zM531.8 674.7l1.9 2.05-1.9 2.05-1.9-2.05zM531.9 680.5l1.9 2.05-1.9 2.05-1.9-2.05zM532.9 686.0l1.9 2.05-1.9 2.05-1.9-2.05zM532.9 693.8l1.9 2.05-1.9 2.05-1.9-2.05zM532.7 697.4l1.9 2.05-1.9 2.05-1.9-2.05zM533.9 706.2l1.9 2.05-1.9 2.05-1.9-2.05zM533.8 712.5l1.9 2.05-1.9 2.05-1.9-2.05zM533.7 719.4l1.9 2.05-1.9 2.05-1.9-2.05zM534.8 727.5l1.9 2.05-1.9 2.05-1.9-2.05zM535.7 734.8l1.9 2.05-1.9 2.05-1.9-2.05zM535.9 742.3l1.9 2.05-1.9 2.05-1.9-2.05zM535.7 748.6l1.9 2.05-1.9 2.05-1.9-2.05zM535.9 755.8l1.9 2.05-1.9 2.05-1.9-2.05zM536.7 762.9l1.9 2.05-1.9 2.05-1.9-2.05zM536.8 770.4l1.9 2.05-1.9 2.05-1.9-2.05zM536.8 777.7l1.9 2.05-1.9 2.05-1.9-2.05zM537.8 784.8l1.9 2.05-1.9 2.05-1.9-2.05zM537.8 791.3l1.9 2.05-1.9 2.05-1.9-2.05zM539.0 798.4l1.9 2.05-1.9 2.05-1.9-2.05zM538.8 804.9l1.9 2.05-1.9 2.05-1.9-2.05zM538.7 812.0l1.9 2.05-1.9 2.05-1.9-2.05zM538.8 817.0l1.9 2.05-1.9 2.05-1.9-2.05zM539.8 823.9l1.9 2.05-1.9 2.05-1.9-2.05zM539.8 828.6l1.9 2.05-1.9 2.05-1.9-2.05zM539.9 834.0l1.9 2.05-1.9 2.05-1.9-2.05zM540.9 838.5l1.9 2.05-1.9 2.05-1.9-2.05zM540.7 841.8l1.9 2.05-1.9 2.05-1.9-2.05zM540.8 846.9l1.9 2.05-1.9 2.05-1.9-2.05zM541.9 850.6l1.9 2.05-1.9 2.05-1.9-2.05zM541.9 852.1l1.9 2.05-1.9 2.05-1.9-2.05zM541.9 853.2l1.9 2.05-1.9 2.05-1.9-2.05zM542.8 854.7l1.9 2.05-1.9 2.05-1.9-2.05zM542.8 858.8l1.9 2.05-1.9 2.05-1.9-2.05zM543.8 858.0l1.9 2.05-1.9 2.05-1.9-2.05zM542.8 855.3l1.9 2.05-1.9 2.05-1.9-2.05zM544.0 856.0l1.9 2.05-1.9 2.05-1.9-2.05zM544.0 853.0l1.9 2.05-1.9 2.05-1.9-2.05zM544.0 852.3l1.9 2.05-1.9 2.05-1.9-2.05zM544.9 846.9l1.9 2.05-1.9 2.05-1.9-2.05zM545.0 847.7l1.9 2.05-1.9 2.05-1.9-2.05zM545.8 841.4l1.9 2.05-1.9 2.05-1.9-2.05zM545.9 836.8l1.9 2.05-1.9 2.05-1.9-2.05zM546.0 833.7l1.9 2.05-1.9 2.05-1.9-2.05zM547.0 829.0l1.9 2.05-1.9 2.05-1.9-2.05zM546.9 822.4l1.9 2.05-1.9 2.05-1.9-2.05zM546.9 817.3l1.9 2.05-1.9 2.05-1.9-2.05zM546.9 811.2l1.9 2.05-1.9 2.05-1.9-2.05zM547.9 809.5l1.9 2.05-1.9 2.05-1.9-2.05zM548.1 802.8l1.9 2.05-1.9 2.05-1.9-2.05zM549.0 795.8l1.9 2.05-1.9 2.05-1.9-2.05zM548.8 789.8l1.9 2.05-1.9 2.05-1.9-2.05zM548.9 784.3l1.9 2.05-1.9 2.05-1.9-2.05zM550.1 777.7l1.9 2.05-1.9 2.05-1.9-2.05zM549.9 773.7l1.9 2.05-1.9 2.05-1.9-2.05zM550.9 768.5l1.9 2.05-1.9 2.05-1.9-2.05zM549.8 758.0l1.9 2.05-1.9 2.05-1.9-2.05zM550.9 753.9l1.9 2.05-1.9 2.05-1.9-2.05zM551.0 746.7l1.9 2.05-1.9 2.05-1.9-2.05zM552.1 744.1l1.9 2.05-1.9 2.05-1.9-2.05zM551.9 739.2l1.9 2.05-1.9 2.05-1.9-2.05zM552.0 734.5l1.9 2.05-1.9 2.05-1.9-2.05zM552.9 727.6l1.9 2.05-1.9 2.05-1.9-2.05zM553.1 726.4l1.9 2.05-1.9 2.05-1.9-2.05zM552.9 720.3l1.9 2.05-1.9 2.05-1.9-2.05zM552.9 716.0l1.9 2.05-1.9 2.05-1.9-2.05zM554.1 713.9l1.9 2.05-1.9 2.05-1.9-2.05zM554.0 709.1l1.9 2.05-1.9 2.05-1.9-2.05zM554.0 707.0l1.9 2.05-1.9 2.05-1.9-2.05zM555.1 705.5l1.9 2.05-1.9 2.05-1.9-2.05zM556.1 702.0l1.9 2.05-1.9 2.05-1.9-2.05zM555.0 700.5l1.9 2.05-1.9 2.05-1.9-2.05zM556.1 697.8l1.9 2.05-1.9 2.05-1.9-2.05zM557.0 698.6l1.9 2.05-1.9 2.05-1.9-2.05zM557.1 699.3l1.9 2.05-1.9 2.05-1.9-2.05zM557.0 701.5l1.9 2.05-1.9 2.05-1.9-2.05zM556.9 701.5l1.9 2.05-1.9 2.05-1.9-2.05zM558.0 702.5l1.9 2.05-1.9 2.05-1.9-2.05zM558.1 704.0l1.9 2.05-1.9 2.05-1.9-2.05zM558.1 707.0l1.9 2.05-1.9 2.05-1.9-2.05zM558.9 711.0l1.9 2.05-1.9 2.05-1.9-2.05zM559.0 712.7l1.9 2.05-1.9 2.05-1.9-2.05zM560.1 718.1l1.9 2.05-1.9 2.05-1.9-2.05zM560.1 716.8l1.9 2.05-1.9 2.05-1.9-2.05zM560.1 723.2l1.9 2.05-1.9 2.05-1.9-2.05zM560.0 728.7l1.9 2.05-1.9 2.05-1.9-2.05zM561.2 728.3l1.9 2.05-1.9 2.05-1.9-2.05zM561.0 734.0l1.9 2.05-1.9 2.05-1.9-2.05zM562.0 734.3l1.9 2.05-1.9 2.05-1.9-2.05zM560.9 739.1l1.9 2.05-1.9 2.05-1.9-2.05zM562.0 741.6l1.9 2.05-1.9 2.05-1.9-2.05zM562.1 744.0l1.9 2.05-1.9 2.05-1.9-2.05zM562.2 748.5l1.9 2.05-1.9 2.05-1.9-2.05zM563.0 751.6l1.9 2.05-1.9 2.05-1.9-2.05zM563.1 755.0l1.9 2.05-1.9 2.05-1.9-2.05zM564.0 755.3l1.9 2.05-1.9 2.05-1.9-2.05zM564.0 758.3l1.9 2.05-1.9 2.05-1.9-2.05zM564.2 760.5l1.9 2.05-1.9 2.05-1.9-2.05zM565.1 762.4l1.9 2.05-1.9 2.05-1.9-2.05zM565.0 761.3l1.9 2.05-1.9 2.05-1.9-2.05zM565.0 763.0l1.9 2.05-1.9 2.05-1.9-2.05zM566.1 765.8l1.9 2.05-1.9 2.05-1.9-2.05zM566.2 764.1l1.9 2.05-1.9 2.05-1.9-2.05zM566.1 763.1l1.9 2.05-1.9 2.05-1.9-2.05zM567.2 759.4l1.9 2.05-1.9 2.05-1.9-2.05zM567.0 755.8l1.9 2.05-1.9 2.05-1.9-2.05zM567.0 755.5l1.9 2.05-1.9 2.05-1.9-2.05zM568.0 752.6l1.9 2.05-1.9 2.05-1.9-2.05zM568.1 748.1l1.9 2.05-1.9 2.05-1.9-2.05zM568.2 744.0l1.9 2.05-1.9 2.05-1.9-2.05zM568.1 736.8l1.9 2.05-1.9 2.05-1.9-2.05zM569.2 733.5l1.9 2.05-1.9 2.05-1.9-2.05zM569.1 730.6l1.9 2.05-1.9 2.05-1.9-2.05zM570.1 724.8l1.9 2.05-1.9 2.05-1.9-2.05zM570.3 716.7l1.9 2.05-1.9 2.05-1.9-2.05zM571.3 710.4l1.9 2.05-1.9 2.05-1.9-2.05zM571.2 704.5l1.9 2.05-1.9 2.05-1.9-2.05zM571.2 699.3l1.9 2.05-1.9 2.05-1.9-2.05zM571.1 691.2l1.9 2.05-1.9 2.05-1.9-2.05zM572.3 684.5l1.9 2.05-1.9 2.05-1.9-2.05zM572.2 678.6l1.9 2.05-1.9 2.05-1.9-2.05zM572.1 670.6l1.9 2.05-1.9 2.05-1.9-2.05zM573.1 664.0l1.9 2.05-1.9 2.05-1.9-2.05zM573.2 658.1l1.9 2.05-1.9 2.05-1.9-2.05zM573.1 650.6l1.9 2.05-1.9 2.05-1.9-2.05zM574.2 642.5l1.9 2.05-1.9 2.05-1.9-2.05zM574.2 636.2l1.9 2.05-1.9 2.05-1.9-2.05zM575.3 631.0l1.9 2.05-1.9 2.05-1.9-2.05zM575.3 622.8l1.9 2.05-1.9 2.05-1.9-2.05zM575.1 616.3l1.9 2.05-1.9 2.05-1.9-2.05zM575.2 607.0l1.9 2.05-1.9 2.05-1.9-2.05zM576.2 604.1l1.9 2.05-1.9 2.05-1.9-2.05zM576.2 596.2l1.9 2.05-1.9 2.05-1.9-2.05zM576.2 591.8l1.9 2.05-1.9 2.05-1.9-2.05zM576.2 584.9l1.9 2.05-1.9 2.05-1.9-2.05zM577.1 581.1l1.9 2.05-1.9 2.05-1.9-2.05zM577.2 578.1l1.9 2.05-1.9 2.05-1.9-2.05zM578.2 574.2l1.9 2.05-1.9 2.05-1.9-2.05zM578.2 569.9l1.9 2.05-1.9 2.05-1.9-2.05zM578.2 565.9l1.9 2.05-1.9 2.05-1.9-2.05zM578.3 564.4l1.9 2.05-1.9 2.05-1.9-2.05zM579.4 562.8l1.9 2.05-1.9 2.05-1.9-2.05zM579.2 563.9l1.9 2.05-1.9 2.05-1.9-2.05zM580.3 558.9l1.9 2.05-1.9 2.05-1.9-2.05zM580.4 559.5l1.9 2.05-1.9 2.05-1.9-2.05zM580.4 561.6l1.9 2.05-1.9 2.05-1.9-2.05zM580.3 563.4l1.9 2.05-1.9 2.05-1.9-2.05zM581.2 564.7l1.9 2.05-1.9 2.05-1.9-2.05zM581.3 567.8l1.9 2.05-1.9 2.05-1.9-2.05zM582.2 572.8l1.9 2.05-1.9 2.05-1.9-2.05zM582.3 577.8l1.9 2.05-1.9 2.05-1.9-2.05zM582.4 579.1l1.9 2.05-1.9 2.05-1.9-2.05zM583.3 587.1l1.9 2.05-1.9 2.05-1.9-2.05zM583.4 591.8l1.9 2.05-1.9 2.05-1.9-2.05zM583.3 595.8l1.9 2.05-1.9 2.05-1.9-2.05zM584.2 600.4l1.9 2.05-1.9 2.05-1.9-2.05zM584.3 607.4l1.9 2.05-1.9 2.05-1.9-2.05zM585.4 611.5l1.9 2.05-1.9 2.05-1.9-2.05zM585.5 620.8l1.9 2.05-1.9 2.05-1.9-2.05zM585.4 625.1l1.9 2.05-1.9 2.05-1.9-2.05zM585.3 634.6l1.9 2.05-1.9 2.05-1.9-2.05zM586.2 643.1l1.9 2.05-1.9 2.05-1.9-2.05zM586.3 650.6l1.9 2.05-1.9 2.05-1.9-2.05zM587.4 657.2l1.9 2.05-1.9 2.05-1.9-2.05zM587.4 663.8l1.9 2.05-1.9 2.05-1.9-2.05zM587.4 672.2l1.9 2.05-1.9 2.05-1.9-2.05zM587.3 676.7l1.9 2.05-1.9 2.05-1.9-2.05zM588.4 685.5l1.9 2.05-1.9 2.05-1.9-2.05zM588.3 692.9l1.9 2.05-1.9 2.05-1.9-2.05zM588.2 702.8l1.9 2.05-1.9 2.05-1.9-2.05zM589.3 707.1l1.9 2.05-1.9 2.05-1.9-2.05zM589.2 713.2l1.9 2.05-1.9 2.05-1.9-2.05zM589.3 719.7l1.9 2.05-1.9 2.05-1.9-2.05zM590.5 726.4l1.9 2.05-1.9 2.05-1.9-2.05zM590.4 731.7l1.9 2.05-1.9 2.05-1.9-2.05zM591.4 734.6l1.9 2.05-1.9 2.05-1.9-2.05zM591.3 742.0l1.9 2.05-1.9 2.05-1.9-2.05zM591.5 743.1l1.9 2.05-1.9 2.05-1.9-2.05zM591.5 750.7l1.9 2.05-1.9 2.05-1.9-2.05zM592.3 752.9l1.9 2.05-1.9 2.05-1.9-2.05zM592.4 756.5l1.9 2.05-1.9 2.05-1.9-2.05zM592.5 757.4l1.9 2.05-1.9 2.05-1.9-2.05zM593.5 758.7l1.9 2.05-1.9 2.05-1.9-2.05zM593.3 761.5l1.9 2.05-1.9 2.05-1.9-2.05zM594.4 764.3l1.9 2.05-1.9 2.05-1.9-2.05zM593.5 761.3l1.9 2.05-1.9 2.05-1.9-2.05zM594.5 759.3l1.9 2.05-1.9 2.05-1.9-2.05zM594.4 758.6l1.9 2.05-1.9 2.05-1.9-2.05zM594.4 756.3l1.9 2.05-1.9 2.05-1.9-2.05zM595.5 755.8l1.9 2.05-1.9 2.05-1.9-2.05zM595.5 749.6l1.9 2.05-1.9 2.05-1.9-2.05zM595.6 745.6l1.9 2.05-1.9 2.05-1.9-2.05zM596.4 741.9l1.9 2.05-1.9 2.05-1.9-2.05zM597.5 739.8l1.9 2.05-1.9 2.05-1.9-2.05zM597.6 735.6l1.9 2.05-1.9 2.05-1.9-2.05zM597.3 734.1l1.9 2.05-1.9 2.05-1.9-2.05zM598.6 729.8l1.9 2.05-1.9 2.05-1.9-2.05zM598.6 722.7l1.9 2.05-1.9 2.05-1.9-2.05zM598.5 718.6l1.9 2.05-1.9 2.05-1.9-2.05zM598.5 713.5l1.9 2.05-1.9 2.05-1.9-2.05zM599.5 708.5l1.9 2.05-1.9 2.05-1.9-2.05zM599.4 702.6l1.9 2.05-1.9 2.05-1.9-2.05zM600.5 697.6l1.9 2.05-1.9 2.05-1.9-2.05zM599.4 693.9l1.9 2.05-1.9 2.05-1.9-2.05zM600.6 690.1l1.9 2.05-1.9 2.05-1.9-2.05zM600.5 684.8l1.9 2.05-1.9 2.05-1.9-2.05zM601.5 680.7l1.9 2.05-1.9 2.05-1.9-2.05zM601.6 678.2l1.9 2.05-1.9 2.05-1.9-2.05zM602.5 671.8l1.9 2.05-1.9 2.05-1.9-2.05zM601.4 668.6l1.9 2.05-1.9 2.05-1.9-2.05zM602.5 664.4l1.9 2.05-1.9 2.05-1.9-2.05zM602.6 663.6l1.9 2.05-1.9 2.05-1.9-2.05zM602.4 660.0l1.9 2.05-1.9 2.05-1.9-2.05zM603.5 654.6l1.9 2.05-1.9 2.05-1.9-2.05zM603.4 655.0l1.9 2.05-1.9 2.05-1.9-2.05zM603.4 653.1l1.9 2.05-1.9 2.05-1.9-2.05zM604.5 651.6l1.9 2.05-1.9 2.05-1.9-2.05zM604.7 648.6l1.9 2.05-1.9 2.05-1.9-2.05zM605.5 653.0l1.9 2.05-1.9 2.05-1.9-2.05zM605.4 650.9l1.9 2.05-1.9 2.05-1.9-2.05zM606.7 652.5l1.9 2.05-1.9 2.05-1.9-2.05zM606.5 654.2l1.9 2.05-1.9 2.05-1.9-2.05zM606.5 658.0l1.9 2.05-1.9 2.05-1.9-2.05zM606.6 659.2l1.9 2.05-1.9 2.05-1.9-2.05zM607.6 662.9l1.9 2.05-1.9 2.05-1.9-2.05zM607.6 666.3l1.9 2.05-1.9 2.05-1.9-2.05zM607.5 668.9l1.9 2.05-1.9 2.05-1.9-2.05zM608.6 674.6l1.9 2.05-1.9 2.05-1.9-2.05zM608.5 678.7l1.9 2.05-1.9 2.05-1.9-2.05zM609.7 686.0l1.9 2.05-1.9 2.05-1.9-2.05zM609.7 689.3l1.9 2.05-1.9 2.05-1.9-2.05zM609.5 693.7l1.9 2.05-1.9 2.05-1.9-2.05zM610.7 697.6l1.9 2.05-1.9 2.05-1.9-2.05zM609.5 702.6l1.9 2.05-1.9 2.05-1.9-2.05zM610.7 709.9l1.9 2.05-1.9 2.05-1.9-2.05zM610.6 713.7l1.9 2.05-1.9 2.05-1.9-2.05zM611.6 717.7l1.9 2.05-1.9 2.05-1.9-2.05zM611.6 725.5l1.9 2.05-1.9 2.05-1.9-2.05zM611.6 729.9l1.9 2.05-1.9 2.05-1.9-2.05zM612.7 736.3l1.9 2.05-1.9 2.05-1.9-2.05zM612.7 741.5l1.9 2.05-1.9 2.05-1.9-2.05zM612.7 745.7l1.9 2.05-1.9 2.05-1.9-2.05zM612.7 749.5l1.9 2.05-1.9 2.05-1.9-2.05zM613.5 754.8l1.9 2.05-1.9 2.05-1.9-2.05zM614.7 758.3l1.9 2.05-1.9 2.05-1.9-2.05zM614.7 762.9l1.9 2.05-1.9 2.05-1.9-2.05zM614.7 769.7l1.9 2.05-1.9 2.05-1.9-2.05zM614.5 771.3l1.9 2.05-1.9 2.05-1.9-2.05zM615.5 773.5l1.9 2.05-1.9 2.05-1.9-2.05zM615.7 778.7l1.9 2.05-1.9 2.05-1.9-2.05zM615.5 781.4l1.9 2.05-1.9 2.05-1.9-2.05zM615.5 782.5l1.9 2.05-1.9 2.05-1.9-2.05zM616.6 782.6l1.9 2.05-1.9 2.05-1.9-2.05zM616.7 784.9l1.9 2.05-1.9 2.05-1.9-2.05zM617.8 784.8l1.9 2.05-1.9 2.05-1.9-2.05zM617.6 784.9l1.9 2.05-1.9 2.05-1.9-2.05zM618.8 780.4l1.9 2.05-1.9 2.05-1.9-2.05zM618.6 777.4l1.9 2.05-1.9 2.05-1.9-2.05zM618.7 775.6l1.9 2.05-1.9 2.05-1.9-2.05zM618.7 772.4l1.9 2.05-1.9 2.05-1.9-2.05zM619.8 770.0l1.9 2.05-1.9 2.05-1.9-2.05zM619.7 766.5l1.9 2.05-1.9 2.05-1.9-2.05zM619.7 761.1l1.9 2.05-1.9 2.05-1.9-2.05zM620.8 759.2l1.9 2.05-1.9 2.05-1.9-2.05zM620.6 752.2l1.9 2.05-1.9 2.05-1.9-2.05zM620.7 749.6l1.9 2.05-1.9 2.05-1.9-2.05zM621.7 741.5l1.9 2.05-1.9 2.05-1.9-2.05zM621.8 738.5l1.9 2.05-1.9 2.05-1.9-2.05zM621.8 734.7l1.9 2.05-1.9 2.05-1.9-2.05zM622.8 726.6l1.9 2.05-1.9 2.05-1.9-2.05zM622.7 719.2l1.9 2.05-1.9 2.05-1.9-2.05zM622.7 717.0l1.9 2.05-1.9 2.05-1.9-2.05zM623.8 708.6l1.9 2.05-1.9 2.05-1.9-2.05zM623.8 705.9l1.9 2.05-1.9 2.05-1.9-2.05zM623.8 699.8l1.9 2.05-1.9 2.05-1.9-2.05zM623.8 691.4l1.9 2.05-1.9 2.05-1.9-2.05zM624.6 688.7l1.9 2.05-1.9 2.05-1.9-2.05zM625.8 682.2l1.9 2.05-1.9 2.05-1.9-2.05zM625.9 675.8l1.9 2.05-1.9 2.05-1.9-2.05zM625.7 670.4l1.9 2.05-1.9 2.05-1.9-2.05zM626.6 666.8l1.9 2.05-1.9 2.05-1.9-2.05zM625.6 663.0l1.9 2.05-1.9 2.05-1.9-2.05zM626.7 657.6l1.9 2.05-1.9 2.05-1.9-2.05zM627.8 655.6l1.9 2.05-1.9 2.05-1.9-2.05zM627.7 649.8l1.9 2.05-1.9 2.05-1.9-2.05zM627.7 647.0l1.9 2.05-1.9 2.05-1.9-2.05zM628.9 646.9l1.9 2.05-1.9 2.05-1.9-2.05zM628.8 640.5l1.9 2.05-1.9 2.05-1.9-2.05zM628.9 639.7l1.9 2.05-1.9 2.05-1.9-2.05zM628.9 640.8l1.9 2.05-1.9 2.05-1.9-2.05zM629.7 638.2l1.9 2.05-1.9 2.05-1.9-2.05zM629.7 637.6l1.9 2.05-1.9 2.05-1.9-2.05zM630.7 637.7l1.9 2.05-1.9 2.05-1.9-2.05zM630.8 641.3l1.9 2.05-1.9 2.05-1.9-2.05zM630.8 643.5l1.9 2.05-1.9 2.05-1.9-2.05zM630.9 644.1l1.9 2.05-1.9 2.05-1.9-2.05zM631.8 649.4l1.9 2.05-1.9 2.05-1.9-2.05zM631.9 653.6l1.9 2.05-1.9 2.05-1.9-2.05zM631.7 659.1l1.9 2.05-1.9 2.05-1.9-2.05zM632.7 659.7l1.9 2.05-1.9 2.05-1.9-2.05zM632.7 666.4l1.9 2.05-1.9 2.05-1.9-2.05zM633.8 670.9l1.9 2.05-1.9 2.05-1.9-2.05zM633.8 677.7l1.9 2.05-1.9 2.05-1.9-2.05zM633.9 684.7l1.9 2.05-1.9 2.05-1.9-2.05zM633.8 687.9l1.9 2.05-1.9 2.05-1.9-2.05zM634.8 696.8l1.9 2.05-1.9 2.05-1.9-2.05zM634.9 700.9l1.9 2.05-1.9 2.05-1.9-2.05zM635.8 708.4l1.9 2.05-1.9 2.05-1.9-2.05zM636.0 719.3l1.9 2.05-1.9 2.05-1.9-2.05zM635.9 723.7l1.9 2.05-1.9 2.05-1.9-2.05zM635.8 732.7l1.9 2.05-1.9 2.05-1.9-2.05zM636.9 739.3l1.9 2.05-1.9 2.05-1.9-2.05zM636.9 746.4l1.9 2.05-1.9 2.05-1.9-2.05zM636.8 752.4l1.9 2.05-1.9 2.05-1.9-2.05zM638.0 760.1l1.9 2.05-1.9 2.05-1.9-2.05zM637.9 769.0l1.9 2.05-1.9 2.05-1.9-2.05zM637.8 774.2l1.9 2.05-1.9 2.05-1.9-2.05zM637.8 782.7l1.9 2.05-1.9 2.05-1.9-2.05zM638.9 788.6l1.9 2.05-1.9 2.05-1.9-2.05zM639.9 795.3l1.9 2.05-1.9 2.05-1.9-2.05zM639.9 804.5l1.9 2.05-1.9 2.05-1.9-2.05zM639.9 806.4l1.9 2.05-1.9 2.05-1.9-2.05zM640.0 815.7l1.9 2.05-1.9 2.05-1.9-2.05zM640.0 818.9l1.9 2.05-1.9 2.05-1.9-2.05zM640.8 825.3l1.9 2.05-1.9 2.05-1.9-2.05zM640.8 830.3l1.9 2.05-1.9 2.05-1.9-2.05zM642.0 834.0l1.9 2.05-1.9 2.05-1.9-2.05zM642.0 840.6l1.9 2.05-1.9 2.05-1.9-2.05zM641.9 842.8l1.9 2.05-1.9 2.05-1.9-2.05zM642.9 846.1l1.9 2.05-1.9 2.05-1.9-2.05zM643.0 849.1l1.9 2.05-1.9 2.05-1.9-2.05zM643.0 851.4l1.9 2.05-1.9 2.05-1.9-2.05zM643.0 852.4l1.9 2.05-1.9 2.05-1.9-2.05zM644.1 854.7l1.9 2.05-1.9 2.05-1.9-2.05zM643.9 855.1l1.9 2.05-1.9 2.05-1.9-2.05zM644.9 851.0l1.9 2.05-1.9 2.05-1.9-2.05zM645.1 851.9l1.9 2.05-1.9 2.05-1.9-2.05zM645.0 850.0l1.9 2.05-1.9 2.05-1.9-2.05zM646.0 847.0l1.9 2.05-1.9 2.05-1.9-2.05zM646.1 843.2l1.9 2.05-1.9 2.05-1.9-2.05zM645.9 838.7l1.9 2.05-1.9 2.05-1.9-2.05zM647.0 836.7l1.9 2.05-1.9 2.05-1.9-2.05zM646.9 834.1l1.9 2.05-1.9 2.05-1.9-2.05zM646.9 825.8l1.9 2.05-1.9 2.05-1.9-2.05zM647.0 824.9l1.9 2.05-1.9 2.05-1.9-2.05zM648.0 819.1l1.9 2.05-1.9 2.05-1.9-2.05zM647.9 813.8l1.9 2.05-1.9 2.05-1.9-2.05zM648.9 806.1l1.9 2.05-1.9 2.05-1.9-2.05zM648.9 801.0l1.9 2.05-1.9 2.05-1.9-2.05zM649.0 796.0l1.9 2.05-1.9 2.05-1.9-2.05zM649.9 789.9l1.9 2.05-1.9 2.05-1.9-2.05zM650.1 782.2l1.9 2.05-1.9 2.05-1.9-2.05zM651.0 778.1l1.9 2.05-1.9 2.05-1.9-2.05zM649.9 770.1l1.9 2.05-1.9 2.05-1.9-2.05zM651.0 763.4l1.9 2.05-1.9 2.05-1.9-2.05zM651.0 757.8l1.9 2.05-1.9 2.05-1.9-2.05zM650.9 755.3l1.9 2.05-1.9 2.05-1.9-2.05zM652.0 746.8l1.9 2.05-1.9 2.05-1.9-2.05zM651.9 739.3l1.9 2.05-1.9 2.05-1.9-2.05zM651.9 736.6l1.9 2.05-1.9 2.05-1.9-2.05zM653.1 729.4l1.9 2.05-1.9 2.05-1.9-2.05zM653.0 727.0l1.9 2.05-1.9 2.05-1.9-2.05zM654.1 721.3l1.9 2.05-1.9 2.05-1.9-2.05zM654.0 716.3l1.9 2.05-1.9 2.05-1.9-2.05zM653.9 713.6l1.9 2.05-1.9 2.05-1.9-2.05zM654.9 710.7l1.9 2.05-1.9 2.05-1.9-2.05zM654.9 706.3l1.9 2.05-1.9 2.05-1.9-2.05zM655.2 702.6l1.9 2.05-1.9 2.05-1.9-2.05zM656.0 702.2l1.9 2.05-1.9 2.05-1.9-2.05zM656.1 699.1l1.9 2.05-1.9 2.05-1.9-2.05zM656.1 699.3l1.9 2.05-1.9 2.05-1.9-2.05zM657.2 698.1l1.9 2.05-1.9 2.05-1.9-2.05zM657.0 698.0l1.9 2.05-1.9 2.05-1.9-2.05zM657.1 699.4l1.9 2.05-1.9 2.05-1.9-2.05zM658.2 701.3l1.9 2.05-1.9 2.05-1.9-2.05zM658.0 704.3l1.9 2.05-1.9 2.05-1.9-2.05zM658.1 705.9l1.9 2.05-1.9 2.05-1.9-2.05zM659.2 707.5l1.9 2.05-1.9 2.05-1.9-2.05zM659.0 708.1l1.9 2.05-1.9 2.05-1.9-2.05zM659.0 712.1l1.9 2.05-1.9 2.05-1.9-2.05zM660.2 717.3l1.9 2.05-1.9 2.05-1.9-2.05zM660.2 719.6l1.9 2.05-1.9 2.05-1.9-2.05zM660.0 722.4l1.9 2.05-1.9 2.05-1.9-2.05zM660.2 721.7l1.9 2.05-1.9 2.05-1.9-2.05zM661.2 727.3l1.9 2.05-1.9 2.05-1.9-2.05zM662.0 733.2l1.9 2.05-1.9 2.05-1.9-2.05zM661.0 736.7l1.9 2.05-1.9 2.05-1.9-2.05zM662.2 737.5l1.9 2.05-1.9 2.05-1.9-2.05zM663.2 741.0l1.9 2.05-1.9 2.05-1.9-2.05zM663.2 745.5l1.9 2.05-1.9 2.05-1.9-2.05zM663.2 746.9l1.9 2.05-1.9 2.05-1.9-2.05zM663.1 752.0l1.9 2.05-1.9 2.05-1.9-2.05zM664.1 755.7l1.9 2.05-1.9 2.05-1.9-2.05zM664.1 757.1l1.9 2.05-1.9 2.05-1.9-2.05zM664.1 759.9l1.9 2.05-1.9 2.05-1.9-2.05zM665.1 760.4l1.9 2.05-1.9 2.05-1.9-2.05zM665.2 764.8l1.9 2.05-1.9 2.05-1.9-2.05zM666.2 765.7l1.9 2.05-1.9 2.05-1.9-2.05zM666.1 766.9l1.9 2.05-1.9 2.05-1.9-2.05zM666.1 765.2l1.9 2.05-1.9 2.05-1.9-2.05zM666.2 769.4l1.9 2.05-1.9 2.05-1.9-2.05zM666.2 770.8l1.9 2.05-1.9 2.05-1.9-2.05zM667.2 767.8l1.9 2.05-1.9 2.05-1.9-2.05zM668.1 764.5l1.9 2.05-1.9 2.05-1.9-2.05zM668.2 762.8l1.9 2.05-1.9 2.05-1.9-2.05zM668.2 758.1l1.9 2.05-1.9 2.05-1.9-2.05zM668.1 757.1l1.9 2.05-1.9 2.05-1.9-2.05zM669.2 753.1l1.9 2.05-1.9 2.05-1.9-2.05zM669.1 751.1l1.9 2.05-1.9 2.05-1.9-2.05zM669.1 748.0l1.9 2.05-1.9 2.05-1.9-2.05zM670.2 739.9l1.9 2.05-1.9 2.05-1.9-2.05zM670.2 737.3l1.9 2.05-1.9 2.05-1.9-2.05zM671.3 730.6l1.9 2.05-1.9 2.05-1.9-2.05zM671.2 726.9l1.9 2.05-1.9 2.05-1.9-2.05zM671.1 719.7l1.9 2.05-1.9 2.05-1.9-2.05zM671.3 709.1l1.9 2.05-1.9 2.05-1.9-2.05zM672.3 705.2l1.9 2.05-1.9 2.05-1.9-2.05zM672.1 700.2l1.9 2.05-1.9 2.05-1.9-2.05zM672.3 692.4l1.9 2.05-1.9 2.05-1.9-2.05zM673.2 687.0l1.9 2.05-1.9 2.05-1.9-2.05zM673.2 679.7l1.9 2.05-1.9 2.05-1.9-2.05zM673.1 672.5l1.9 2.05-1.9 2.05-1.9-2.05zM674.3 666.5l1.9 2.05-1.9 2.05-1.9-2.05zM674.2 656.6l1.9 2.05-1.9 2.05-1.9-2.05zM674.2 649.4l1.9 2.05-1.9 2.05-1.9-2.05zM674.3 644.3l1.9 2.05-1.9 2.05-1.9-2.05zM675.3 637.1l1.9 2.05-1.9 2.05-1.9-2.05zM675.1 631.9l1.9 2.05-1.9 2.05-1.9-2.05zM676.3 625.9l1.9 2.05-1.9 2.05-1.9-2.05zM676.2 617.5l1.9 2.05-1.9 2.05-1.9-2.05zM676.4 613.7l1.9 2.05-1.9 2.05-1.9-2.05zM676.4 606.5l1.9 2.05-1.9 2.05-1.9-2.05zM677.3 602.4l1.9 2.05-1.9 2.05-1.9-2.05zM677.2 595.2l1.9 2.05-1.9 2.05-1.9-2.05zM677.4 592.4l1.9 2.05-1.9 2.05-1.9-2.05zM678.4 591.1l1.9 2.05-1.9 2.05-1.9-2.05zM678.3 584.0l1.9 2.05-1.9 2.05-1.9-2.05zM679.4 581.3l1.9 2.05-1.9 2.05-1.9-2.05zM679.2 580.0l1.9 2.05-1.9 2.05-1.9-2.05zM679.4 576.6l1.9 2.05-1.9 2.05-1.9-2.05zM679.3 577.8l1.9 2.05-1.9 2.05-1.9-2.05zM680.2 571.1l1.9 2.05-1.9 2.05-1.9-2.05zM680.3 570.9l1.9 2.05-1.9 2.05-1.9-2.05zM76.2 562.4l1.9 2.05-1.9 2.05-1.9-2.05zM681.8 557.6l1.9 2.05-1.9 2.05-1.9-2.05zM123.8 627.2l1.9 2.05-1.9 2.05-1.9-2.05zM275.8 589.3l1.9 2.05-1.9 2.05-1.9-2.05zM353.7 721.1l1.9 2.05-1.9 2.05-1.9-2.05zM604.9 641.0l1.9 2.05-1.9 2.05-1.9-2.05zM629.5 623.7l1.9 2.05-1.9 2.05-1.9-2.05z" fill="#ff0000" stroke="#ff0000" stroke-width="1.15" stroke-linejoin="round"/>
<text x="76.0" y="960.6" font-size="19.3" text-anchor="middle" fill="#262626" stroke="#262626" stroke-width="0.25">0</text>
<text x="160.2" y="960.6" font-size="19.3" text-anchor="middle" fill="#262626" stroke="#262626" stroke-width="0.25">50</text>
<text x="244.4" y="960.6" font-size="19.3" text-anchor="middle" fill="#262626" stroke="#262626" stroke-width="0.25">100</text>
<text x="328.6" y="960.6" font-size="19.3" text-anchor="middle" fill="#262626" stroke="#262626" stroke-width="0.25">150</text>
<text x="412.9" y="960.6" font-size="19.3" text-anchor="middle" fill="#262626" stroke="#262626" stroke-width="0.25">200</text>
<text x="497.1" y="960.6" font-size="19.3" text-anchor="middle" fill="#262626" stroke="#262626" stroke-width="0.25">250</text>
<text x="581.3" y="960.6" font-size="19.3" text-anchor="middle" fill="#262626" stroke="#262626" stroke-width="0.25">300</text>
<text x="665.5" y="960.6" font-size="19.3" text-anchor="middle" fill="#262626" stroke="#262626" stroke-width="0.25">350</text>
<text x="68.3" y="941.1" font-size="19.9" text-anchor="end" fill="#262626" stroke="#262626" stroke-width="0.25">-0.3</text>
<text x="68.3" y="872.2" font-size="19.9" text-anchor="end" fill="#262626" stroke="#262626" stroke-width="0.25">-0.2</text>
<text x="68.3" y="803.3" font-size="19.9" text-anchor="end" fill="#262626" stroke="#262626" stroke-width="0.25">-0.1</text>
<text x="68.3" y="734.5" font-size="19.9" text-anchor="end" fill="#262626" stroke="#262626" stroke-width="0.25">0</text>
<text x="68.3" y="665.6" font-size="19.9" text-anchor="end" fill="#262626" stroke="#262626" stroke-width="0.25">0.1</text>
<text x="68.3" y="596.7" font-size="19.9" text-anchor="end" fill="#262626" stroke="#262626" stroke-width="0.25">0.2</text>
<text x="68.3" y="527.8" font-size="19.9" text-anchor="end" fill="#262626" stroke="#262626" stroke-width="0.25">0.3</text>
<text x="391.1" y="987.6" font-size="22.2" text-anchor="middle" fill="#262626" stroke="#262626" stroke-width="0.25">Position (degree)</text>
<text transform="translate(26.2,724.8) rotate(-90)" font-size="22.9" text-anchor="middle" fill="#262626" stroke="#262626" stroke-width="0.25">Error (degree)</text>
<text x="359.5" y="1014.6" textLength="26.2" lengthAdjust="spacingAndGlyphs" font-size="20.5" font-weight="bold" class="cap" text-anchor="middle" fill="#000">(b)</text>
</svg>
</body></html>
